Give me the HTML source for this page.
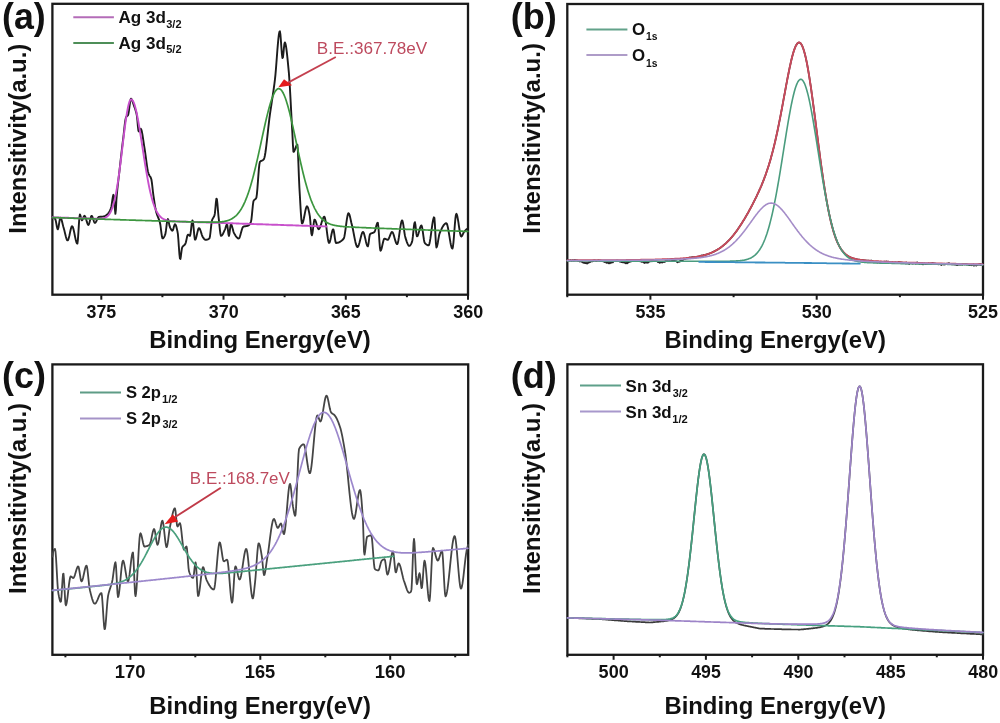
<!DOCTYPE html>
<html><head><meta charset="utf-8"><style>
html,body{margin:0;padding:0;background:#fff;width:1000px;height:723px;overflow:hidden}
svg{display:block;filter:blur(0.45px)}
</style></head><body>
<svg width="1000" height="723" viewBox="0 0 1000 723">
<g font-family='"Liberation Sans", sans-serif' fill="#111">
<rect x="52.4" y="3.8" width="415.6" height="290.9" fill="none" stroke="#1a1a1a" stroke-width="2.3"/>
<line x1="468.0" y1="294.7" x2="468.0" y2="299.7" stroke="#1a1a1a" stroke-width="2"/>
<text x="453.19" y="318.15" font-size="18.4" font-weight="bold" textLength="29.95" lengthAdjust="spacingAndGlyphs" >360</text>
<line x1="406.9" y1="294.7" x2="406.9" y2="297.2" stroke="#1a1a1a" stroke-width="2"/>
<line x1="345.8" y1="294.7" x2="345.8" y2="299.7" stroke="#1a1a1a" stroke-width="2"/>
<text x="330.96" y="318.15" font-size="18.4" font-weight="bold" textLength="29.70" lengthAdjust="spacingAndGlyphs" >365</text>
<line x1="284.6" y1="294.7" x2="284.6" y2="297.2" stroke="#1a1a1a" stroke-width="2"/>
<line x1="223.5" y1="294.7" x2="223.5" y2="299.7" stroke="#1a1a1a" stroke-width="2"/>
<text x="208.72" y="318.15" font-size="18.4" font-weight="bold" textLength="29.95" lengthAdjust="spacingAndGlyphs" >370</text>
<line x1="162.4" y1="294.7" x2="162.4" y2="297.2" stroke="#1a1a1a" stroke-width="2"/>
<line x1="101.3" y1="294.7" x2="101.3" y2="299.7" stroke="#1a1a1a" stroke-width="2"/>
<text x="86.49" y="318.15" font-size="18.4" font-weight="bold" textLength="29.70" lengthAdjust="spacingAndGlyphs" >375</text>
<text x="2.12" y="28.80" font-size="36.4" font-weight="bold" textLength="43.66" lengthAdjust="spacingAndGlyphs" >(a)</text>
<text x="149.20" y="348.40" font-size="24.0" font-weight="bold" textLength="221.59" lengthAdjust="spacingAndGlyphs" >Binding Energy(eV)</text>
<text transform="translate(25.50,232.10) rotate(-90)" x="-1.60" y="0" font-size="23.5" font-weight="bold" textLength="189.99" lengthAdjust="spacingAndGlyphs">Intensitivity(a.u.)</text>
<line x1="73.3" y1="17.2" x2="113.9" y2="17.2" stroke="#b46cb8" stroke-width="2"/>
<text x="118.48" y="22.50" font-size="17.0" font-weight="bold" textLength="47.35" lengthAdjust="spacingAndGlyphs" >Ag 3d</text>
<text x="166.25" y="28.10" font-size="11.4" font-weight="bold" textLength="15.29" lengthAdjust="spacingAndGlyphs" >3/2</text>
<line x1="73.3" y1="43.1" x2="113.9" y2="43.1" stroke="#4e8e58" stroke-width="2"/>
<text x="118.48" y="48.50" font-size="17.0" font-weight="bold" textLength="47.35" lengthAdjust="spacingAndGlyphs" >Ag 3d</text>
<text x="166.16" y="52.90" font-size="11.4" font-weight="bold" textLength="15.38" lengthAdjust="spacingAndGlyphs" >5/2</text>
<path d="M52.4,217.0 L52.9,217.1 L53.4,217.3 L53.9,217.7 L54.4,218.1 L54.9,218.6 L55.4,219.4 L55.9,221.3 L56.4,224.0 L56.9,226.8 L57.4,228.8 L57.9,229.3 L58.4,227.8 L58.9,224.9 L59.4,221.6 L59.9,218.8 L60.4,217.7 L60.9,218.1 L61.4,219.3 L61.9,221.0 L62.4,223.0 L62.9,225.1 L63.4,227.1 L63.9,228.8 L64.4,230.6 L64.9,232.7 L65.4,234.8 L65.9,236.8 L66.4,238.5 L66.9,239.8 L67.4,240.4 L67.9,240.3 L68.4,239.3 L68.9,237.6 L69.4,235.5 L69.9,233.1 L70.4,230.8 L70.9,228.7 L71.4,227.1 L71.9,226.3 L72.4,226.4 L72.9,227.3 L73.4,228.9 L73.9,231.0 L74.4,233.4 L74.9,236.0 L75.4,238.4 L75.9,240.6 L76.4,242.3 L76.9,243.4 L77.4,243.6 L77.9,239.8 L78.4,232.4 L78.9,224.1 L79.4,217.3 L79.9,214.5 L80.4,215.4 L80.9,217.4 L81.4,219.4 L81.9,220.3 L82.4,219.9 L82.9,218.8 L83.4,217.5 L83.9,216.4 L84.4,215.8 L84.9,216.1 L85.4,217.0 L85.9,218.5 L86.4,220.2 L86.9,221.9 L87.4,223.4 L87.9,224.5 L88.4,224.9 L88.9,224.3 L89.4,222.8 L89.9,220.8 L90.4,218.7 L90.9,216.9 L91.4,215.9 L91.9,216.0 L92.4,216.8 L92.9,218.2 L93.4,219.8 L93.9,221.3 L94.4,222.5 L94.9,222.9 L95.4,222.6 L95.9,222.0 L96.4,221.0 L96.9,219.9 L97.4,218.9 L97.9,217.9 L98.4,217.2 L98.9,217.0 L99.4,216.9 L99.9,216.8 L100.4,216.8 L100.9,216.7 L101.4,216.7 L101.9,216.7 L102.4,216.6 L102.9,216.6 L103.4,216.5 L103.9,216.4 L104.4,216.3 L104.9,216.1 L105.4,215.8 L105.9,215.5 L106.4,215.1 L106.9,214.7 L107.4,214.3 L107.9,213.8 L108.4,213.2 L108.9,212.5 L109.4,211.6 L109.9,210.7 L110.4,209.5 L110.9,208.3 L111.4,206.4 L111.9,203.2 L112.4,199.7 L112.9,196.6 L113.4,194.8 L113.9,195.9 L114.4,202.0 L114.9,209.4 L115.4,213.8 L115.9,209.7 L116.4,199.8 L116.9,193.8 L117.4,188.7 L117.9,184.1 L118.4,179.9 L118.9,175.7 L119.4,171.3 L119.9,166.8 L120.4,162.3 L120.9,157.9 L121.4,153.5 L121.9,149.1 L122.4,144.9 L122.9,140.8 L123.4,136.8 L123.9,132.3 L124.4,127.7 L124.9,123.4 L125.4,119.9 L125.9,117.6 L126.4,116.7 L126.9,116.2 L127.4,115.9 L127.9,115.4 L128.4,113.9 L128.9,110.9 L129.4,107.1 L129.9,103.3 L130.4,100.3 L130.9,98.7 L131.4,98.9 L131.9,99.7 L132.4,101.0 L132.9,102.4 L133.4,104.0 L133.9,105.5 L134.4,106.9 L134.9,108.2 L135.4,109.7 L135.9,111.4 L136.4,113.3 L136.9,115.8 L137.4,120.5 L137.9,126.3 L138.4,130.7 L138.9,131.5 L139.4,130.8 L139.9,129.7 L140.4,128.9 L140.9,128.8 L141.4,129.8 L141.9,131.8 L142.4,134.5 L142.9,137.6 L143.4,141.0 L143.9,144.4 L144.4,147.5 L144.9,150.6 L145.4,154.1 L145.9,157.8 L146.4,161.7 L146.9,165.3 L147.4,168.6 L147.9,171.4 L148.4,173.3 L148.9,174.5 L149.4,175.4 L149.9,176.2 L150.4,176.9 L150.9,178.0 L151.4,179.5 L151.9,182.6 L152.4,186.9 L152.9,191.5 L153.4,195.3 L153.9,198.7 L154.4,202.1 L154.9,205.3 L155.4,208.3 L155.9,210.8 L156.4,212.7 L156.9,214.3 L157.4,215.6 L157.9,216.8 L158.4,218.1 L158.9,219.4 L159.4,220.9 L159.9,222.5 L160.4,225.0 L160.9,228.8 L161.4,232.8 L161.9,236.3 L162.4,238.3 L162.9,238.4 L163.4,238.0 L163.9,237.3 L164.4,236.4 L164.9,235.3 L165.4,233.9 L165.9,230.9 L166.4,226.9 L166.9,222.8 L167.4,219.9 L167.9,219.0 L168.4,220.4 L168.9,222.9 L169.4,225.4 L169.9,227.0 L170.4,228.1 L170.9,229.1 L171.4,229.9 L171.9,230.5 L172.4,230.7 L172.9,230.1 L173.4,228.6 L173.9,226.7 L174.4,225.1 L174.9,224.2 L175.4,224.5 L175.9,225.4 L176.4,226.9 L176.9,228.9 L177.4,231.1 L177.9,234.1 L178.4,240.0 L178.9,247.2 L179.4,253.9 L179.9,258.4 L180.4,259.0 L180.9,256.0 L181.4,251.8 L181.9,248.3 L182.4,247.0 L182.9,246.3 L183.4,245.8 L183.9,245.4 L184.4,245.0 L184.9,244.5 L185.4,243.7 L185.9,242.2 L186.4,240.0 L186.9,237.6 L187.4,235.6 L187.9,234.6 L188.4,234.7 L188.9,235.2 L189.4,235.7 L189.9,235.9 L190.4,234.4 L190.9,230.8 L191.4,226.3 L191.9,222.4 L192.4,220.4 L192.9,221.5 L193.4,225.7 L193.9,231.2 L194.4,236.3 L194.9,239.5 L195.4,239.6 L195.9,238.5 L196.4,236.8 L196.9,234.6 L197.4,232.4 L197.9,230.4 L198.4,228.8 L198.9,228.1 L199.4,228.3 L199.9,229.1 L200.4,230.3 L200.9,231.8 L201.4,233.4 L201.9,235.0 L202.4,236.3 L202.9,237.2 L203.4,237.9 L203.9,238.6 L204.4,239.2 L204.9,239.6 L205.4,239.8 L205.9,239.8 L206.4,239.7 L206.9,239.6 L207.4,239.5 L207.9,239.3 L208.4,239.1 L208.9,238.8 L209.4,238.5 L209.9,236.8 L210.4,233.0 L210.9,228.3 L211.4,223.8 L211.9,220.7 L212.4,219.3 L212.9,218.3 L213.4,217.6 L213.9,216.8 L214.4,215.7 L214.9,213.4 L215.4,208.2 L215.9,202.4 L216.4,198.6 L216.9,199.1 L217.4,203.5 L217.9,209.7 L218.4,215.5 L218.9,220.1 L219.4,225.0 L219.9,229.8 L220.4,233.6 L220.9,235.7 L221.4,235.8 L221.9,235.5 L222.4,234.8 L222.9,234.0 L223.4,232.9 L223.9,231.8 L224.4,230.7 L224.9,229.6 L225.4,228.3 L225.9,226.6 L226.4,225.1 L226.9,224.2 L227.4,225.5 L227.9,229.6 L228.4,233.9 L228.9,235.9 L229.4,234.1 L229.9,230.1 L230.4,226.0 L230.9,224.2 L231.4,224.7 L231.9,226.0 L232.4,227.7 L232.9,229.6 L233.4,231.5 L233.9,232.9 L234.4,233.8 L234.9,234.6 L235.4,235.4 L235.9,236.2 L236.4,236.9 L236.9,237.4 L237.4,237.9 L237.9,238.3 L238.4,238.5 L238.9,238.4 L239.4,237.8 L239.9,236.6 L240.4,234.9 L240.9,233.1 L241.4,231.2 L241.9,229.5 L242.4,228.0 L242.9,227.1 L243.4,226.7 L243.9,226.5 L244.4,226.4 L244.9,226.3 L245.4,226.2 L245.9,226.1 L246.4,226.1 L246.9,226.0 L247.4,225.9 L247.9,225.7 L248.4,225.5 L248.9,225.2 L249.4,224.6 L249.9,223.9 L250.4,223.0 L250.9,221.8 L251.4,219.6 L251.9,215.2 L252.4,209.9 L252.9,204.8 L253.4,201.4 L253.9,200.3 L254.4,199.8 L254.9,199.5 L255.4,199.1 L255.9,198.6 L256.4,197.6 L256.9,194.1 L257.4,188.6 L257.9,181.9 L258.4,175.0 L258.9,168.7 L259.4,164.1 L259.9,161.9 L260.4,161.4 L260.9,161.0 L261.4,160.8 L261.9,160.6 L262.4,160.4 L262.9,160.1 L263.4,159.7 L263.9,159.1 L264.4,157.7 L264.9,155.5 L265.4,152.5 L265.9,149.0 L266.4,145.0 L266.9,140.7 L267.4,136.2 L267.9,131.6 L268.4,127.0 L268.9,122.6 L269.4,118.4 L269.9,114.6 L270.4,111.1 L270.9,107.8 L271.4,104.5 L271.9,101.2 L272.4,97.9 L272.9,94.5 L273.4,91.1 L273.9,87.5 L274.4,83.8 L274.9,79.8 L275.4,75.1 L275.9,69.4 L276.4,63.0 L276.9,56.4 L277.4,49.8 L277.9,43.8 L278.4,38.5 L278.9,34.4 L279.4,31.9 L279.9,31.3 L280.4,34.4 L280.9,40.5 L281.4,47.7 L281.9,54.1 L282.4,58.0 L282.9,57.6 L283.4,53.6 L283.9,48.2 L284.4,43.8 L284.9,42.4 L285.4,43.4 L285.9,45.7 L286.4,48.9 L286.9,53.0 L287.4,57.6 L287.9,62.6 L288.4,67.8 L288.9,73.1 L289.4,80.0 L289.9,88.0 L290.4,96.9 L290.9,106.3 L291.4,115.8 L291.9,125.0 L292.4,133.8 L292.9,144.5 L293.4,151.7 L293.9,151.8 L294.4,150.9 L294.9,149.7 L295.4,148.3 L295.9,146.8 L296.4,145.6 L296.9,144.7 L297.4,144.7 L297.9,151.1 L298.4,163.2 L298.9,176.8 L299.4,187.7 L299.9,196.3 L300.4,205.3 L300.9,213.5 L301.4,219.8 L301.9,223.3 L302.4,223.4 L302.9,222.4 L303.4,220.6 L303.9,218.3 L304.4,215.7 L304.9,213.1 L305.4,210.6 L305.9,208.5 L306.4,207.0 L306.9,206.3 L307.4,206.6 L307.9,207.6 L308.4,209.3 L308.9,211.4 L309.4,213.8 L309.9,216.6 L310.4,222.1 L310.9,228.6 L311.4,233.8 L311.9,235.3 L312.4,233.5 L312.9,230.0 L313.4,225.8 L313.9,222.0 L314.4,219.7 L314.9,219.6 L315.4,220.5 L315.9,221.8 L316.4,223.5 L316.9,225.2 L317.4,226.9 L317.9,228.2 L318.4,229.1 L318.9,229.2 L319.4,228.7 L319.9,227.7 L320.4,226.4 L320.9,224.9 L321.4,223.3 L321.9,221.6 L322.4,220.0 L322.9,218.7 L323.4,217.6 L323.9,216.9 L324.4,216.7 L324.9,217.8 L325.4,220.2 L325.9,223.5 L326.4,227.4 L326.9,231.5 L327.4,235.4 L327.9,238.9 L328.4,241.5 L328.9,242.9 L329.4,242.8 L329.9,241.6 L330.4,239.7 L330.9,237.4 L331.4,234.8 L331.9,232.5 L332.4,230.6 L332.9,229.4 L333.4,229.4 L333.9,231.4 L334.4,234.6 L334.9,238.3 L335.4,241.4 L335.9,242.9 L336.4,243.0 L336.9,242.9 L337.4,242.8 L337.9,242.7 L338.4,242.6 L338.9,242.4 L339.4,242.1 L339.9,241.9 L340.4,241.5 L340.9,241.2 L341.4,240.8 L341.9,240.4 L342.4,240.0 L342.9,239.5 L343.4,239.0 L343.9,238.2 L344.4,236.4 L344.9,233.6 L345.4,230.2 L345.9,226.5 L346.4,222.7 L346.9,219.2 L347.4,216.3 L347.9,214.2 L348.4,213.2 L348.9,213.5 L349.4,214.6 L349.9,216.3 L350.4,218.4 L350.9,220.7 L351.4,223.0 L351.9,225.0 L352.4,227.0 L352.9,229.3 L353.4,231.9 L353.9,234.5 L354.4,237.1 L354.9,239.6 L355.4,241.9 L355.9,243.9 L356.4,245.5 L356.9,246.6 L357.4,247.1 L357.9,246.9 L358.4,246.0 L358.9,244.6 L359.4,242.9 L359.9,240.9 L360.4,238.9 L360.9,236.9 L361.4,235.0 L361.9,233.5 L362.4,232.4 L362.9,231.9 L363.4,232.2 L363.9,233.2 L364.4,234.9 L364.9,236.9 L365.4,239.1 L365.9,241.4 L366.4,243.4 L366.9,245.1 L367.4,246.1 L367.9,246.3 L368.4,244.3 L368.9,240.6 L369.4,236.7 L369.9,234.4 L370.4,233.8 L370.9,233.5 L371.4,233.3 L371.9,233.1 L372.4,233.0 L372.9,232.8 L373.4,232.6 L373.9,232.4 L374.4,232.0 L374.9,231.1 L375.4,229.5 L375.9,227.5 L376.4,225.6 L376.9,223.9 L377.4,222.8 L377.9,223.0 L378.4,227.0 L378.9,233.7 L379.4,241.2 L379.9,247.5 L380.4,250.7 L380.9,250.4 L381.4,249.2 L381.9,247.2 L382.4,245.0 L382.9,242.7 L383.4,240.7 L383.9,239.2 L384.4,238.7 L384.9,238.8 L385.4,238.9 L385.9,239.2 L386.4,239.4 L386.9,239.6 L387.4,239.8 L387.9,239.8 L388.4,239.3 L388.9,238.4 L389.4,237.2 L389.9,235.9 L390.4,234.6 L390.9,233.4 L391.4,232.5 L391.9,232.0 L392.4,232.1 L392.9,232.8 L393.4,234.0 L393.9,235.6 L394.4,237.4 L394.9,239.2 L395.4,240.9 L395.9,242.4 L396.4,243.5 L396.9,244.1 L397.4,244.0 L397.9,242.6 L398.4,240.2 L398.9,237.2 L399.4,233.7 L399.9,230.2 L400.4,226.8 L400.9,223.9 L401.4,221.7 L401.9,220.5 L402.4,220.7 L402.9,222.5 L403.4,225.4 L403.9,228.8 L404.4,232.3 L404.9,235.4 L405.4,237.6 L405.9,239.1 L406.4,240.6 L406.9,242.1 L407.4,243.4 L407.9,244.4 L408.4,245.3 L408.9,245.8 L409.4,245.9 L409.9,245.7 L410.4,245.1 L410.9,244.3 L411.4,243.4 L411.9,242.2 L412.4,240.2 L412.9,236.2 L413.4,231.2 L413.9,226.5 L414.4,223.1 L414.9,222.2 L415.4,224.7 L415.9,229.3 L416.4,233.9 L416.9,236.4 L417.4,236.2 L417.9,235.3 L418.4,233.8 L418.9,232.1 L419.4,230.2 L419.9,228.4 L420.4,226.9 L420.9,225.8 L421.4,225.4 L421.9,226.4 L422.4,228.9 L422.9,232.3 L423.4,236.1 L423.9,239.5 L424.4,242.1 L424.9,243.2 L425.4,243.7 L425.9,244.1 L426.4,244.5 L426.9,244.8 L427.4,245.1 L427.9,245.2 L428.4,245.3 L428.9,245.1 L429.4,243.7 L429.9,241.4 L430.4,238.4 L430.9,234.9 L431.4,231.2 L431.9,227.5 L432.4,224.0 L432.9,221.0 L433.4,218.7 L433.9,217.3 L434.4,217.8 L434.9,224.4 L435.4,234.4 L435.9,243.5 L436.4,247.5 L436.9,246.8 L437.4,244.8 L437.9,242.2 L438.4,239.2 L438.9,236.3 L439.4,234.0 L439.9,232.6 L440.4,231.5 L440.9,230.3 L441.4,229.3 L441.9,228.2 L442.4,227.3 L442.9,226.4 L443.4,225.6 L443.9,224.9 L444.4,224.3 L444.9,223.8 L445.4,223.5 L445.9,223.3 L446.4,223.2 L446.9,223.9 L447.4,225.4 L447.9,227.5 L448.4,230.2 L448.9,233.1 L449.4,236.2 L449.9,239.3 L450.4,242.2 L450.9,244.7 L451.4,246.8 L451.9,248.1 L452.4,248.6 L452.9,247.0 L453.4,242.9 L453.9,237.1 L454.4,230.5 L454.9,224.0 L455.4,218.5 L455.9,214.8 L456.4,213.8 L456.9,214.7 L457.4,216.6 L457.9,219.3 L458.4,222.4 L458.9,225.8 L459.4,229.2 L459.9,232.2 L460.4,234.6 L460.9,236.1 L461.4,236.5 L461.9,236.1 L462.4,235.2 L462.9,234.1 L463.4,233.0 L463.9,232.1 L464.4,231.5 L464.9,230.9 L465.4,230.4 L465.9,229.9 L466.4,229.4 L466.9,229.1" fill="none" stroke="#1c1c1c" stroke-width="1.9" stroke-linejoin="round" stroke-linecap="round"/>
<path d="M52.4,217.3 L52.9,217.3 L53.4,217.3 L53.9,217.4 L54.4,217.4 L54.9,217.4 L55.4,217.4 L55.9,217.4 L56.4,217.4 L56.9,217.5 L57.4,217.5 L57.9,217.5 L58.4,217.5 L58.9,217.5 L59.4,217.5 L59.9,217.6 L60.4,217.6 L60.9,217.6 L61.4,217.6 L61.9,217.6 L62.4,217.6 L62.9,217.7 L63.4,217.7 L63.9,217.7 L64.4,217.7 L64.9,217.7 L65.4,217.7 L65.9,217.8 L66.4,217.8 L66.9,217.8 L67.4,217.8 L67.9,217.8 L68.4,217.8 L68.9,217.9 L69.4,217.9 L69.9,217.9 L70.4,217.9 L70.9,217.9 L71.4,217.9 L71.9,218.0 L72.4,218.0 L72.9,218.0 L73.4,218.0 L73.9,218.0 L74.4,218.0 L74.9,218.1 L75.4,218.1 L75.9,218.1 L76.4,218.1 L76.9,218.1 L77.4,218.1 L77.9,218.2 L78.4,218.2 L78.9,218.2 L79.4,218.2 L79.9,218.2 L80.4,218.2 L80.9,218.3 L81.4,218.3 L81.9,218.3 L82.4,218.3 L82.9,218.3 L83.4,218.3 L83.9,218.4 L84.4,218.4 L84.9,218.4 L85.4,218.4 L85.9,218.4 L86.4,218.4 L86.9,218.5 L87.4,218.5 L87.9,218.5 L88.4,218.5 L88.9,218.5 L89.4,218.5 L89.9,218.6 L90.4,218.6 L90.9,218.6 L91.4,218.6 L91.9,218.6 L92.4,218.6 L92.9,218.6 L93.4,218.7 L93.9,218.7 L94.4,218.7 L94.9,218.7 L95.4,218.7 L95.9,218.7 L96.4,218.7 L96.9,218.7 L97.4,218.7 L97.9,218.7 L98.4,218.7 L98.9,218.7 L99.4,218.7 L99.9,218.7 L100.4,218.7 L100.9,218.6 L101.4,218.6 L101.9,218.5 L102.4,218.5 L102.9,218.4 L103.4,218.3 L103.9,218.1 L104.4,218.0 L104.9,217.8 L105.4,217.6 L105.9,217.3 L106.4,217.0 L106.9,216.7 L107.4,216.3 L107.9,215.8 L108.4,215.3 L108.9,214.7 L109.4,214.0 L109.9,213.2 L110.4,212.3 L110.9,211.3 L111.4,210.2 L111.9,209.0 L112.4,207.6 L112.9,206.1 L113.4,204.4 L113.9,202.6 L114.4,200.7 L114.9,198.5 L115.4,196.2 L115.9,193.7 L116.4,191.0 L116.9,188.2 L117.4,185.2 L117.9,182.0 L118.4,178.6 L118.9,175.1 L119.4,171.5 L119.9,167.7 L120.4,163.8 L120.9,159.8 L121.4,155.7 L121.9,151.5 L122.4,147.4 L122.9,143.2 L123.4,139.0 L123.9,134.9 L124.4,130.9 L124.9,127.0 L125.4,123.2 L125.9,119.6 L126.4,116.3 L126.9,113.1 L127.4,110.3 L127.9,107.7 L128.4,105.4 L128.9,103.5 L129.4,101.9 L129.9,100.7 L130.4,99.9 L130.9,99.5 L131.4,99.5 L131.9,99.7 L132.4,100.2 L132.9,100.9 L133.4,101.8 L133.9,102.9 L134.4,104.3 L134.9,105.9 L135.4,107.7 L135.9,109.7 L136.4,111.8 L136.9,114.1 L137.4,116.6 L137.9,119.2 L138.4,122.0 L138.9,124.8 L139.4,127.8 L139.9,130.9 L140.4,134.0 L140.9,137.2 L141.4,140.4 L141.9,143.6 L142.4,146.9 L142.9,150.1 L143.4,153.4 L143.9,156.6 L144.4,159.8 L144.9,163.0 L145.4,166.1 L145.9,169.1 L146.4,172.0 L146.9,174.9 L147.4,177.7 L147.9,180.4 L148.4,183.0 L148.9,185.6 L149.4,188.0 L149.9,190.3 L150.4,192.5 L150.9,194.6 L151.4,196.6 L151.9,198.4 L152.4,200.2 L152.9,201.9 L153.4,203.5 L153.9,204.9 L154.4,206.3 L154.9,207.6 L155.4,208.8 L155.9,209.9 L156.4,211.0 L156.9,211.9 L157.4,212.8 L157.9,213.6 L158.4,214.4 L158.9,215.0 L159.4,215.7 L159.9,216.2 L160.4,216.8 L160.9,217.2 L161.4,217.7 L161.9,218.1 L162.4,218.4 L162.9,218.7 L163.4,219.0 L163.9,219.3 L164.4,219.5 L164.9,219.7 L165.4,219.9 L165.9,220.1 L166.4,220.2 L166.9,220.3 L167.4,220.5 L167.9,220.6 L168.4,220.7 L168.9,220.8 L169.4,220.8 L169.9,220.9 L170.4,221.0 L170.9,221.0 L171.4,221.1 L171.9,221.1 L172.4,221.2 L172.9,221.2 L173.4,221.2 L173.9,221.3 L174.4,221.3 L174.9,221.3 L175.4,221.4 L175.9,221.4 L176.4,221.4 L176.9,221.4 L177.4,221.5 L177.9,221.5 L178.4,221.5 L178.9,221.5 L179.4,221.5 L179.9,221.6 L180.4,221.6 L180.9,221.6 L181.4,221.6 L181.9,221.6 L182.4,221.7 L182.9,221.7 L183.4,221.7 L183.9,221.7 L184.4,221.7 L184.9,221.7 L185.4,221.8 L185.9,221.8 L186.4,221.8 L186.9,221.8 L187.4,221.8 L187.9,221.8 L188.4,221.9 L188.9,221.9 L189.4,221.9 L189.9,221.9 L190.4,221.9 L190.9,221.9 L191.4,222.0 L191.9,222.0 L192.4,222.0 L192.9,222.0 L193.4,222.0 L193.9,222.0 L194.4,222.1 L194.9,222.1 L195.4,222.1 L195.9,222.1 L196.4,222.1 L196.9,222.1 L197.4,222.2 L197.9,222.2 L198.4,222.2 L198.9,222.2 L199.4,222.2 L199.9,222.2 L200.4,222.3 L200.9,222.3 L201.4,222.3 L201.9,222.3 L202.4,222.3 L202.9,222.3 L203.4,222.4 L203.9,222.4 L204.4,222.4 L204.9,222.4 L205.4,222.4 L205.9,222.4 L206.4,222.5 L206.9,222.5 L207.4,222.5 L207.9,222.5 L208.4,222.5 L208.9,222.5 L209.4,222.6 L209.9,222.6 L210.4,222.6 L210.9,222.6 L211.4,222.6 L211.9,222.6 L212.4,222.7 L212.9,222.7 L213.4,222.7 L213.9,222.7 L214.4,222.7 L214.9,222.7 L215.4,222.8 L215.9,222.8 L216.4,222.8 L216.9,222.8 L217.4,222.8 L217.9,222.8 L218.4,222.9 L218.9,222.9 L219.4,222.9 L219.9,222.9 L220.4,222.9 L220.9,222.9 L221.4,223.0 L221.9,223.0 L222.4,223.0 L222.9,223.0 L223.4,223.0 L223.9,223.0 L224.4,223.1 L224.9,223.1 L225.4,223.1 L225.9,223.1 L226.4,223.1 L226.9,223.1 L227.4,223.2 L227.9,223.2 L228.4,223.2 L228.9,223.2 L229.4,223.2 L229.9,223.2 L230.4,223.3 L230.9,223.3 L231.4,223.3 L231.9,223.3 L232.4,223.3 L232.9,223.3 L233.4,223.4 L233.9,223.4 L234.4,223.4 L234.9,223.4 L235.4,223.4 L235.9,223.4 L236.4,223.5 L236.9,223.5 L237.4,223.5 L237.9,223.5 L238.4,223.5 L238.9,223.5 L239.4,223.6 L239.9,223.6 L240.4,223.6 L240.9,223.6 L241.4,223.6 L241.9,223.6 L242.4,223.7 L242.9,223.7 L243.4,223.7 L243.9,223.7 L244.4,223.7 L244.9,223.7 L245.4,223.8 L245.9,223.8 L246.4,223.8 L246.9,223.8 L247.4,223.8 L247.9,223.8 L248.4,223.9 L248.9,223.9 L249.4,223.9 L249.9,223.9 L250.4,223.9 L250.9,223.9 L251.4,224.0 L251.9,224.0 L252.4,224.0 L252.9,224.0 L253.4,224.0 L253.9,224.1 L254.4,224.1 L254.9,224.1 L255.4,224.1 L255.9,224.1 L256.4,224.1 L256.9,224.2 L257.4,224.2 L257.9,224.2 L258.4,224.2 L258.9,224.2 L259.4,224.2 L259.9,224.3 L260.4,224.3 L260.9,224.3 L261.4,224.3 L261.9,224.3 L262.4,224.3 L262.9,224.4 L263.4,224.4 L263.9,224.4 L264.4,224.4 L264.9,224.4 L265.4,224.4 L265.9,224.5 L266.4,224.5 L266.9,224.5 L267.4,224.5 L267.9,224.5 L268.4,224.5 L268.9,224.6 L269.4,224.6 L269.9,224.6 L270.4,224.6 L270.9,224.6 L271.4,224.6 L271.9,224.7 L272.4,224.7 L272.9,224.7 L273.4,224.7 L273.9,224.7 L274.4,224.7 L274.9,224.8 L275.4,224.8 L275.9,224.8 L276.4,224.8 L276.9,224.8 L277.4,224.8 L277.9,224.9 L278.4,224.9 L278.9,224.9 L279.4,224.9 L279.9,224.9 L280.4,224.9 L280.9,225.0 L281.4,225.0 L281.9,225.0 L282.4,225.0 L282.9,225.0 L283.4,225.0 L283.9,225.1 L284.4,225.1 L284.9,225.1 L285.4,225.1 L285.9,225.1 L286.4,225.1 L286.9,225.2 L287.4,225.2 L287.9,225.2 L288.4,225.2 L288.9,225.2 L289.4,225.2 L289.9,225.3 L290.4,225.3 L290.9,225.3 L291.4,225.3 L291.9,225.3 L292.4,225.3 L292.9,225.4 L293.4,225.4 L293.9,225.4 L294.4,225.4 L294.9,225.4 L295.4,225.4 L295.9,225.5 L296.4,225.5 L296.9,225.5 L297.4,225.5 L297.9,225.5 L298.4,225.5 L298.9,225.6 L299.4,225.6 L299.9,225.6 L300.4,225.6 L300.9,225.6 L301.4,225.6 L301.9,225.7 L302.4,225.7 L302.9,225.7 L303.4,225.7 L303.9,225.7 L304.4,225.7 L304.9,225.8 L305.4,225.8 L305.9,225.8 L306.4,225.8 L306.9,225.8 L307.4,225.8 L307.9,225.9 L308.4,225.9 L308.9,225.9 L309.4,225.9 L309.9,225.9 L310.4,225.9 L310.9,226.0 L311.4,226.0 L311.9,226.0 L312.4,226.0 L312.9,226.0 L313.4,226.0 L313.9,226.1 L314.4,226.1 L314.9,226.1 L315.4,226.1 L315.9,226.1 L316.4,226.1 L316.9,226.2 L317.4,226.2 L317.9,226.2 L318.4,226.2 L318.9,226.2 L319.4,226.2 L319.9,226.3 L320.4,226.3 L320.9,226.3 L321.4,226.3 L321.9,226.3 L322.4,226.3 L322.9,226.4 L323.4,226.4 L323.9,226.4 L324.4,226.4 L324.9,226.4 L325.4,226.4 L325.9,226.5 L326.4,226.5" fill="none" stroke="#c850cc" stroke-width="1.9" stroke-linejoin="round" stroke-linecap="round"/>
<path d="M52.4,217.5 L52.9,217.6 L53.4,217.6 L53.9,217.6 L54.4,217.6 L54.9,217.6 L55.4,217.6 L55.9,217.7 L56.4,217.7 L56.9,217.7 L57.4,217.7 L57.9,217.7 L58.4,217.7 L58.9,217.8 L59.4,217.8 L59.9,217.8 L60.4,217.8 L60.9,217.8 L61.4,217.8 L61.9,217.9 L62.4,217.9 L62.9,217.9 L63.4,217.9 L63.9,217.9 L64.4,217.9 L64.9,218.0 L65.4,218.0 L65.9,218.0 L66.4,218.0 L66.9,218.0 L67.4,218.0 L67.9,218.1 L68.4,218.1 L68.9,218.1 L69.4,218.1 L69.9,218.1 L70.4,218.1 L70.9,218.2 L71.4,218.2 L71.9,218.2 L72.4,218.2 L72.9,218.2 L73.4,218.2 L73.9,218.3 L74.4,218.3 L74.9,218.3 L75.4,218.3 L75.9,218.3 L76.4,218.3 L76.9,218.3 L77.4,218.4 L77.9,218.4 L78.4,218.4 L78.9,218.4 L79.4,218.4 L79.9,218.4 L80.4,218.5 L80.9,218.5 L81.4,218.5 L81.9,218.5 L82.4,218.5 L82.9,218.5 L83.4,218.6 L83.9,218.6 L84.4,218.6 L84.9,218.6 L85.4,218.6 L85.9,218.6 L86.4,218.7 L86.9,218.7 L87.4,218.7 L87.9,218.7 L88.4,218.7 L88.9,218.7 L89.4,218.8 L89.9,218.8 L90.4,218.8 L90.9,218.8 L91.4,218.8 L91.9,218.8 L92.4,218.9 L92.9,218.9 L93.4,218.9 L93.9,218.9 L94.4,218.9 L94.9,218.9 L95.4,219.0 L95.9,219.0 L96.4,219.0 L96.9,219.0 L97.4,219.0 L97.9,219.0 L98.4,219.1 L98.9,219.1 L99.4,219.1 L99.9,219.1 L100.4,219.1 L100.9,219.1 L101.4,219.1 L101.9,219.2 L102.4,219.2 L102.9,219.2 L103.4,219.2 L103.9,219.2 L104.4,219.2 L104.9,219.3 L105.4,219.3 L105.9,219.3 L106.4,219.3 L106.9,219.3 L107.4,219.3 L107.9,219.4 L108.4,219.4 L108.9,219.4 L109.4,219.4 L109.9,219.4 L110.4,219.4 L110.9,219.5 L111.4,219.5 L111.9,219.5 L112.4,219.5 L112.9,219.5 L113.4,219.5 L113.9,219.6 L114.4,219.6 L114.9,219.6 L115.4,219.6 L115.9,219.6 L116.4,219.6 L116.9,219.7 L117.4,219.7 L117.9,219.7 L118.4,219.7 L118.9,219.7 L119.4,219.7 L119.9,219.7 L120.4,219.8 L120.9,219.8 L121.4,219.8 L121.9,219.8 L122.4,219.8 L122.9,219.8 L123.4,219.9 L123.9,219.9 L124.4,219.9 L124.9,219.9 L125.4,219.9 L125.9,219.9 L126.4,220.0 L126.9,220.0 L127.4,220.0 L127.9,220.0 L128.4,220.0 L128.9,220.0 L129.4,220.1 L129.9,220.1 L130.4,220.1 L130.9,220.1 L131.4,220.1 L131.9,220.1 L132.4,220.1 L132.9,220.2 L133.4,220.2 L133.9,220.2 L134.4,220.2 L134.9,220.2 L135.4,220.2 L135.9,220.3 L136.4,220.3 L136.9,220.3 L137.4,220.3 L137.9,220.3 L138.4,220.3 L138.9,220.4 L139.4,220.4 L139.9,220.4 L140.4,220.4 L140.9,220.4 L141.4,220.4 L141.9,220.4 L142.4,220.5 L142.9,220.5 L143.4,220.5 L143.9,220.5 L144.4,220.5 L144.9,220.5 L145.4,220.6 L145.9,220.6 L146.4,220.6 L146.9,220.6 L147.4,220.6 L147.9,220.6 L148.4,220.6 L148.9,220.7 L149.4,220.7 L149.9,220.7 L150.4,220.7 L150.9,220.7 L151.4,220.7 L151.9,220.8 L152.4,220.8 L152.9,220.8 L153.4,220.8 L153.9,220.8 L154.4,220.8 L154.9,220.8 L155.4,220.9 L155.9,220.9 L156.4,220.9 L156.9,220.9 L157.4,220.9 L157.9,220.9 L158.4,221.0 L158.9,221.0 L159.4,221.0 L159.9,221.0 L160.4,221.0 L160.9,221.0 L161.4,221.0 L161.9,221.1 L162.4,221.1 L162.9,221.1 L163.4,221.1 L163.9,221.1 L164.4,221.1 L164.9,221.1 L165.4,221.2 L165.9,221.2 L166.4,221.2 L166.9,221.2 L167.4,221.2 L167.9,221.2 L168.4,221.3 L168.9,221.3 L169.4,221.3 L169.9,221.3 L170.4,221.3 L170.9,221.3 L171.4,221.3 L171.9,221.4 L172.4,221.4 L172.9,221.4 L173.4,221.4 L173.9,221.4 L174.4,221.4 L174.9,221.4 L175.4,221.5 L175.9,221.5 L176.4,221.5 L176.9,221.5 L177.4,221.5 L177.9,221.5 L178.4,221.5 L178.9,221.6 L179.4,221.6 L179.9,221.6 L180.4,221.6 L180.9,221.6 L181.4,221.6 L181.9,221.6 L182.4,221.7 L182.9,221.7 L183.4,221.7 L183.9,221.7 L184.4,221.7 L184.9,221.7 L185.4,221.7 L185.9,221.7 L186.4,221.8 L186.9,221.8 L187.4,221.8 L187.9,221.8 L188.4,221.8 L188.9,221.8 L189.4,221.8 L189.9,221.9 L190.4,221.9 L190.9,221.9 L191.4,221.9 L191.9,221.9 L192.4,221.9 L192.9,221.9 L193.4,221.9 L193.9,222.0 L194.4,222.0 L194.9,222.0 L195.4,222.0 L195.9,222.0 L196.4,222.0 L196.9,222.0 L197.4,222.0 L197.9,222.0 L198.4,222.1 L198.9,222.1 L199.4,222.1 L199.9,222.1 L200.4,222.1 L200.9,222.1 L201.4,222.1 L201.9,222.1 L202.4,222.1 L202.9,222.2 L203.4,222.2 L203.9,222.2 L204.4,222.2 L204.9,222.2 L205.4,222.2 L205.9,222.2 L206.4,222.2 L206.9,222.2 L207.4,222.2 L207.9,222.2 L208.4,222.2 L208.9,222.2 L209.4,222.2 L209.9,222.2 L210.4,222.2 L210.9,222.2 L211.4,222.2 L211.9,222.2 L212.4,222.2 L212.9,222.2 L213.4,222.2 L213.9,222.2 L214.4,222.2 L214.9,222.2 L215.4,222.2 L215.9,222.2 L216.4,222.2 L216.9,222.1 L217.4,222.1 L217.9,222.1 L218.4,222.1 L218.9,222.0 L219.4,222.0 L219.9,222.0 L220.4,221.9 L220.9,221.9 L221.4,221.8 L221.9,221.8 L222.4,221.7 L222.9,221.6 L223.4,221.6 L223.9,221.5 L224.4,221.4 L224.9,221.3 L225.4,221.2 L225.9,221.1 L226.4,220.9 L226.9,220.8 L227.4,220.7 L227.9,220.5 L228.4,220.3 L228.9,220.2 L229.4,220.0 L229.9,219.7 L230.4,219.5 L230.9,219.3 L231.4,219.0 L231.9,218.7 L232.4,218.4 L232.9,218.1 L233.4,217.8 L233.9,217.4 L234.4,217.0 L234.9,216.6 L235.4,216.2 L235.9,215.8 L236.4,215.3 L236.9,214.8 L237.4,214.2 L237.9,213.6 L238.4,213.0 L238.9,212.4 L239.4,211.7 L239.9,211.0 L240.4,210.3 L240.9,209.5 L241.4,208.7 L241.9,207.8 L242.4,206.9 L242.9,206.0 L243.4,205.0 L243.9,204.0 L244.4,202.9 L244.9,201.8 L245.4,200.6 L245.9,199.4 L246.4,198.2 L246.9,196.9 L247.4,195.5 L247.9,194.1 L248.4,192.7 L248.9,191.2 L249.4,189.7 L249.9,188.1 L250.4,186.5 L250.9,184.8 L251.4,183.1 L251.9,181.3 L252.4,179.5 L252.9,177.6 L253.4,175.7 L253.9,173.8 L254.4,171.8 L254.9,169.7 L255.4,167.7 L255.9,165.6 L256.4,163.5 L256.9,161.3 L257.4,159.1 L257.9,156.9 L258.4,154.7 L258.9,152.4 L259.4,150.1 L259.9,147.9 L260.4,145.6 L260.9,143.3 L261.4,140.9 L261.9,138.6 L262.4,136.3 L262.9,134.0 L263.4,131.7 L263.9,129.5 L264.4,127.2 L264.9,125.0 L265.4,122.8 L265.9,120.6 L266.4,118.5 L266.9,116.4 L267.4,114.4 L267.9,112.4 L268.4,110.4 L268.9,108.5 L269.4,106.7 L269.9,105.0 L270.4,103.3 L270.9,101.7 L271.4,100.1 L271.9,98.7 L272.4,97.3 L272.9,96.1 L273.4,94.9 L273.9,93.8 L274.4,92.8 L274.9,91.9 L275.4,91.1 L275.9,90.5 L276.4,89.9 L276.9,89.4 L277.4,89.1 L277.9,88.8 L278.4,88.7 L278.9,88.7 L279.4,88.8 L279.9,89.0 L280.4,89.3 L280.9,89.7 L281.4,90.3 L281.9,90.9 L282.4,91.7 L282.9,92.5 L283.4,93.5 L283.9,94.6 L284.4,95.7 L284.9,97.0 L285.4,98.3 L285.9,99.7 L286.4,101.3 L286.9,102.9 L287.4,104.5 L287.9,106.3 L288.4,108.1 L288.9,110.0 L289.4,111.9 L289.9,113.9 L290.4,116.0 L290.9,118.1 L291.4,120.2 L291.9,122.4 L292.4,124.6 L292.9,126.8 L293.4,129.1 L293.9,131.4 L294.4,133.7 L294.9,136.0 L295.4,138.4 L295.9,140.7 L296.4,143.0 L296.9,145.4 L297.4,147.7 L297.9,150.1 L298.4,152.4 L298.9,154.7 L299.4,156.9 L299.9,159.2 L300.4,161.4 L300.9,163.7 L301.4,165.8 L301.9,168.0 L302.4,170.1 L302.9,172.2 L303.4,174.2 L303.9,176.2 L304.4,178.2 L304.9,180.1 L305.4,182.0 L305.9,183.8 L306.4,185.6 L306.9,187.3 L307.4,189.0 L307.9,190.7 L308.4,192.3 L308.9,193.8 L309.4,195.3 L309.9,196.8 L310.4,198.2 L310.9,199.6 L311.4,200.9 L311.9,202.1 L312.4,203.4 L312.9,204.5 L313.4,205.7 L313.9,206.7 L314.4,207.8 L314.9,208.8 L315.4,209.7 L315.9,210.7 L316.4,211.5 L316.9,212.4 L317.4,213.2 L317.9,213.9 L318.4,214.7 L318.9,215.3 L319.4,216.0 L319.9,216.6 L320.4,217.2 L320.9,217.8 L321.4,218.3 L321.9,218.8 L322.4,219.3 L322.9,219.8 L323.4,220.2 L323.9,220.6 L324.4,221.0 L324.9,221.3 L325.4,221.7 L325.9,222.0 L326.4,222.3 L326.9,222.6 L327.4,222.9 L327.9,223.1 L328.4,223.4 L328.9,223.6 L329.4,223.8 L329.9,224.0 L330.4,224.2 L330.9,224.4 L331.4,224.5 L331.9,224.7 L332.4,224.8 L332.9,225.0 L333.4,225.1 L333.9,225.2 L334.4,225.3 L334.9,225.4 L335.4,225.5 L335.9,225.6 L336.4,225.7 L336.9,225.8 L337.4,225.9 L337.9,225.9 L338.4,226.0 L338.9,226.1 L339.4,226.1 L339.9,226.2 L340.4,226.3 L340.9,226.3 L341.4,226.4 L341.9,226.4 L342.4,226.5 L342.9,226.5 L343.4,226.6 L343.9,226.6 L344.4,226.6 L344.9,226.7 L345.4,226.7 L345.9,226.7 L346.4,226.8 L346.9,226.8 L347.4,226.8 L347.9,226.9 L348.4,226.9 L348.9,226.9 L349.4,227.0 L349.9,227.0 L350.4,227.0 L350.9,227.0 L351.4,227.1 L351.9,227.1 L352.4,227.1 L352.9,227.2 L353.4,227.2 L353.9,227.2 L354.4,227.2 L354.9,227.2 L355.4,227.3 L355.9,227.3 L356.4,227.3 L356.9,227.3 L357.4,227.4 L357.9,227.4 L358.4,227.4 L358.9,227.4 L359.4,227.5 L359.9,227.5 L360.4,227.5 L360.9,227.5 L361.4,227.5 L361.9,227.6 L362.4,227.6 L362.9,227.6 L363.4,227.6 L363.9,227.7 L364.4,227.7 L364.9,227.7 L365.4,227.7 L365.9,227.7 L366.4,227.8 L366.9,227.8 L367.4,227.8 L367.9,227.8 L368.4,227.8 L368.9,227.9 L369.4,227.9 L369.9,227.9 L370.4,227.9 L370.9,227.9 L371.4,228.0 L371.9,228.0 L372.4,228.0 L372.9,228.0 L373.4,228.0 L373.9,228.1 L374.4,228.1 L374.9,228.1 L375.4,228.1 L375.9,228.1 L376.4,228.2 L376.9,228.2 L377.4,228.2 L377.9,228.2 L378.4,228.2 L378.9,228.3 L379.4,228.3 L379.9,228.3 L380.4,228.3 L380.9,228.3 L381.4,228.4 L381.9,228.4 L382.4,228.4 L382.9,228.4 L383.4,228.4 L383.9,228.4 L384.4,228.5 L384.9,228.5 L385.4,228.5 L385.9,228.5 L386.4,228.5 L386.9,228.6 L387.4,228.6 L387.9,228.6 L388.4,228.6 L388.9,228.6 L389.4,228.7 L389.9,228.7 L390.4,228.7 L390.9,228.7 L391.4,228.7 L391.9,228.8 L392.4,228.8 L392.9,228.8 L393.4,228.8 L393.9,228.8 L394.4,228.8 L394.9,228.9 L395.4,228.9 L395.9,228.9 L396.4,228.9 L396.9,228.9 L397.4,229.0 L397.9,229.0 L398.4,229.0 L398.9,229.0 L399.4,229.0 L399.9,229.0 L400.4,229.1 L400.9,229.1 L401.4,229.1 L401.9,229.1 L402.4,229.1 L402.9,229.2 L403.4,229.2 L403.9,229.2 L404.4,229.2 L404.9,229.2 L405.4,229.2 L405.9,229.3 L406.4,229.3 L406.9,229.3 L407.4,229.3 L407.9,229.3 L408.4,229.4 L408.9,229.4 L409.4,229.4 L409.9,229.4 L410.4,229.4 L410.9,229.4 L411.4,229.5 L411.9,229.5 L412.4,229.5 L412.9,229.5 L413.4,229.5 L413.9,229.6 L414.4,229.6 L414.9,229.6 L415.4,229.6 L415.9,229.6 L416.4,229.6 L416.9,229.7 L417.4,229.7 L417.9,229.7 L418.4,229.7 L418.9,229.7 L419.4,229.7 L419.9,229.8 L420.4,229.8 L420.9,229.8 L421.4,229.8 L421.9,229.8 L422.4,229.9 L422.9,229.9 L423.4,229.9 L423.9,229.9 L424.4,229.9 L424.9,229.9 L425.4,230.0 L425.9,230.0 L426.4,230.0 L426.9,230.0 L427.4,230.0 L427.9,230.0 L428.4,230.1 L428.9,230.1 L429.4,230.1 L429.9,230.1 L430.4,230.1 L430.9,230.2 L431.4,230.2 L431.9,230.2 L432.4,230.2 L432.9,230.2 L433.4,230.2 L433.9,230.3 L434.4,230.3 L434.9,230.3 L435.4,230.3 L435.9,230.3 L436.4,230.3 L436.9,230.4 L437.4,230.4 L437.9,230.4 L438.4,230.4 L438.9,230.4 L439.4,230.5 L439.9,230.5 L440.4,230.5 L440.9,230.5 L441.4,230.5 L441.9,230.5 L442.4,230.6 L442.9,230.6 L443.4,230.6 L443.9,230.6 L444.4,230.6 L444.9,230.6 L445.4,230.7 L445.9,230.7 L446.4,230.7 L446.9,230.7 L447.4,230.7 L447.9,230.7 L448.4,230.8 L448.9,230.8 L449.4,230.8 L449.9,230.8 L450.4,230.8 L450.9,230.9 L451.4,230.9 L451.9,230.9 L452.4,230.9 L452.9,230.9 L453.4,230.9 L453.9,231.0 L454.4,231.0 L454.9,231.0 L455.4,231.0 L455.9,231.0 L456.4,231.0 L456.9,231.1 L457.4,231.1 L457.9,231.1 L458.4,231.1 L458.9,231.1 L459.4,231.1 L459.9,231.2 L460.4,231.2 L460.9,231.2 L461.4,231.2 L461.9,231.2 L462.4,231.2 L462.9,231.3 L463.4,231.3 L463.9,231.3 L464.4,231.3 L464.9,231.3 L465.4,231.4 L465.9,231.4 L466.4,231.4 L466.9,231.4 L467.4,231.4 L467.9,231.4" fill="none" stroke="#3c963f" stroke-width="1.7" stroke-linejoin="round" stroke-linecap="round"/>
<line x1="335.8" y1="57" x2="288" y2="82.6" stroke="#c4404f" stroke-width="1.8"/>
<polygon points="278.4,87.3 284,79.3 292.2,85.3" fill="#e41c1c"/>
<text x="316.84" y="53.75" font-size="16.8" fill="#bd4a5e" textLength="110.48" lengthAdjust="spacingAndGlyphs" >B.E.:367.78eV</text>
<rect x="567.3" y="4.0" width="415.7" height="290.7" fill="none" stroke="#1a1a1a" stroke-width="2.3"/>
<line x1="983.0" y1="294.7" x2="983.0" y2="299.7" stroke="#1a1a1a" stroke-width="2"/>
<text x="968.05" y="318.15" font-size="18.4" font-weight="bold" textLength="29.85" lengthAdjust="spacingAndGlyphs" >525</text>
<line x1="899.9" y1="294.7" x2="899.9" y2="297.2" stroke="#1a1a1a" stroke-width="2"/>
<line x1="816.7" y1="294.7" x2="816.7" y2="299.7" stroke="#1a1a1a" stroke-width="2"/>
<text x="801.77" y="318.15" font-size="18.4" font-weight="bold" textLength="30.09" lengthAdjust="spacingAndGlyphs" >530</text>
<line x1="733.6" y1="294.7" x2="733.6" y2="297.2" stroke="#1a1a1a" stroke-width="2"/>
<line x1="650.4" y1="294.7" x2="650.4" y2="299.7" stroke="#1a1a1a" stroke-width="2"/>
<text x="635.49" y="318.15" font-size="18.4" font-weight="bold" textLength="29.85" lengthAdjust="spacingAndGlyphs" >535</text>
<line x1="567.3" y1="294.7" x2="567.3" y2="297.2" stroke="#1a1a1a" stroke-width="2"/>
<text x="510.80" y="28.80" font-size="36.4" font-weight="bold" textLength="46.10" lengthAdjust="spacingAndGlyphs" >(b)</text>
<text x="664.40" y="348.40" font-size="24.0" font-weight="bold" textLength="221.59" lengthAdjust="spacingAndGlyphs" >Binding Energy(eV)</text>
<text transform="translate(540.20,232.10) rotate(-90)" x="-1.60" y="0" font-size="23.5" font-weight="bold" textLength="190.60" lengthAdjust="spacingAndGlyphs">Intensitivity(a.u.)</text>
<line x1="586.4" y1="29.6" x2="627.4" y2="29.6" stroke="#62a28a" stroke-width="2"/>
<text x="632.11" y="35.40" font-size="17.0" font-weight="bold" textLength="13.10" lengthAdjust="spacingAndGlyphs" >O</text>
<text x="645.95" y="40.20" font-size="11.4" font-weight="bold" textLength="11.47" lengthAdjust="spacingAndGlyphs" >1s</text>
<line x1="586.4" y1="55.0" x2="627.4" y2="55.0" stroke="#ae9cc8" stroke-width="2"/>
<text x="632.11" y="61.30" font-size="17.0" font-weight="bold" textLength="13.10" lengthAdjust="spacingAndGlyphs" >O</text>
<text x="645.95" y="66.50" font-size="11.4" font-weight="bold" textLength="11.47" lengthAdjust="spacingAndGlyphs" >1s</text>
<path d="M567.3,260.1 L567.8,260.0 L568.3,260.3 L568.8,260.5 L569.3,260.7 L569.8,260.4 L570.3,260.2 L570.8,260.1 L571.3,260.6 L571.8,260.9 L572.3,260.4 L572.8,260.0 L573.3,260.1 L573.8,260.9 L574.3,260.5 L574.8,259.9 L575.3,260.4 L575.8,260.1 L576.3,260.3 L576.8,260.4 L577.3,260.4 L577.8,260.9 L578.3,260.8 L578.8,260.8 L579.3,261.2 L579.8,261.5 L580.3,260.9 L580.8,261.5 L581.3,261.5 L581.8,262.0 L582.3,261.9 L582.8,262.5 L583.3,262.7 L583.8,262.8 L584.3,262.8 L584.8,263.1 L585.3,263.0 L585.8,262.9 L586.3,263.4 L586.8,262.9 L587.3,263.5 L587.8,263.2 L588.3,262.3 L588.8,262.7 L589.3,262.1 L589.8,262.2 L590.3,262.0 L590.8,261.2 L591.3,261.5 L591.8,261.3 L592.3,261.5 L592.8,260.6 L593.3,261.1 L593.8,260.4 L594.3,260.5 L594.8,260.3 L595.3,260.9 L595.8,260.6 L596.3,261.1 L596.8,260.6 L597.3,260.6 L597.8,260.6 L598.3,260.2 L598.8,260.4 L599.3,260.8 L599.8,260.4 L600.3,260.6 L600.8,260.6 L601.3,260.9 L601.8,260.7 L602.3,260.9 L602.8,261.2 L603.3,261.4 L603.8,261.3 L604.3,262.0 L604.8,261.6 L605.3,261.8 L605.8,262.0 L606.3,262.9 L606.8,262.7 L607.3,262.7 L607.8,262.7 L608.3,263.3 L608.8,262.9 L609.3,262.8 L609.8,263.3 L610.3,262.7 L610.8,262.8 L611.3,262.7 L611.8,262.4 L612.3,262.3 L612.8,262.5 L613.3,261.7 L613.8,261.3 L614.3,260.9 L614.8,261.2 L615.3,261.0 L615.8,261.1 L616.3,260.7 L616.8,260.7 L617.3,260.6 L617.8,260.6 L618.3,260.8 L618.8,260.8 L619.3,261.0 L619.8,261.7 L620.3,261.4 L620.8,261.0 L621.3,262.2 L621.8,261.9 L622.3,261.8 L622.8,262.5 L623.3,262.5 L623.8,262.5 L624.3,262.6 L624.8,262.6 L625.3,263.0 L625.8,263.4 L626.3,262.9 L626.8,263.1 L627.3,263.4 L627.8,262.4 L628.3,262.6 L628.8,262.3 L629.3,261.8 L629.8,261.6 L630.3,261.7 L630.8,261.6 L631.3,261.1 L631.8,261.0 L632.3,261.1 L632.8,260.8 L633.3,260.8 L633.8,260.6 L634.3,260.5 L634.8,260.8 L635.3,260.4 L635.8,260.2 L636.3,260.4 L636.8,259.9 L637.3,260.1 L637.8,260.5 L638.3,260.6 L638.8,261.0 L639.3,260.6 L639.8,260.3 L640.3,261.5 L640.8,261.5 L641.3,261.0 L641.8,262.0 L642.3,261.8 L642.8,261.4 L643.3,262.1 L643.8,262.2 L644.3,263.0 L644.8,262.4 L645.3,262.6 L645.8,262.7 L646.3,262.6 L646.8,262.4 L647.3,262.6 L647.8,262.8 L648.3,262.4 L648.8,261.8 L649.3,261.5 L649.8,261.7 L650.3,261.2 L650.8,261.0 L651.3,260.5 L651.8,261.4 L652.3,261.0 L652.8,260.3 L653.3,260.8 L653.8,260.9 L654.3,259.8 L654.8,260.4 L655.3,260.5 L655.8,260.9 L656.3,260.8 L656.8,261.0 L657.3,261.2 L657.8,262.0 L658.3,262.3 L658.8,261.7 L659.3,261.7 L659.8,262.9 L660.3,262.0 L660.8,262.2 L661.3,262.4 L661.8,262.5 L662.3,262.6 L662.8,262.3 L663.3,261.8 L663.8,262.0 L664.3,261.7 L664.8,262.0 L665.3,261.2 L665.8,260.6 L666.3,260.4 L666.8,261.0 L667.3,260.2 L667.8,259.5 L668.3,259.8 L668.8,259.9 L669.3,260.1 L669.8,259.4 L670.3,259.9 L670.8,260.0 L671.3,259.6 L671.8,259.8 L672.3,260.5 L672.8,260.6 L673.3,260.5 L673.8,260.6 L674.3,261.0 L674.8,260.8 L675.3,261.0 L675.8,261.0 L676.3,261.4 L676.8,261.5 L677.3,262.4 L677.8,261.6 L678.3,262.0 L678.8,262.0 L679.3,261.5 L679.8,261.7 L680.3,260.6 L680.8,261.0 L681.3,261.0 L681.8,259.8 L682.3,259.9 L682.8,260.3 L683.3,259.7 L683.8,259.2 L684.3,259.1 L684.8,258.9 L685.3,259.1 L685.8,258.8 L686.3,258.4 L686.8,258.2 L687.3,258.2 L687.8,258.5 L688.3,258.1 L688.8,258.1 L689.3,257.8 L689.8,257.4 L690.3,257.5 L690.8,257.8 L691.3,257.6 L691.8,257.2 L692.3,257.0 L692.8,257.4 L693.3,257.2 L693.8,257.1 L694.3,257.1 L694.8,257.2 L695.3,257.1 L695.8,257.2 L696.3,257.1 L696.8,257.2 L697.3,256.9 L697.8,256.5 L698.3,256.5 L698.8,256.6 L699.3,256.2 L699.8,256.4 L700.3,256.5 L700.8,255.8 L701.3,255.4 L701.8,256.1 L702.3,255.7 L702.8,255.8 L703.3,255.0 L703.8,255.8 L704.3,255.4 L704.8,255.0 L705.3,254.9 L705.8,254.7 L706.3,254.6 L706.8,254.4 L707.3,254.3 L707.8,254.1 L708.3,253.9 L708.8,253.8 L709.3,253.6 L709.8,253.4 L710.3,253.2 L710.8,253.0 L711.3,252.8 L711.8,252.6 L712.3,252.3 L712.8,252.1 L713.3,251.9 L713.8,251.6 L714.3,251.4 L714.8,251.1 L715.3,250.9 L715.8,250.6 L716.3,250.3 L716.8,250.0 L717.3,249.7 L717.8,249.4 L718.3,249.1 L718.8,248.8 L719.3,248.5 L719.8,248.1 L720.3,247.8 L720.8,247.4 L721.3,247.1 L721.8,246.7 L722.3,246.3 L722.8,245.9 L723.3,245.5 L723.8,245.1 L724.3,244.7 L724.8,244.2 L725.3,243.8 L725.8,243.3 L726.3,242.9 L726.8,242.4 L727.3,241.9 L727.8,241.4 L728.3,240.9 L728.8,240.4 L729.3,239.9 L729.8,239.3 L730.3,238.8 L730.8,238.2 L731.3,237.7 L731.8,237.1 L732.3,236.5 L732.8,235.9 L733.3,235.3 L733.8,234.6 L734.3,234.0 L734.8,233.4 L735.3,232.7 L735.8,232.0 L736.3,231.4 L736.8,230.7 L737.3,230.0 L737.8,229.3 L738.3,228.5 L738.8,227.8 L739.3,227.1 L739.8,226.3 L740.3,225.6 L740.8,224.8 L741.3,224.0 L741.8,223.2 L742.3,222.4 L742.8,221.6 L743.3,220.8 L743.8,220.0 L744.3,219.2 L744.8,218.3 L745.3,217.5 L745.8,216.6 L746.3,215.8 L746.8,214.9 L747.3,214.0 L747.8,213.2 L748.3,212.3 L748.8,211.4 L749.3,210.4 L749.8,209.5 L750.3,208.6 L750.8,207.7 L751.3,206.7 L751.8,205.8 L752.3,204.8 L752.8,203.9 L753.3,202.9 L753.8,201.9 L754.3,200.9 L754.8,199.9 L755.3,198.9 L755.8,197.9 L756.3,196.8 L756.8,195.8 L757.3,194.7 L757.8,193.7 L758.3,192.6 L758.8,191.5 L759.3,190.4 L759.8,189.2 L760.3,188.1 L760.8,186.9 L761.3,185.8 L761.8,184.6 L762.3,183.3 L762.8,182.1 L763.3,180.8 L763.8,179.6 L764.3,178.3 L764.8,176.9 L765.3,175.6 L765.8,174.2 L766.3,172.8 L766.8,171.3 L767.3,169.8 L767.8,168.3 L768.3,166.8 L768.8,165.2 L769.3,163.5 L769.8,161.9 L770.3,160.2 L770.8,158.4 L771.3,156.6 L771.8,154.8 L772.3,152.9 L772.8,151.0 L773.3,149.1 L773.8,147.0 L774.3,145.0 L774.8,142.9 L775.3,140.7 L775.8,138.5 L776.3,136.3 L776.8,134.0 L777.3,131.7 L777.8,129.3 L778.3,126.9 L778.8,124.4 L779.3,121.9 L779.8,119.4 L780.3,116.9 L780.8,114.3 L781.3,111.6 L781.8,109.0 L782.3,106.3 L782.8,103.6 L783.3,100.9 L783.8,98.2 L784.3,95.5 L784.8,92.8 L785.3,90.1 L785.8,87.4 L786.3,84.7 L786.8,82.1 L787.3,79.4 L787.8,76.8 L788.3,74.3 L788.8,71.8 L789.3,69.4 L789.8,67.0 L790.3,64.7 L790.8,62.5 L791.3,60.3 L791.8,58.3 L792.3,56.3 L792.8,54.5 L793.3,52.7 L793.8,51.1 L794.3,49.6 L794.8,48.3 L795.3,47.0 L795.8,45.9 L796.3,45.0 L796.8,44.2 L797.3,43.5 L797.8,43.0 L798.3,42.7 L798.8,42.5 L799.3,42.5 L799.8,42.7 L800.3,43.0 L800.8,43.5 L801.3,44.2 L801.8,45.1 L802.3,46.1 L802.8,47.3 L803.3,48.7 L803.8,50.2 L804.3,51.9 L804.8,53.7 L805.3,55.7 L805.8,57.9 L806.3,60.2 L806.8,62.6 L807.3,65.2 L807.8,68.0 L808.3,70.8 L808.8,73.8 L809.3,76.9 L809.8,80.1 L810.3,83.3 L810.8,86.7 L811.3,90.2 L811.8,93.8 L812.3,97.4 L812.8,101.1 L813.3,104.8 L813.8,108.6 L814.3,112.4 L814.8,116.3 L815.3,120.2 L815.8,124.1 L816.3,128.0 L816.8,131.9 L817.3,135.8 L817.8,139.7 L818.3,143.6 L818.8,147.4 L819.3,151.2 L819.8,155.0 L820.3,158.8 L820.8,162.5 L821.3,166.1 L821.8,169.7 L822.3,173.2 L822.8,176.7 L823.3,180.1 L823.8,183.4 L824.3,186.6 L824.8,189.8 L825.3,192.9 L825.8,195.9 L826.3,198.8 L826.8,201.7 L827.3,204.4 L827.8,207.1 L828.3,209.7 L828.8,212.2 L829.3,214.6 L829.8,216.9 L830.3,219.1 L830.8,221.3 L831.3,223.3 L831.8,225.3 L832.3,227.2 L832.8,229.0 L833.3,230.8 L833.8,232.4 L834.3,234.0 L834.8,235.5 L835.3,237.0 L835.8,238.4 L836.3,239.7 L836.8,240.9 L837.3,242.1 L837.8,243.2 L838.3,244.2 L838.8,245.2 L839.3,246.2 L839.8,247.1 L840.3,247.9 L840.8,248.7 L841.3,249.4 L841.8,250.2 L842.3,250.8 L842.8,251.4 L843.3,252.0 L843.8,252.6 L844.3,253.1 L844.8,253.6 L845.3,254.0 L845.8,254.5 L846.3,254.9 L846.8,255.2 L847.3,255.6 L847.8,255.9 L848.3,256.2 L848.8,256.5 L849.3,256.8 L849.8,257.0 L850.3,257.3 L850.8,257.5 L851.3,257.7 L851.8,257.9 L852.3,258.1 L852.8,258.2 L853.3,258.4 L853.8,258.5 L854.3,258.7 L854.8,258.8 L855.3,258.9 L855.8,259.1 L856.3,259.2 L856.8,259.3 L857.3,259.4 L857.8,259.5 L858.3,259.6 L858.8,259.6 L859.3,259.7 L859.8,259.8 L860.3,259.9 L860.8,259.9 L861.3,260.0 L861.8,260.1 L862.3,260.1 L862.8,260.2 L863.3,260.2 L863.8,260.3 L864.3,260.3 L864.8,260.4 L865.3,260.4 L865.8,260.5 L866.3,260.5 L866.8,260.6 L867.3,260.6 L867.8,260.7 L868.3,260.7 L868.8,260.7 L869.3,260.8 L869.8,260.8 L870.3,260.9 L870.8,260.9 L871.3,260.5 L871.8,261.4 L872.3,261.4 L872.8,262.1 L873.3,261.8 L873.8,261.7 L874.3,262.0 L874.8,262.0 L875.3,261.9 L875.8,261.8 L876.3,261.6 L876.8,262.1 L877.3,262.6 L877.8,261.6 L878.3,261.9 L878.8,262.4 L879.3,262.2 L879.8,262.3 L880.3,261.6 L880.8,262.0 L881.3,262.3 L881.8,262.3 L882.3,262.1 L882.8,261.8 L883.3,262.1 L883.8,261.6 L884.3,261.6 L884.8,261.5 L885.3,262.2 L885.8,261.6 L886.3,261.9 L886.8,261.3 L887.3,262.4 L887.8,262.3 L888.3,261.7 L888.8,261.8 L889.3,262.9 L889.8,262.2 L890.3,263.1 L890.8,262.5 L891.3,261.9 L891.8,263.1 L892.3,262.9 L892.8,263.0 L893.3,262.7 L893.8,262.8 L894.3,263.2 L894.8,262.6 L895.3,262.3 L895.8,263.1 L896.3,262.7 L896.8,263.2 L897.3,262.7 L897.8,262.6 L898.3,262.6 L898.8,262.0 L899.3,263.0 L899.8,262.4 L900.3,262.4 L900.8,262.9 L901.3,262.4 L901.8,262.7 L902.3,262.6 L902.8,262.9 L903.3,262.8 L903.8,263.2 L904.3,262.8 L904.8,263.1 L905.3,262.8 L905.8,263.5 L906.3,262.5 L906.8,263.3 L907.3,263.4 L907.8,263.5 L908.3,263.4 L908.8,263.8 L909.3,264.1 L909.8,263.3 L910.3,262.9 L910.8,263.1 L911.3,263.2 L911.8,263.4 L912.3,263.4 L912.8,263.7 L913.3,263.2 L913.8,263.3 L914.3,263.3 L914.8,262.9 L915.3,263.0 L915.8,263.9 L916.3,263.0 L916.8,262.6 L917.3,262.3 L917.8,263.3 L918.3,263.0 L918.8,263.0 L919.3,264.0 L919.8,263.8 L920.3,262.9 L920.8,263.4 L921.3,263.9 L921.8,263.9 L922.3,263.4 L922.8,264.3 L923.3,264.4 L923.8,263.5 L924.3,263.3 L924.8,263.5 L925.3,264.1 L925.8,264.2 L926.3,264.0 L926.8,263.7 L927.3,263.9 L927.8,264.0 L928.3,263.5 L928.8,263.3 L929.3,263.7 L929.8,264.1 L930.3,263.7 L930.8,263.6 L931.3,263.3 L931.8,263.7 L932.3,262.9 L932.8,263.3 L933.3,263.2 L933.8,263.4 L934.3,263.3 L934.8,263.9 L935.3,263.7 L935.8,263.6 L936.3,264.1 L936.8,264.0 L937.3,263.9 L937.8,263.9 L938.3,264.4 L938.8,263.9 L939.3,264.2 L939.8,264.2 L940.3,264.4 L940.8,264.2 L941.3,265.0 L941.8,263.8 L942.3,264.5 L942.8,264.3 L943.3,264.6 L943.8,263.7 L944.3,264.5 L944.8,263.7 L945.3,264.3 L945.8,264.2 L946.3,264.0 L946.8,263.7 L947.3,263.6 L947.8,263.8 L948.3,263.5 L948.8,263.1 L949.3,263.3 L949.8,264.1 L950.3,264.2 L950.8,264.2 L951.3,264.2 L951.8,264.4 L952.3,264.5 L952.8,264.5 L953.3,264.2 L953.8,264.3 L954.3,264.2 L954.8,264.6 L955.3,264.3 L955.8,264.6 L956.3,265.0 L956.8,264.5 L957.3,265.0 L957.8,265.1 L958.3,264.1 L958.8,264.2 L959.3,264.7 L959.8,264.3 L960.3,264.7 L960.8,264.7 L961.3,264.3 L961.8,264.6 L962.3,264.8 L962.8,264.5 L963.3,263.9 L963.8,264.0 L964.3,263.9 L964.8,264.6 L965.3,264.2 L965.8,264.1 L966.3,264.4 L966.8,264.6 L967.3,264.4 L967.8,264.7 L968.3,264.7 L968.8,265.0 L969.3,265.1 L969.8,264.9 L970.3,264.8 L970.8,265.1 L971.3,264.7 L971.8,265.3 L972.3,265.1 L972.8,265.1 L973.3,264.3 L973.8,265.7 L974.3,265.4 L974.8,265.3 L975.3,264.9 L975.8,265.1 L976.3,265.7 L976.8,264.6 L977.3,264.9 L977.8,264.8 L978.3,264.6 L978.8,264.6 L979.3,264.1 L979.8,264.6 L980.3,264.0 L980.8,265.1 L981.3,264.8 L981.8,264.4 L982.3,264.1 L982.8,264.9" fill="none" stroke="#262626" stroke-width="1.7" stroke-linejoin="round" stroke-linecap="round"/>
<path d="M567.3,260.4 L567.8,260.4 L568.3,260.4 L568.8,260.4 L569.3,260.4 L569.8,260.4 L570.3,260.4 L570.8,260.4 L571.3,260.4 L571.8,260.4 L572.3,260.4 L572.8,260.4 L573.3,260.4 L573.8,260.4 L574.3,260.4 L574.8,260.4 L575.3,260.4 L575.8,260.4 L576.3,260.3 L576.8,260.3 L577.3,260.3 L577.8,260.3 L578.3,260.3 L578.8,260.3 L579.3,260.3 L579.8,260.3 L580.3,260.3 L580.8,260.3 L581.3,260.3 L581.8,260.3 L582.3,260.3 L582.8,260.3 L583.3,260.3 L583.8,260.3 L584.3,260.3 L584.8,260.3 L585.3,260.3 L585.8,260.3 L586.3,260.3 L586.8,260.3 L587.3,260.3 L587.8,260.3 L588.3,260.3 L588.8,260.3 L589.3,260.3 L589.8,260.3 L590.3,260.3 L590.8,260.3 L591.3,260.3 L591.8,260.3 L592.3,260.3 L592.8,260.3 L593.3,260.3 L593.8,260.3 L594.3,260.3 L594.8,260.3 L595.3,260.3 L595.8,260.3 L596.3,260.3 L596.8,260.3 L597.3,260.3 L597.8,260.3 L598.3,260.3 L598.8,260.3 L599.3,260.3 L599.8,260.3 L600.3,260.3 L600.8,260.3 L601.3,260.3 L601.8,260.2 L602.3,260.2 L602.8,260.2 L603.3,260.2 L603.8,260.2 L604.3,260.2 L604.8,260.2 L605.3,260.2 L605.8,260.2 L606.3,260.2 L606.8,260.2 L607.3,260.2 L607.8,260.2 L608.3,260.2 L608.8,260.2 L609.3,260.2 L609.8,260.2 L610.3,260.2 L610.8,260.2 L611.3,260.2 L611.8,260.2 L612.3,260.2 L612.8,260.2 L613.3,260.2 L613.8,260.2 L614.3,260.2 L614.8,260.2 L615.3,260.2 L615.8,260.2 L616.3,260.1 L616.8,260.1 L617.3,260.1 L617.8,260.1 L618.3,260.1 L618.8,260.1 L619.3,260.1 L619.8,260.1 L620.3,260.1 L620.8,260.1 L621.3,260.1 L621.8,260.1 L622.3,260.1 L622.8,260.1 L623.3,260.1 L623.8,260.1 L624.3,260.1 L624.8,260.1 L625.3,260.1 L625.8,260.1 L626.3,260.0 L626.8,260.0 L627.3,260.0 L627.8,260.0 L628.3,260.0 L628.8,260.0 L629.3,260.0 L629.8,260.0 L630.3,260.0 L630.8,260.0 L631.3,260.0 L631.8,260.0 L632.3,260.0 L632.8,260.0 L633.3,260.0 L633.8,260.0 L634.3,259.9 L634.8,259.9 L635.3,259.9 L635.8,259.9 L636.3,259.9 L636.8,259.9 L637.3,259.9 L637.8,259.9 L638.3,259.9 L638.8,259.9 L639.3,259.9 L639.8,259.9 L640.3,259.9 L640.8,259.8 L641.3,259.8 L641.8,259.8 L642.3,259.8 L642.8,259.8 L643.3,259.8 L643.8,259.8 L644.3,259.8 L644.8,259.8 L645.3,259.8 L645.8,259.8 L646.3,259.7 L646.8,259.7 L647.3,259.7 L647.8,259.7 L648.3,259.7 L648.8,259.7 L649.3,259.7 L649.8,259.7 L650.3,259.7 L650.8,259.6 L651.3,259.6 L651.8,259.6 L652.3,259.6 L652.8,259.6 L653.3,259.6 L653.8,259.6 L654.3,259.6 L654.8,259.6 L655.3,259.5 L655.8,259.5 L656.3,259.5 L656.8,259.5 L657.3,259.5 L657.8,259.5 L658.3,259.5 L658.8,259.4 L659.3,259.4 L659.8,259.4 L660.3,259.4 L660.8,259.4 L661.3,259.4 L661.8,259.4 L662.3,259.3 L662.8,259.3 L663.3,259.3 L663.8,259.3 L664.3,259.3 L664.8,259.3 L665.3,259.2 L665.8,259.2 L666.3,259.2 L666.8,259.2 L667.3,259.2 L667.8,259.2 L668.3,259.1 L668.8,259.1 L669.3,259.1 L669.8,259.1 L670.3,259.1 L670.8,259.0 L671.3,259.0 L671.8,259.0 L672.3,259.0 L672.8,258.9 L673.3,258.9 L673.8,258.9 L674.3,258.9 L674.8,258.8 L675.3,258.8 L675.8,258.8 L676.3,258.8 L676.8,258.7 L677.3,258.7 L677.8,258.7 L678.3,258.7 L678.8,258.6 L679.3,258.6 L679.8,258.6 L680.3,258.5 L680.8,258.5 L681.3,258.5 L681.8,258.4 L682.3,258.4 L682.8,258.4 L683.3,258.3 L683.8,258.3 L684.3,258.2 L684.8,258.2 L685.3,258.2 L685.8,258.1 L686.3,258.1 L686.8,258.0 L687.3,258.0 L687.8,257.9 L688.3,257.9 L688.8,257.8 L689.3,257.8 L689.8,257.7 L690.3,257.7 L690.8,257.6 L691.3,257.6 L691.8,257.5 L692.3,257.4 L692.8,257.4 L693.3,257.3 L693.8,257.2 L694.3,257.2 L694.8,257.1 L695.3,257.0 L695.8,256.9 L696.3,256.9 L696.8,256.8 L697.3,256.7 L697.8,256.6 L698.3,256.5 L698.8,256.4 L699.3,256.3 L699.8,256.2 L700.3,256.1 L700.8,256.0 L701.3,255.9 L701.8,255.8 L702.3,255.7 L702.8,255.6 L703.3,255.4 L703.8,255.3 L704.3,255.2 L704.8,255.0 L705.3,254.9 L705.8,254.7 L706.3,254.6 L706.8,254.4 L707.3,254.3 L707.8,254.1 L708.3,253.9 L708.8,253.8 L709.3,253.6 L709.8,253.4 L710.3,253.2 L710.8,253.0 L711.3,252.8 L711.8,252.6 L712.3,252.3 L712.8,252.1 L713.3,251.9 L713.8,251.6 L714.3,251.4 L714.8,251.1 L715.3,250.9 L715.8,250.6 L716.3,250.3 L716.8,250.0 L717.3,249.7 L717.8,249.4 L718.3,249.1 L718.8,248.8 L719.3,248.5 L719.8,248.1 L720.3,247.8 L720.8,247.4 L721.3,247.1 L721.8,246.7 L722.3,246.3 L722.8,245.9 L723.3,245.5 L723.8,245.1 L724.3,244.7 L724.8,244.2 L725.3,243.8 L725.8,243.3 L726.3,242.9 L726.8,242.4 L727.3,241.9 L727.8,241.4 L728.3,240.9 L728.8,240.4 L729.3,239.9 L729.8,239.3 L730.3,238.8 L730.8,238.2 L731.3,237.7 L731.8,237.1 L732.3,236.5 L732.8,235.9 L733.3,235.3 L733.8,234.6 L734.3,234.0 L734.8,233.4 L735.3,232.7 L735.8,232.0 L736.3,231.4 L736.8,230.7 L737.3,230.0 L737.8,229.3 L738.3,228.5 L738.8,227.8 L739.3,227.1 L739.8,226.3 L740.3,225.6 L740.8,224.8 L741.3,224.0 L741.8,223.2 L742.3,222.4 L742.8,221.6 L743.3,220.8 L743.8,220.0 L744.3,219.2 L744.8,218.3 L745.3,217.5 L745.8,216.6 L746.3,215.8 L746.8,214.9 L747.3,214.0 L747.8,213.2 L748.3,212.3 L748.8,211.4 L749.3,210.4 L749.8,209.5 L750.3,208.6 L750.8,207.7 L751.3,206.7 L751.8,205.8 L752.3,204.8 L752.8,203.9 L753.3,202.9 L753.8,201.9 L754.3,200.9 L754.8,199.9 L755.3,198.9 L755.8,197.9 L756.3,196.8 L756.8,195.8 L757.3,194.7 L757.8,193.7 L758.3,192.6 L758.8,191.5 L759.3,190.4 L759.8,189.2 L760.3,188.1 L760.8,186.9 L761.3,185.8 L761.8,184.6 L762.3,183.3 L762.8,182.1 L763.3,180.8 L763.8,179.6 L764.3,178.3 L764.8,176.9 L765.3,175.6 L765.8,174.2 L766.3,172.8 L766.8,171.3 L767.3,169.8 L767.8,168.3 L768.3,166.8 L768.8,165.2 L769.3,163.5 L769.8,161.9 L770.3,160.2 L770.8,158.4 L771.3,156.6 L771.8,154.8 L772.3,152.9 L772.8,151.0 L773.3,149.1 L773.8,147.0 L774.3,145.0 L774.8,142.9 L775.3,140.7 L775.8,138.5 L776.3,136.3 L776.8,134.0 L777.3,131.7 L777.8,129.3 L778.3,126.9 L778.8,124.4 L779.3,121.9 L779.8,119.4 L780.3,116.9 L780.8,114.3 L781.3,111.6 L781.8,109.0 L782.3,106.3 L782.8,103.6 L783.3,100.9 L783.8,98.2 L784.3,95.5 L784.8,92.8 L785.3,90.1 L785.8,87.4 L786.3,84.7 L786.8,82.1 L787.3,79.4 L787.8,76.8 L788.3,74.3 L788.8,71.8 L789.3,69.4 L789.8,67.0 L790.3,64.7 L790.8,62.5 L791.3,60.3 L791.8,58.3 L792.3,56.3 L792.8,54.5 L793.3,52.7 L793.8,51.1 L794.3,49.6 L794.8,48.3 L795.3,47.0 L795.8,45.9 L796.3,45.0 L796.8,44.2 L797.3,43.5 L797.8,43.0 L798.3,42.7 L798.8,42.5 L799.3,42.5 L799.8,42.7 L800.3,43.0 L800.8,43.5 L801.3,44.2 L801.8,45.1 L802.3,46.1 L802.8,47.3 L803.3,48.7 L803.8,50.2 L804.3,51.9 L804.8,53.7 L805.3,55.7 L805.8,57.9 L806.3,60.2 L806.8,62.6 L807.3,65.2 L807.8,68.0 L808.3,70.8 L808.8,73.8 L809.3,76.9 L809.8,80.1 L810.3,83.3 L810.8,86.7 L811.3,90.2 L811.8,93.8 L812.3,97.4 L812.8,101.1 L813.3,104.8 L813.8,108.6 L814.3,112.4 L814.8,116.3 L815.3,120.2 L815.8,124.1 L816.3,128.0 L816.8,131.9 L817.3,135.8 L817.8,139.7 L818.3,143.6 L818.8,147.4 L819.3,151.2 L819.8,155.0 L820.3,158.8 L820.8,162.5 L821.3,166.1 L821.8,169.7 L822.3,173.2 L822.8,176.7 L823.3,180.1 L823.8,183.4 L824.3,186.6 L824.8,189.8 L825.3,192.9 L825.8,195.9 L826.3,198.8 L826.8,201.7 L827.3,204.4 L827.8,207.1 L828.3,209.7 L828.8,212.2 L829.3,214.6 L829.8,216.9 L830.3,219.1 L830.8,221.3 L831.3,223.3 L831.8,225.3 L832.3,227.2 L832.8,229.0 L833.3,230.8 L833.8,232.4 L834.3,234.0 L834.8,235.5 L835.3,237.0 L835.8,238.4 L836.3,239.7 L836.8,240.9 L837.3,242.1 L837.8,243.2 L838.3,244.2 L838.8,245.2 L839.3,246.2 L839.8,247.1 L840.3,247.9 L840.8,248.7 L841.3,249.4 L841.8,250.2 L842.3,250.8 L842.8,251.4 L843.3,252.0 L843.8,252.6 L844.3,253.1 L844.8,253.6 L845.3,254.0 L845.8,254.5 L846.3,254.9 L846.8,255.2 L847.3,255.6 L847.8,255.9 L848.3,256.2 L848.8,256.5 L849.3,256.8 L849.8,257.0 L850.3,257.3 L850.8,257.5 L851.3,257.7 L851.8,257.9 L852.3,258.1 L852.8,258.2 L853.3,258.4 L853.8,258.5 L854.3,258.7 L854.8,258.8 L855.3,258.9 L855.8,259.1 L856.3,259.2 L856.8,259.3 L857.3,259.4 L857.8,259.5 L858.3,259.6 L858.8,259.6 L859.3,259.7 L859.8,259.8 L860.3,259.9 L860.8,259.9 L861.3,260.0 L861.8,260.1 L862.3,260.1 L862.8,260.2 L863.3,260.2 L863.8,260.3 L864.3,260.3 L864.8,260.4 L865.3,260.4 L865.8,260.5 L866.3,260.5 L866.8,260.6 L867.3,260.6 L867.8,260.7 L868.3,260.7 L868.8,260.7 L869.3,260.8 L869.8,260.8 L870.3,260.8 L870.8,260.9 L871.3,260.9 L871.8,261.0 L872.3,261.0 L872.8,261.0 L873.3,261.1 L873.8,261.1 L874.3,261.1 L874.8,261.1 L875.3,261.2 L875.8,261.2 L876.3,261.2 L876.8,261.3 L877.3,261.3 L877.8,261.3 L878.3,261.3 L878.8,261.4 L879.3,261.4 L879.8,261.4 L880.3,261.5 L880.8,261.5 L881.3,261.5 L881.8,261.5 L882.3,261.6 L882.8,261.6 L883.3,261.6 L883.8,261.6 L884.3,261.7 L884.8,261.7 L885.3,261.7 L885.8,261.7 L886.3,261.8 L886.8,261.8 L887.3,261.8 L887.8,261.8 L888.3,261.8 L888.8,261.9 L889.3,261.9 L889.8,261.9 L890.3,261.9 L890.8,262.0 L891.3,262.0 L891.8,262.0 L892.3,262.0 L892.8,262.0 L893.3,262.1 L893.8,262.1 L894.3,262.1 L894.8,262.1 L895.3,262.1 L895.8,262.2 L896.3,262.2 L896.8,262.2 L897.3,262.2 L897.8,262.2 L898.3,262.3 L898.8,262.3 L899.3,262.3 L899.8,262.3 L900.3,262.3 L900.8,262.3 L901.3,262.4 L901.8,262.4 L902.3,262.4 L902.8,262.4 L903.3,262.4 L903.8,262.5 L904.3,262.5 L904.8,262.5 L905.3,262.5 L905.8,262.5 L906.3,262.5 L906.8,262.6 L907.3,262.6 L907.8,262.6 L908.3,262.6 L908.8,262.6 L909.3,262.6 L909.8,262.7 L910.3,262.7 L910.8,262.7 L911.3,262.7 L911.8,262.7 L912.3,262.7 L912.8,262.7 L913.3,262.8 L913.8,262.8 L914.3,262.8 L914.8,262.8 L915.3,262.8 L915.8,262.8 L916.3,262.9 L916.8,262.9 L917.3,262.9 L917.8,262.9 L918.3,262.9 L918.8,262.9 L919.3,262.9 L919.8,263.0 L920.3,263.0 L920.8,263.0 L921.3,263.0 L921.8,263.0 L922.3,263.0 L922.8,263.0 L923.3,263.1 L923.8,263.1 L924.3,263.1 L924.8,263.1 L925.3,263.1 L925.8,263.1 L926.3,263.1 L926.8,263.2 L927.3,263.2 L927.8,263.2 L928.3,263.2 L928.8,263.2 L929.3,263.2 L929.8,263.2 L930.3,263.2 L930.8,263.3 L931.3,263.3 L931.8,263.3 L932.3,263.3 L932.8,263.3 L933.3,263.3 L933.8,263.3 L934.3,263.4 L934.8,263.4 L935.3,263.4 L935.8,263.4 L936.3,263.4 L936.8,263.4 L937.3,263.4 L937.8,263.4 L938.3,263.4 L938.8,263.5 L939.3,263.5 L939.8,263.5 L940.3,263.5 L940.8,263.5 L941.3,263.5 L941.8,263.5 L942.3,263.5 L942.8,263.6 L943.3,263.6 L943.8,263.6 L944.3,263.6 L944.8,263.6 L945.3,263.6 L945.8,263.6 L946.3,263.6 L946.8,263.6 L947.3,263.7 L947.8,263.7 L948.3,263.7 L948.8,263.7 L949.3,263.7 L949.8,263.7 L950.3,263.7 L950.8,263.7 L951.3,263.8 L951.8,263.8 L952.3,263.8 L952.8,263.8 L953.3,263.8 L953.8,263.8 L954.3,263.8 L954.8,263.8 L955.3,263.8 L955.8,263.8 L956.3,263.9 L956.8,263.9 L957.3,263.9 L957.8,263.9 L958.3,263.9 L958.8,263.9 L959.3,263.9 L959.8,263.9 L960.3,263.9 L960.8,264.0 L961.3,264.0 L961.8,264.0 L962.3,264.0 L962.8,264.0 L963.3,264.0 L963.8,264.0 L964.3,264.0 L964.8,264.0 L965.3,264.0 L965.8,264.1 L966.3,264.1 L966.8,264.1 L967.3,264.1 L967.8,264.1 L968.3,264.1 L968.8,264.1 L969.3,264.1 L969.8,264.1 L970.3,264.1 L970.8,264.2 L971.3,264.2 L971.8,264.2 L972.3,264.2 L972.8,264.2 L973.3,264.2 L973.8,264.2 L974.3,264.2 L974.8,264.2 L975.3,264.2 L975.8,264.3 L976.3,264.3 L976.8,264.3 L977.3,264.3 L977.8,264.3 L978.3,264.3 L978.8,264.3 L979.3,264.3 L979.8,264.3 L980.3,264.3 L980.8,264.4 L981.3,264.4 L981.8,264.4 L982.3,264.4 L982.8,264.4" fill="none" stroke="#c94a5c" stroke-width="1.9" stroke-linejoin="round" stroke-linecap="round"/>
<path d="M567.3,260.9 L567.8,260.9 L568.3,260.9 L568.8,260.9 L569.3,260.9 L569.8,260.9 L570.3,260.9 L570.8,260.9 L571.3,260.9 L571.8,260.9 L572.3,260.9 L572.8,261.0 L573.3,261.0 L573.8,261.0 L574.3,261.0 L574.8,261.0 L575.3,261.0 L575.8,261.0 L576.3,261.0 L576.8,261.0 L577.3,261.0 L577.8,261.0 L578.3,261.0 L578.8,261.0 L579.3,261.0 L579.8,261.0 L580.3,261.0 L580.8,261.0 L581.3,261.0 L581.8,261.0 L582.3,261.0 L582.8,261.0 L583.3,261.0 L583.8,261.0 L584.3,261.0 L584.8,261.0 L585.3,261.0 L585.8,261.0 L586.3,261.0 L586.8,261.0 L587.3,261.0 L587.8,261.0 L588.3,261.0 L588.8,261.0 L589.3,261.0 L589.8,261.0 L590.3,261.0 L590.8,261.0 L591.3,261.0 L591.8,261.0 L592.3,261.0 L592.8,261.0 L593.3,261.0 L593.8,261.0 L594.3,261.0 L594.8,261.0 L595.3,261.0 L595.8,261.0 L596.3,261.0 L596.8,261.0 L597.3,261.0 L597.8,261.0 L598.3,261.0 L598.8,261.0 L599.3,261.1 L599.8,261.1 L600.3,261.1 L600.8,261.1 L601.3,261.1 L601.8,261.1 L602.3,261.1 L602.8,261.1 L603.3,261.1 L603.8,261.1 L604.3,261.1 L604.8,261.1 L605.3,261.1 L605.8,261.1 L606.3,261.1 L606.8,261.1 L607.3,261.1 L607.8,261.1 L608.3,261.1 L608.8,261.1 L609.3,261.1 L609.8,261.1 L610.3,261.1 L610.8,261.1 L611.3,261.1 L611.8,261.1 L612.3,261.1 L612.8,261.1 L613.3,261.1 L613.8,261.1 L614.3,261.1 L614.8,261.1 L615.3,261.1 L615.8,261.1 L616.3,261.1 L616.8,261.1 L617.3,261.1 L617.8,261.1 L618.3,261.1 L618.8,261.1 L619.3,261.1 L619.8,261.1 L620.3,261.1 L620.8,261.1 L621.3,261.1 L621.8,261.1 L622.3,261.1 L622.8,261.1 L623.3,261.1 L623.8,261.1 L624.3,261.1 L624.8,261.1 L625.3,261.1 L625.8,261.1 L626.3,261.1 L626.8,261.1 L627.3,261.1 L627.8,261.1 L628.3,261.1 L628.8,261.1 L629.3,261.2 L629.8,261.2 L630.3,261.2 L630.8,261.2 L631.3,261.2 L631.8,261.2 L632.3,261.2 L632.8,261.2 L633.3,261.2 L633.8,261.2 L634.3,261.2 L634.8,261.2 L635.3,261.2 L635.8,261.2 L636.3,261.2 L636.8,261.2 L637.3,261.2 L637.8,261.2 L638.3,261.2 L638.8,261.2 L639.3,261.2 L639.8,261.2 L640.3,261.2 L640.8,261.2 L641.3,261.2 L641.8,261.2 L642.3,261.2 L642.8,261.2 L643.3,261.2 L643.8,261.2 L644.3,261.2 L644.8,261.2 L645.3,261.2 L645.8,261.2 L646.3,261.2 L646.8,261.2 L647.3,261.2 L647.8,261.2 L648.3,261.2 L648.8,261.2 L649.3,261.2 L649.8,261.2 L650.3,261.2 L650.8,261.2 L651.3,261.2 L651.8,261.2 L652.3,261.2 L652.8,261.2 L653.3,261.2 L653.8,261.2 L654.3,261.2 L654.8,261.2 L655.3,261.2 L655.8,261.2 L656.3,261.2 L656.8,261.2 L657.3,261.2 L657.8,261.2 L658.3,261.2 L658.8,261.2 L659.3,261.2 L659.8,261.2 L660.3,261.2 L660.8,261.2 L661.3,261.2 L661.8,261.2 L662.3,261.2 L662.8,261.2 L663.3,261.2 L663.8,261.2 L664.3,261.2 L664.8,261.2 L665.3,261.2 L665.8,261.2 L666.3,261.2 L666.8,261.2 L667.3,261.2 L667.8,261.2 L668.3,261.2 L668.8,261.2 L669.3,261.2 L669.8,261.2 L670.3,261.2 L670.8,261.2 L671.3,261.2 L671.8,261.2 L672.3,261.2 L672.8,261.2 L673.3,261.2 L673.8,261.2 L674.3,261.2 L674.8,261.2 L675.3,261.3 L675.8,261.3 L676.3,261.3 L676.8,261.3 L677.3,261.3 L677.8,261.3 L678.3,261.3 L678.8,261.3 L679.3,261.3 L679.8,261.3 L680.3,261.3 L680.8,261.3 L681.3,261.3 L681.8,261.3 L682.3,261.3 L682.8,261.3 L683.3,261.3 L683.8,261.3 L684.3,261.3 L684.8,261.3 L685.3,261.3 L685.8,261.3 L686.3,261.3 L686.8,261.3 L687.3,261.3 L687.8,261.3 L688.3,261.3 L688.8,261.3 L689.3,261.3 L689.8,261.3 L690.3,261.3 L690.8,261.3 L691.3,261.3 L691.8,261.2 L692.3,261.2 L692.8,261.2 L693.3,261.2 L693.8,261.2 L694.3,261.2 L694.8,261.2 L695.3,261.2 L695.8,261.2 L696.3,261.2 L696.8,261.2 L697.3,261.2 L697.8,261.2 L698.3,261.2 L698.8,261.2 L699.3,261.2 L699.8,261.2 L700.3,261.2 L700.8,261.2 L701.3,261.2 L701.8,261.2 L702.3,261.2 L702.8,261.2 L703.3,261.2 L703.8,261.2 L704.3,261.2 L704.8,261.2 L705.3,261.2 L705.8,261.3 L706.3,261.3 L706.8,261.3 L707.3,261.3 L707.8,261.3 L708.3,261.3 L708.8,261.3 L709.3,261.3 L709.8,261.3 L710.3,261.3 L710.8,261.3 L711.3,261.3 L711.8,261.3 L712.3,261.3 L712.8,261.3 L713.3,261.3 L713.8,261.3 L714.3,261.3 L714.8,261.3 L715.3,261.3 L715.8,261.3 L716.3,261.3 L716.8,261.3 L717.3,261.3 L717.8,261.2 L718.3,261.2 L718.8,261.2 L719.3,261.2 L719.8,261.2 L720.3,261.2 L720.8,261.2 L721.3,261.2 L721.8,261.2 L722.3,261.2 L722.8,261.2 L723.3,261.2 L723.8,261.2 L724.3,261.2 L724.8,261.2 L725.3,261.2 L725.8,261.2 L726.3,261.2 L726.8,261.2 L727.3,261.2 L727.8,261.2 L728.3,261.2 L728.8,261.2 L729.3,261.2 L729.8,261.2 L730.3,261.1 L730.8,261.1 L731.3,261.1 L731.8,261.1 L732.3,261.1 L732.8,261.1 L733.3,261.1 L733.8,261.0 L734.3,261.0 L734.8,261.0 L735.3,261.0 L735.8,261.0 L736.3,260.9 L736.8,260.9 L737.3,260.9 L737.8,260.9 L738.3,260.8 L738.8,260.8 L739.3,260.7 L739.8,260.7 L740.3,260.6 L740.8,260.6 L741.3,260.5 L741.8,260.5 L742.3,260.4 L742.8,260.3 L743.3,260.3 L743.8,260.2 L744.3,260.1 L744.8,260.0 L745.3,259.9 L745.8,259.8 L746.3,259.6 L746.8,259.5 L747.3,259.3 L747.8,259.2 L748.3,259.0 L748.8,258.8 L749.3,258.6 L749.8,258.4 L750.3,258.2 L750.8,258.0 L751.3,257.7 L751.8,257.4 L752.3,257.1 L752.8,256.8 L753.3,256.5 L753.8,256.1 L754.3,255.7 L754.8,255.3 L755.3,254.9 L755.8,254.4 L756.3,253.9 L756.8,253.4 L757.3,252.8 L757.8,252.2 L758.3,251.6 L758.8,250.9 L759.3,250.2 L759.8,249.5 L760.3,248.7 L760.8,247.9 L761.3,247.0 L761.8,246.1 L762.3,245.1 L762.8,244.1 L763.3,243.0 L763.8,241.9 L764.3,240.7 L764.8,239.5 L765.3,238.2 L765.8,236.8 L766.3,235.4 L766.8,234.0 L767.3,232.4 L767.8,230.8 L768.3,229.2 L768.8,227.5 L769.3,225.7 L769.8,223.8 L770.3,221.9 L770.8,219.9 L771.3,217.9 L771.8,215.8 L772.3,213.6 L772.8,211.3 L773.3,209.0 L773.8,206.7 L774.3,204.2 L774.8,201.7 L775.3,199.2 L775.8,196.6 L776.3,193.9 L776.8,191.2 L777.3,188.4 L777.8,185.5 L778.3,182.7 L778.8,179.8 L779.3,176.8 L779.8,173.8 L780.3,170.8 L780.8,167.7 L781.3,164.6 L781.8,161.5 L782.3,158.3 L782.8,155.2 L783.3,152.1 L783.8,148.9 L784.3,145.7 L784.8,142.6 L785.3,139.5 L785.8,136.3 L786.3,133.2 L786.8,130.2 L787.3,127.2 L787.8,124.2 L788.3,121.2 L788.8,118.3 L789.3,115.5 L789.8,112.8 L790.3,110.1 L790.8,107.4 L791.3,104.9 L791.8,102.5 L792.3,100.1 L792.8,97.9 L793.3,95.7 L793.8,93.7 L794.3,91.8 L794.8,90.0 L795.3,88.3 L795.8,86.8 L796.3,85.4 L796.8,84.1 L797.3,83.0 L797.8,82.0 L798.3,81.2 L798.8,80.5 L799.3,80.0 L799.8,79.6 L800.3,79.4 L800.8,79.3 L801.3,79.4 L801.8,79.6 L802.3,80.0 L802.8,80.6 L803.3,81.3 L803.8,82.1 L804.3,83.1 L804.8,84.2 L805.3,85.5 L805.8,86.9 L806.3,88.5 L806.8,90.2 L807.3,92.0 L807.8,93.9 L808.3,95.9 L808.8,98.1 L809.3,100.3 L809.8,102.7 L810.3,105.1 L810.8,107.7 L811.3,110.3 L811.8,113.0 L812.3,115.8 L812.8,118.6 L813.3,121.5 L813.8,124.5 L814.3,127.5 L814.8,130.5 L815.3,133.6 L815.8,136.7 L816.3,139.8 L816.8,143.0 L817.3,146.1 L817.8,149.3 L818.3,152.5 L818.8,155.6 L819.3,158.8 L819.8,161.9 L820.3,165.0 L820.8,168.2 L821.3,171.2 L821.8,174.3 L822.3,177.3 L822.8,180.3 L823.3,183.2 L823.8,186.1 L824.3,188.9 L824.8,191.7 L825.3,194.5 L825.8,197.1 L826.3,199.8 L826.8,202.3 L827.3,204.8 L827.8,207.3 L828.3,209.7 L828.8,212.0 L829.3,214.2 L829.8,216.4 L830.3,218.6 L830.8,220.6 L831.3,222.6 L831.8,224.5 L832.3,226.4 L832.8,228.2 L833.3,229.9 L833.8,231.6 L834.3,233.2 L834.8,234.7 L835.3,236.2 L835.8,237.6 L836.3,239.0 L836.8,240.3 L837.3,241.5 L837.8,242.7 L838.3,243.9 L838.8,245.0 L839.3,246.0 L839.8,247.0 L840.3,247.9 L840.8,248.8 L841.3,249.6 L841.8,250.4 L842.3,251.2 L842.8,251.9 L843.3,252.6 L843.8,253.2 L844.3,253.8 L844.8,254.4 L845.3,254.9 L845.8,255.5 L846.3,255.9 L846.8,256.4 L847.3,256.8 L847.8,257.2 L848.3,257.6 L848.8,257.9 L849.3,258.3 L849.8,258.6 L850.3,258.9 L850.8,259.1 L851.3,259.4 L851.8,259.6 L852.3,259.8 L852.8,260.0 L853.3,260.2 L853.8,260.4 L854.3,260.6 L854.8,260.7 L855.3,260.9 L855.8,261.0 L856.3,261.2 L856.8,261.3 L857.3,261.4 L857.8,261.5 L858.3,261.6 L858.8,261.7 L859.3,261.8 L859.8,261.8 L860.3,261.9 L860.8,262.0 L861.3,262.0 L861.8,262.1 L862.3,262.2 L862.8,262.2 L863.3,262.3 L863.8,262.3 L864.3,262.4 L864.8,262.4 L865.3,262.4 L865.8,262.5 L866.3,262.5 L866.8,262.5 L867.3,262.6 L867.8,262.6 L868.3,262.6 L868.8,262.7 L869.3,262.7 L869.8,262.7 L870.3,262.7 L870.8,262.8 L871.3,262.8 L871.8,262.8 L872.3,262.8 L872.8,262.8 L873.3,262.9 L873.8,262.9 L874.3,262.9 L874.8,262.9 L875.3,262.9 L875.8,262.9 L876.3,263.0 L876.8,263.0 L877.3,263.0 L877.8,263.0 L878.3,263.0 L878.8,263.0 L879.3,263.0 L879.8,263.1 L880.3,263.1 L880.8,263.1 L881.3,263.1 L881.8,263.1 L882.3,263.1 L882.8,263.1 L883.3,263.2 L883.8,263.2 L884.3,263.2 L884.8,263.2 L885.3,263.2 L885.8,263.2 L886.3,263.2 L886.8,263.2 L887.3,263.3 L887.8,263.3 L888.3,263.3 L888.8,263.3 L889.3,263.3 L889.8,263.3 L890.3,263.3 L890.8,263.3 L891.3,263.3 L891.8,263.4 L892.3,263.4 L892.8,263.4 L893.3,263.4 L893.8,263.4 L894.3,263.4 L894.8,263.4 L895.3,263.4 L895.8,263.4 L896.3,263.5 L896.8,263.5 L897.3,263.5 L897.8,263.5 L898.3,263.5 L898.8,263.5 L899.3,263.5 L899.8,263.5 L900.3,263.5 L900.8,263.6 L901.3,263.6 L901.8,263.6 L902.3,263.6 L902.8,263.6 L903.3,263.6 L903.8,263.6 L904.3,263.6 L904.8,263.6 L905.3,263.6 L905.8,263.7 L906.3,263.7 L906.8,263.7 L907.3,263.7 L907.8,263.7 L908.3,263.7 L908.8,263.7 L909.3,263.7 L909.8,263.7 L910.3,263.7 L910.8,263.7 L911.3,263.8 L911.8,263.8 L912.3,263.8 L912.8,263.8 L913.3,263.8 L913.8,263.8 L914.3,263.8 L914.8,263.8 L915.3,263.8 L915.8,263.8 L916.3,263.8 L916.8,263.9 L917.3,263.9 L917.8,263.9 L918.3,263.9 L918.8,263.9 L919.3,263.9 L919.8,263.9 L920.3,263.9 L920.8,263.9 L921.3,263.9 L921.8,263.9 L922.3,264.0 L922.8,264.0 L923.3,264.0 L923.8,264.0 L924.3,264.0 L924.8,264.0 L925.3,264.0 L925.8,264.0 L926.3,264.0 L926.8,264.0 L927.3,264.0 L927.8,264.0 L928.3,264.1 L928.8,264.1 L929.3,264.1 L929.8,264.1 L930.3,264.1 L930.8,264.1 L931.3,264.1 L931.8,264.1 L932.3,264.1 L932.8,264.1 L933.3,264.1 L933.8,264.1 L934.3,264.2 L934.8,264.2 L935.3,264.2 L935.8,264.2 L936.3,264.2 L936.8,264.2 L937.3,264.2 L937.8,264.2 L938.3,264.2 L938.8,264.2 L939.3,264.2 L939.8,264.2 L940.3,264.2 L940.8,264.3 L941.3,264.3 L941.8,264.3 L942.3,264.3 L942.8,264.3 L943.3,264.3 L943.8,264.3 L944.3,264.3 L944.8,264.3 L945.3,264.3 L945.8,264.3 L946.3,264.3 L946.8,264.3 L947.3,264.4 L947.8,264.4 L948.3,264.4 L948.8,264.4 L949.3,264.4 L949.8,264.4 L950.3,264.4 L950.8,264.4 L951.3,264.4 L951.8,264.4 L952.3,264.4 L952.8,264.4 L953.3,264.4 L953.8,264.5 L954.3,264.5 L954.8,264.5 L955.3,264.5 L955.8,264.5 L956.3,264.5 L956.8,264.5 L957.3,264.5 L957.8,264.5 L958.3,264.5 L958.8,264.5 L959.3,264.5 L959.8,264.5 L960.3,264.6 L960.8,264.6 L961.3,264.6 L961.8,264.6 L962.3,264.6 L962.8,264.6 L963.3,264.6 L963.8,264.6 L964.3,264.6 L964.8,264.6 L965.3,264.6 L965.8,264.6 L966.3,264.6 L966.8,264.6 L967.3,264.7 L967.8,264.7 L968.3,264.7 L968.8,264.7 L969.3,264.7 L969.8,264.7 L970.3,264.7 L970.8,264.7 L971.3,264.7 L971.8,264.7 L972.3,264.7 L972.8,264.7 L973.3,264.7 L973.8,264.8 L974.3,264.8 L974.8,264.8 L975.3,264.8 L975.8,264.8 L976.3,264.8 L976.8,264.8 L977.3,264.8 L977.8,264.8 L978.3,264.8 L978.8,264.8 L979.3,264.8 L979.8,264.8 L980.3,264.8 L980.8,264.9 L981.3,264.9 L981.8,264.9 L982.3,264.9 L982.8,264.9" fill="none" stroke="#4a9c7e" stroke-width="1.6" stroke-linejoin="round" stroke-linecap="round"/>
<path d="M567.3,260.5 L567.8,260.5 L568.3,260.5 L568.8,260.5 L569.3,260.5 L569.8,260.5 L570.3,260.5 L570.8,260.5 L571.3,260.5 L571.8,260.5 L572.3,260.5 L572.8,260.5 L573.3,260.5 L573.8,260.5 L574.3,260.5 L574.8,260.5 L575.3,260.5 L575.8,260.5 L576.3,260.5 L576.8,260.5 L577.3,260.5 L577.8,260.5 L578.3,260.5 L578.8,260.5 L579.3,260.5 L579.8,260.5 L580.3,260.5 L580.8,260.5 L581.3,260.5 L581.8,260.5 L582.3,260.5 L582.8,260.5 L583.3,260.5 L583.8,260.5 L584.3,260.5 L584.8,260.5 L585.3,260.5 L585.8,260.5 L586.3,260.5 L586.8,260.5 L587.3,260.5 L587.8,260.5 L588.3,260.5 L588.8,260.5 L589.3,260.5 L589.8,260.5 L590.3,260.5 L590.8,260.5 L591.3,260.5 L591.8,260.5 L592.3,260.5 L592.8,260.5 L593.3,260.5 L593.8,260.5 L594.3,260.5 L594.8,260.5 L595.3,260.5 L595.8,260.5 L596.3,260.5 L596.8,260.5 L597.3,260.5 L597.8,260.5 L598.3,260.5 L598.8,260.5 L599.3,260.5 L599.8,260.5 L600.3,260.5 L600.8,260.5 L601.3,260.4 L601.8,260.4 L602.3,260.4 L602.8,260.4 L603.3,260.4 L603.8,260.4 L604.3,260.4 L604.8,260.4 L605.3,260.4 L605.8,260.4 L606.3,260.4 L606.8,260.4 L607.3,260.4 L607.8,260.4 L608.3,260.4 L608.8,260.4 L609.3,260.4 L609.8,260.4 L610.3,260.4 L610.8,260.4 L611.3,260.4 L611.8,260.4 L612.3,260.4 L612.8,260.4 L613.3,260.4 L613.8,260.4 L614.3,260.4 L614.8,260.4 L615.3,260.4 L615.8,260.4 L616.3,260.4 L616.8,260.4 L617.3,260.4 L617.8,260.4 L618.3,260.4 L618.8,260.4 L619.3,260.4 L619.8,260.4 L620.3,260.4 L620.8,260.3 L621.3,260.3 L621.8,260.3 L622.3,260.3 L622.8,260.3 L623.3,260.3 L623.8,260.3 L624.3,260.3 L624.8,260.3 L625.3,260.3 L625.8,260.3 L626.3,260.3 L626.8,260.3 L627.3,260.3 L627.8,260.3 L628.3,260.3 L628.8,260.3 L629.3,260.3 L629.8,260.3 L630.3,260.3 L630.8,260.3 L631.3,260.3 L631.8,260.3 L632.3,260.3 L632.8,260.2 L633.3,260.2 L633.8,260.2 L634.3,260.2 L634.8,260.2 L635.3,260.2 L635.8,260.2 L636.3,260.2 L636.8,260.2 L637.3,260.2 L637.8,260.2 L638.3,260.2 L638.8,260.2 L639.3,260.2 L639.8,260.2 L640.3,260.2 L640.8,260.2 L641.3,260.2 L641.8,260.1 L642.3,260.1 L642.8,260.1 L643.3,260.1 L643.8,260.1 L644.3,260.1 L644.8,260.1 L645.3,260.1 L645.8,260.1 L646.3,260.1 L646.8,260.1 L647.3,260.1 L647.8,260.1 L648.3,260.1 L648.8,260.0 L649.3,260.0 L649.8,260.0 L650.3,260.0 L650.8,260.0 L651.3,260.0 L651.8,260.0 L652.3,260.0 L652.8,260.0 L653.3,260.0 L653.8,260.0 L654.3,259.9 L654.8,259.9 L655.3,259.9 L655.8,259.9 L656.3,259.9 L656.8,259.9 L657.3,259.9 L657.8,259.9 L658.3,259.9 L658.8,259.9 L659.3,259.8 L659.8,259.8 L660.3,259.8 L660.8,259.8 L661.3,259.8 L661.8,259.8 L662.3,259.8 L662.8,259.8 L663.3,259.8 L663.8,259.7 L664.3,259.7 L664.8,259.7 L665.3,259.7 L665.8,259.7 L666.3,259.7 L666.8,259.7 L667.3,259.6 L667.8,259.6 L668.3,259.6 L668.8,259.6 L669.3,259.6 L669.8,259.6 L670.3,259.6 L670.8,259.5 L671.3,259.5 L671.8,259.5 L672.3,259.5 L672.8,259.5 L673.3,259.5 L673.8,259.4 L674.3,259.4 L674.8,259.4 L675.3,259.4 L675.8,259.4 L676.3,259.3 L676.8,259.3 L677.3,259.3 L677.8,259.3 L678.3,259.3 L678.8,259.2 L679.3,259.2 L679.8,259.2 L680.3,259.2 L680.8,259.2 L681.3,259.1 L681.8,259.1 L682.3,259.1 L682.8,259.1 L683.3,259.0 L683.8,259.0 L684.3,259.0 L684.8,259.0 L685.3,258.9 L685.8,258.9 L686.3,258.9 L686.8,258.8 L687.3,258.8 L687.8,258.8 L688.3,258.7 L688.8,258.7 L689.3,258.7 L689.8,258.6 L690.3,258.6 L690.8,258.6 L691.3,258.5 L691.8,258.5 L692.3,258.5 L692.8,258.4 L693.3,258.4 L693.8,258.3 L694.3,258.3 L694.8,258.2 L695.3,258.2 L695.8,258.1 L696.3,258.1 L696.8,258.0 L697.3,258.0 L697.8,257.9 L698.3,257.9 L698.8,257.8 L699.3,257.8 L699.8,257.7 L700.3,257.6 L700.8,257.6 L701.3,257.5 L701.8,257.4 L702.3,257.4 L702.8,257.3 L703.3,257.2 L703.8,257.1 L704.3,257.0 L704.8,257.0 L705.3,256.9 L705.8,256.8 L706.3,256.7 L706.8,256.6 L707.3,256.5 L707.8,256.4 L708.3,256.3 L708.8,256.2 L709.3,256.1 L709.8,255.9 L710.3,255.8 L710.8,255.7 L711.3,255.6 L711.8,255.4 L712.3,255.3 L712.8,255.2 L713.3,255.0 L713.8,254.8 L714.3,254.7 L714.8,254.5 L715.3,254.4 L715.8,254.2 L716.3,254.0 L716.8,253.8 L717.3,253.6 L717.8,253.4 L718.3,253.2 L718.8,253.0 L719.3,252.8 L719.8,252.6 L720.3,252.3 L720.8,252.1 L721.3,251.8 L721.8,251.6 L722.3,251.3 L722.8,251.0 L723.3,250.8 L723.8,250.5 L724.3,250.2 L724.8,249.9 L725.3,249.6 L725.8,249.3 L726.3,248.9 L726.8,248.6 L727.3,248.2 L727.8,247.9 L728.3,247.5 L728.8,247.2 L729.3,246.8 L729.8,246.4 L730.3,246.0 L730.8,245.6 L731.3,245.2 L731.8,244.7 L732.3,244.3 L732.8,243.8 L733.3,243.4 L733.8,242.9 L734.3,242.4 L734.8,242.0 L735.3,241.5 L735.8,241.0 L736.3,240.4 L736.8,239.9 L737.3,239.4 L737.8,238.8 L738.3,238.3 L738.8,237.7 L739.3,237.2 L739.8,236.6 L740.3,236.0 L740.8,235.4 L741.3,234.8 L741.8,234.2 L742.3,233.6 L742.8,232.9 L743.3,232.3 L743.8,231.7 L744.3,231.0 L744.8,230.4 L745.3,229.7 L745.8,229.0 L746.3,228.4 L746.8,227.7 L747.3,227.0 L747.8,226.3 L748.3,225.6 L748.8,224.9 L749.3,224.3 L749.8,223.6 L750.3,222.9 L750.8,222.2 L751.3,221.5 L751.8,220.8 L752.3,220.1 L752.8,219.4 L753.3,218.7 L753.8,218.0 L754.3,217.3 L754.8,216.6 L755.3,216.0 L755.8,215.3 L756.3,214.6 L756.8,214.0 L757.3,213.4 L757.8,212.7 L758.3,212.1 L758.8,211.5 L759.3,210.9 L759.8,210.3 L760.3,209.8 L760.8,209.2 L761.3,208.7 L761.8,208.2 L762.3,207.7 L762.8,207.2 L763.3,206.7 L763.8,206.3 L764.3,205.9 L764.8,205.5 L765.3,205.2 L765.8,204.8 L766.3,204.5 L766.8,204.3 L767.3,204.0 L767.8,203.8 L768.3,203.6 L768.8,203.4 L769.3,203.3 L769.8,203.2 L770.3,203.2 L770.8,203.1 L771.3,203.1 L771.8,203.1 L772.3,203.2 L772.8,203.3 L773.3,203.4 L773.8,203.6 L774.3,203.7 L774.8,204.0 L775.3,204.2 L775.8,204.5 L776.3,204.8 L776.8,205.1 L777.3,205.4 L777.8,205.8 L778.3,206.2 L778.8,206.6 L779.3,207.1 L779.8,207.6 L780.3,208.0 L780.8,208.6 L781.3,209.1 L781.8,209.6 L782.3,210.2 L782.8,210.8 L783.3,211.4 L783.8,212.0 L784.3,212.6 L784.8,213.2 L785.3,213.9 L785.8,214.5 L786.3,215.2 L786.8,215.9 L787.3,216.6 L787.8,217.2 L788.3,217.9 L788.8,218.6 L789.3,219.3 L789.8,220.0 L790.3,220.7 L790.8,221.4 L791.3,222.2 L791.8,222.9 L792.3,223.6 L792.8,224.3 L793.3,225.0 L793.8,225.7 L794.3,226.4 L794.8,227.1 L795.3,227.8 L795.8,228.5 L796.3,229.1 L796.8,229.8 L797.3,230.5 L797.8,231.2 L798.3,231.8 L798.8,232.5 L799.3,233.1 L799.8,233.8 L800.3,234.4 L800.8,235.0 L801.3,235.6 L801.8,236.3 L802.3,236.9 L802.8,237.5 L803.3,238.0 L803.8,238.6 L804.3,239.2 L804.8,239.7 L805.3,240.3 L805.8,240.8 L806.3,241.4 L806.8,241.9 L807.3,242.4 L807.8,242.9 L808.3,243.4 L808.8,243.9 L809.3,244.4 L809.8,244.8 L810.3,245.3 L810.8,245.7 L811.3,246.2 L811.8,246.6 L812.3,247.0 L812.8,247.4 L813.3,247.8 L813.8,248.2 L814.3,248.6 L814.8,249.0 L815.3,249.3 L815.8,249.7 L816.3,250.0 L816.8,250.3 L817.3,250.7 L817.8,251.0 L818.3,251.3 L818.8,251.6 L819.3,251.9 L819.8,252.2 L820.3,252.5 L820.8,252.7 L821.3,253.0 L821.8,253.3 L822.3,253.5 L822.8,253.7 L823.3,254.0 L823.8,254.2 L824.3,254.4 L824.8,254.6 L825.3,254.9 L825.8,255.1 L826.3,255.3 L826.8,255.4 L827.3,255.6 L827.8,255.8 L828.3,256.0 L828.8,256.2 L829.3,256.3 L829.8,256.5 L830.3,256.6 L830.8,256.8 L831.3,256.9 L831.8,257.1 L832.3,257.2 L832.8,257.3 L833.3,257.5 L833.8,257.6 L834.3,257.7 L834.8,257.8 L835.3,257.9 L835.8,258.0 L836.3,258.1 L836.8,258.3 L837.3,258.4 L837.8,258.4 L838.3,258.5 L838.8,258.6 L839.3,258.7 L839.8,258.8 L840.3,258.9 L840.8,259.0 L841.3,259.1 L841.8,259.1 L842.3,259.2 L842.8,259.3 L843.3,259.3 L843.8,259.4 L844.3,259.5 L844.8,259.5 L845.3,259.6 L845.8,259.7 L846.3,259.7 L846.8,259.8 L847.3,259.8 L847.8,259.9 L848.3,260.0 L848.8,260.0 L849.3,260.1 L849.8,260.1 L850.3,260.2 L850.8,260.2 L851.3,260.3 L851.8,260.3 L852.3,260.4 L852.8,260.4 L853.3,260.4 L853.8,260.5 L854.3,260.5 L854.8,260.6 L855.3,260.6 L855.8,260.6 L856.3,260.7 L856.8,260.7 L857.3,260.8 L857.8,260.8 L858.3,260.8 L858.8,260.9 L859.3,260.9 L859.8,260.9 L860.3,261.0 L860.8,261.0 L861.3,261.0 L861.8,261.1 L862.3,261.1 L862.8,261.1 L863.3,261.2 L863.8,261.2 L864.3,261.2 L864.8,261.2 L865.3,261.3 L865.8,261.3 L866.3,261.3 L866.8,261.4 L867.3,261.4 L867.8,261.4 L868.3,261.4 L868.8,261.5 L869.3,261.5 L869.8,261.5 L870.3,261.5 L870.8,261.6 L871.3,261.6 L871.8,261.6 L872.3,261.6 L872.8,261.7 L873.3,261.7 L873.8,261.7 L874.3,261.7 L874.8,261.8 L875.3,261.8 L875.8,261.8 L876.3,261.8 L876.8,261.9 L877.3,261.9 L877.8,261.9 L878.3,261.9 L878.8,261.9 L879.3,262.0 L879.8,262.0 L880.3,262.0 L880.8,262.0 L881.3,262.0 L881.8,262.1 L882.3,262.1 L882.8,262.1 L883.3,262.1 L883.8,262.1 L884.3,262.2 L884.8,262.2 L885.3,262.2 L885.8,262.2 L886.3,262.2 L886.8,262.3 L887.3,262.3 L887.8,262.3 L888.3,262.3 L888.8,262.3 L889.3,262.4 L889.8,262.4 L890.3,262.4 L890.8,262.4 L891.3,262.4 L891.8,262.4 L892.3,262.5 L892.8,262.5 L893.3,262.5 L893.8,262.5 L894.3,262.5 L894.8,262.5 L895.3,262.6 L895.8,262.6 L896.3,262.6 L896.8,262.6 L897.3,262.6 L897.8,262.6 L898.3,262.7 L898.8,262.7 L899.3,262.7 L899.8,262.7 L900.3,262.7 L900.8,262.7 L901.3,262.7 L901.8,262.8 L902.3,262.8 L902.8,262.8 L903.3,262.8 L903.8,262.8 L904.3,262.8 L904.8,262.9 L905.3,262.9 L905.8,262.9 L906.3,262.9 L906.8,262.9 L907.3,262.9 L907.8,262.9 L908.3,263.0 L908.8,263.0 L909.3,263.0 L909.8,263.0 L910.3,263.0 L910.8,263.0 L911.3,263.0 L911.8,263.1 L912.3,263.1 L912.8,263.1 L913.3,263.1 L913.8,263.1 L914.3,263.1 L914.8,263.1 L915.3,263.1 L915.8,263.2 L916.3,263.2 L916.8,263.2 L917.3,263.2 L917.8,263.2 L918.3,263.2 L918.8,263.2 L919.3,263.2 L919.8,263.3 L920.3,263.3 L920.8,263.3 L921.3,263.3 L921.8,263.3 L922.3,263.3 L922.8,263.3 L923.3,263.3 L923.8,263.4 L924.3,263.4 L924.8,263.4 L925.3,263.4 L925.8,263.4 L926.3,263.4 L926.8,263.4 L927.3,263.4 L927.8,263.5 L928.3,263.5 L928.8,263.5 L929.3,263.5 L929.8,263.5 L930.3,263.5 L930.8,263.5 L931.3,263.5 L931.8,263.5 L932.3,263.6 L932.8,263.6 L933.3,263.6 L933.8,263.6 L934.3,263.6 L934.8,263.6 L935.3,263.6 L935.8,263.6 L936.3,263.6 L936.8,263.7 L937.3,263.7 L937.8,263.7 L938.3,263.7 L938.8,263.7 L939.3,263.7 L939.8,263.7 L940.3,263.7 L940.8,263.7 L941.3,263.8 L941.8,263.8 L942.3,263.8 L942.8,263.8 L943.3,263.8 L943.8,263.8 L944.3,263.8 L944.8,263.8 L945.3,263.8 L945.8,263.8 L946.3,263.9 L946.8,263.9 L947.3,263.9 L947.8,263.9 L948.3,263.9 L948.8,263.9 L949.3,263.9 L949.8,263.9 L950.3,263.9 L950.8,263.9 L951.3,264.0 L951.8,264.0 L952.3,264.0 L952.8,264.0 L953.3,264.0 L953.8,264.0 L954.3,264.0 L954.8,264.0 L955.3,264.0 L955.8,264.0 L956.3,264.1 L956.8,264.1 L957.3,264.1 L957.8,264.1 L958.3,264.1 L958.8,264.1 L959.3,264.1 L959.8,264.1 L960.3,264.1 L960.8,264.1 L961.3,264.1 L961.8,264.2 L962.3,264.2 L962.8,264.2 L963.3,264.2 L963.8,264.2 L964.3,264.2 L964.8,264.2 L965.3,264.2 L965.8,264.2 L966.3,264.2 L966.8,264.3 L967.3,264.3 L967.8,264.3 L968.3,264.3 L968.8,264.3 L969.3,264.3 L969.8,264.3 L970.3,264.3 L970.8,264.3 L971.3,264.3 L971.8,264.3 L972.3,264.4 L972.8,264.4 L973.3,264.4 L973.8,264.4 L974.3,264.4 L974.8,264.4 L975.3,264.4 L975.8,264.4 L976.3,264.4 L976.8,264.4 L977.3,264.4 L977.8,264.5 L978.3,264.5 L978.8,264.5 L979.3,264.5 L979.8,264.5 L980.3,264.5 L980.8,264.5 L981.3,264.5 L981.8,264.5 L982.3,264.5 L982.8,264.5" fill="none" stroke="#a48cc8" stroke-width="1.6" stroke-linejoin="round" stroke-linecap="round"/>
<path d="M699.3,261.9 L699.8,261.9 L700.3,261.9 L700.8,261.9 L701.3,261.9 L701.8,261.9 L702.3,261.9 L702.8,261.9 L703.3,261.9 L703.8,261.9 L704.3,261.9 L704.8,261.9 L705.3,262.0 L705.8,262.0 L706.3,262.0 L706.8,262.0 L707.3,262.0 L707.8,262.0 L708.3,262.0 L708.8,262.0 L709.3,262.0 L709.8,262.0 L710.3,262.0 L710.8,262.0 L711.3,262.0 L711.8,262.0 L712.3,262.0 L712.8,262.0 L713.3,262.0 L713.8,262.0 L714.3,262.0 L714.8,262.0 L715.3,262.1 L715.8,262.1 L716.3,262.1 L716.8,262.1 L717.3,262.1 L717.8,262.1 L718.3,262.1 L718.8,262.1 L719.3,262.1 L719.8,262.1 L720.3,262.1 L720.8,262.1 L721.3,262.1 L721.8,262.1 L722.3,262.1 L722.8,262.1 L723.3,262.1 L723.8,262.1 L724.3,262.1 L724.8,262.1 L725.3,262.2 L725.8,262.2 L726.3,262.2 L726.8,262.2 L727.3,262.2 L727.8,262.2 L728.3,262.2 L728.8,262.2 L729.3,262.2 L729.8,262.2 L730.3,262.2 L730.8,262.2 L731.3,262.2 L731.8,262.2 L732.3,262.2 L732.8,262.2 L733.3,262.2 L733.8,262.2 L734.3,262.2 L734.8,262.2 L735.3,262.3 L735.8,262.3 L736.3,262.3 L736.8,262.3 L737.3,262.3 L737.8,262.3 L738.3,262.3 L738.8,262.3 L739.3,262.3 L739.8,262.3 L740.3,262.3 L740.8,262.3 L741.3,262.3 L741.8,262.3 L742.3,262.3 L742.8,262.3 L743.3,262.3 L743.8,262.3 L744.3,262.3 L744.8,262.3 L745.3,262.4 L745.8,262.4 L746.3,262.4 L746.8,262.4 L747.3,262.4 L747.8,262.4 L748.3,262.4 L748.8,262.4 L749.3,262.4 L749.8,262.4 L750.3,262.4 L750.8,262.4 L751.3,262.4 L751.8,262.4 L752.3,262.4 L752.8,262.4 L753.3,262.4 L753.8,262.4 L754.3,262.4 L754.8,262.4 L755.3,262.5 L755.8,262.5 L756.3,262.5 L756.8,262.5 L757.3,262.5 L757.8,262.5 L758.3,262.5 L758.8,262.5 L759.3,262.5 L759.8,262.5 L760.3,262.5 L760.8,262.5 L761.3,262.5 L761.8,262.5 L762.3,262.5 L762.8,262.5 L763.3,262.5 L763.8,262.5 L764.3,262.5 L764.8,262.5 L765.3,262.6 L765.8,262.6 L766.3,262.6 L766.8,262.6 L767.3,262.6 L767.8,262.6 L768.3,262.6 L768.8,262.6 L769.3,262.6 L769.8,262.6 L770.3,262.6 L770.8,262.6 L771.3,262.6 L771.8,262.6 L772.3,262.6 L772.8,262.6 L773.3,262.6 L773.8,262.6 L774.3,262.6 L774.8,262.6 L775.3,262.7 L775.8,262.7 L776.3,262.7 L776.8,262.7 L777.3,262.7 L777.8,262.7 L778.3,262.7 L778.8,262.7 L779.3,262.7 L779.8,262.7 L780.3,262.7 L780.8,262.7 L781.3,262.7 L781.8,262.7 L782.3,262.7 L782.8,262.7 L783.3,262.7 L783.8,262.7 L784.3,262.7 L784.8,262.7 L785.3,262.8 L785.8,262.8 L786.3,262.8 L786.8,262.8 L787.3,262.8 L787.8,262.8 L788.3,262.8 L788.8,262.8 L789.3,262.8 L789.8,262.8 L790.3,262.8 L790.8,262.8 L791.3,262.8 L791.8,262.8 L792.3,262.8 L792.8,262.8 L793.3,262.8 L793.8,262.8 L794.3,262.8 L794.8,262.8 L795.3,262.9 L795.8,262.9 L796.3,262.9 L796.8,262.9 L797.3,262.9 L797.8,262.9 L798.3,262.9 L798.8,262.9 L799.3,262.9 L799.8,262.9 L800.3,262.9 L800.8,262.9 L801.3,262.9 L801.8,262.9 L802.3,262.9 L802.8,262.9 L803.3,262.9 L803.8,262.9 L804.3,263.0 L804.8,263.0 L805.3,263.0 L805.8,263.0 L806.3,263.0 L806.8,263.0 L807.3,263.0 L807.8,263.0 L808.3,263.0 L808.8,263.0 L809.3,263.0 L809.8,263.0 L810.3,263.0 L810.8,263.0 L811.3,263.0 L811.8,263.1 L812.3,263.1 L812.8,263.1 L813.3,263.1 L813.8,263.1 L814.3,263.1 L814.8,263.1 L815.3,263.1 L815.8,263.1 L816.3,263.1 L816.8,263.1 L817.3,263.1 L817.8,263.1 L818.3,263.1 L818.8,263.1 L819.3,263.2 L819.8,263.2 L820.3,263.2 L820.8,263.2 L821.3,263.2 L821.8,263.2 L822.3,263.2 L822.8,263.2 L823.3,263.2 L823.8,263.2 L824.3,263.2 L824.8,263.2 L825.3,263.2 L825.8,263.2 L826.3,263.2 L826.8,263.3 L827.3,263.3 L827.8,263.3 L828.3,263.3 L828.8,263.3 L829.3,263.3 L829.8,263.3 L830.3,263.3 L830.8,263.3 L831.3,263.3 L831.8,263.3 L832.3,263.3 L832.8,263.3 L833.3,263.3 L833.8,263.3 L834.3,263.3 L834.8,263.4 L835.3,263.4 L835.8,263.4 L836.3,263.4 L836.8,263.4 L837.3,263.4 L837.8,263.4 L838.3,263.4 L838.8,263.4 L839.3,263.4 L839.8,263.4 L840.3,263.4 L840.8,263.4 L841.3,263.4 L841.8,263.4 L842.3,263.5 L842.8,263.5 L843.3,263.5 L843.8,263.5 L844.3,263.5 L844.8,263.5 L845.3,263.5 L845.8,263.5 L846.3,263.5 L846.8,263.5 L847.3,263.5 L847.8,263.5 L848.3,263.5 L848.8,263.5 L849.3,263.5 L849.8,263.6 L850.3,263.6 L850.8,263.6 L851.3,263.6 L851.8,263.6 L852.3,263.6 L852.8,263.6 L853.3,263.6 L853.8,263.6 L854.3,263.6 L854.8,263.6 L855.3,263.6 L855.8,263.6 L856.3,263.6 L856.8,263.6 L857.3,263.7 L857.8,263.7 L858.3,263.7 L858.8,263.7 L859.3,263.7 L859.8,263.7" fill="none" stroke="#3a8fc4" stroke-width="1.8" stroke-linejoin="round" stroke-linecap="round"/>
<rect x="52.4" y="364.4" width="415.8" height="290.4" fill="none" stroke="#1a1a1a" stroke-width="2.3"/>
<line x1="455.2" y1="654.8" x2="455.2" y2="657.3" stroke="#1a1a1a" stroke-width="2"/>
<line x1="390.2" y1="654.8" x2="390.2" y2="659.8" stroke="#1a1a1a" stroke-width="2"/>
<text x="374.68" y="678.15" font-size="18.4" font-weight="bold" textLength="30.71" lengthAdjust="spacingAndGlyphs" >160</text>
<line x1="325.3" y1="654.8" x2="325.3" y2="657.3" stroke="#1a1a1a" stroke-width="2"/>
<line x1="260.3" y1="654.8" x2="260.3" y2="659.8" stroke="#1a1a1a" stroke-width="2"/>
<text x="244.75" y="678.15" font-size="18.4" font-weight="bold" textLength="30.46" lengthAdjust="spacingAndGlyphs" >165</text>
<line x1="195.3" y1="654.8" x2="195.3" y2="657.3" stroke="#1a1a1a" stroke-width="2"/>
<line x1="130.4" y1="654.8" x2="130.4" y2="659.8" stroke="#1a1a1a" stroke-width="2"/>
<text x="114.80" y="678.15" font-size="18.4" font-weight="bold" textLength="30.71" lengthAdjust="spacingAndGlyphs" >170</text>
<line x1="65.4" y1="654.8" x2="65.4" y2="657.3" stroke="#1a1a1a" stroke-width="2"/>
<text x="2.11" y="388.10" font-size="36.6" font-weight="bold" textLength="43.88" lengthAdjust="spacingAndGlyphs" >(c)</text>
<text x="149.30" y="714.10" font-size="24.0" font-weight="bold" textLength="221.59" lengthAdjust="spacingAndGlyphs" >Binding Energy(eV)</text>
<text transform="translate(25.50,592.30) rotate(-90)" x="-1.61" y="0" font-size="23.5" font-weight="bold" textLength="191.01" lengthAdjust="spacingAndGlyphs">Intensitivity(a.u.)</text>
<line x1="80" y1="392.6" x2="121" y2="392.6" stroke="#5e9c86" stroke-width="2"/>
<text x="125.92" y="398.20" font-size="17.0" font-weight="bold" textLength="35.06" lengthAdjust="spacingAndGlyphs" >S 2p</text>
<text x="161.99" y="403.00" font-size="11.4" font-weight="bold" textLength="15.66" lengthAdjust="spacingAndGlyphs" >1/2</text>
<line x1="80" y1="418.6" x2="121" y2="418.6" stroke="#a593c8" stroke-width="2"/>
<text x="125.92" y="423.80" font-size="17.0" font-weight="bold" textLength="35.06" lengthAdjust="spacingAndGlyphs" >S 2p</text>
<text x="162.45" y="428.40" font-size="11.4" font-weight="bold" textLength="15.19" lengthAdjust="spacingAndGlyphs" >3/2</text>
<path d="M52.5,556.5 L53.0,552.8 L53.5,550.6 L54.0,549.5 L54.5,549.1 L55.0,549.0 L55.5,551.4 L56.0,557.5 L56.5,566.0 L57.0,575.3 L57.5,584.0 L58.0,590.6 L58.5,594.1 L59.0,596.7 L59.5,599.0 L60.0,600.8 L60.5,601.8 L61.0,601.5 L61.5,596.5 L62.0,588.4 L62.5,580.0 L63.0,574.2 L63.5,573.6 L64.0,579.2 L64.5,588.2 L65.0,597.6 L65.5,604.1 L66.0,605.3 L66.5,603.8 L67.0,601.0 L67.5,597.4 L68.0,593.1 L68.5,588.7 L69.0,584.4 L69.5,580.8 L70.0,578.0 L70.5,576.5 L71.0,576.5 L71.5,576.8 L72.0,577.2 L72.5,577.7 L73.0,578.0 L73.5,577.9 L74.0,577.2 L74.5,576.1 L75.0,574.6 L75.5,572.9 L76.0,571.2 L76.5,569.5 L77.0,568.1 L77.5,567.0 L78.0,566.5 L78.5,566.7 L79.0,568.6 L79.5,571.5 L80.0,574.9 L80.5,578.1 L81.0,580.5 L81.5,581.4 L82.0,581.0 L82.5,579.8 L83.0,578.0 L83.5,575.8 L84.0,573.5 L84.5,571.2 L85.0,569.0 L85.5,567.2 L86.0,566.0 L86.5,565.6 L87.0,566.8 L87.5,570.0 L88.0,574.5 L88.5,579.4 L89.0,584.2 L89.5,588.1 L90.0,590.5 L90.5,592.6 L91.0,594.6 L91.5,596.5 L92.0,598.3 L92.5,599.9 L93.0,601.3 L93.5,602.4 L94.0,603.2 L94.5,603.6 L95.0,603.7 L95.5,603.4 L96.0,602.8 L96.5,601.9 L97.0,600.9 L97.5,599.8 L98.0,598.6 L98.5,597.4 L99.0,596.2 L99.5,595.1 L100.0,594.2 L100.5,593.5 L101.0,593.1 L101.5,593.1 L102.0,596.2 L102.5,602.5 L103.0,610.4 L103.5,618.5 L104.0,625.3 L104.5,629.1 L105.0,628.9 L105.5,625.4 L106.0,619.8 L106.5,613.0 L107.0,606.2 L107.5,600.3 L108.0,596.3 L108.5,593.9 L109.0,591.9 L109.5,590.2 L110.0,588.7 L110.5,587.2 L111.0,585.8 L111.5,584.1 L112.0,582.3 L112.5,579.9 L113.0,576.5 L113.5,572.7 L114.0,568.9 L114.5,565.6 L115.0,563.2 L115.5,562.3 L116.0,565.9 L116.5,574.5 L117.0,584.9 L117.5,593.5 L118.0,597.1 L118.5,596.1 L119.0,593.3 L119.5,589.2 L120.0,584.3 L120.5,578.9 L121.0,573.4 L121.5,568.5 L122.0,564.4 L122.5,561.6 L123.0,560.6 L123.5,561.2 L124.0,562.8 L124.5,565.1 L125.0,567.9 L125.5,571.0 L126.0,574.1 L126.5,576.9 L127.0,579.2 L127.5,580.8 L128.0,581.4 L128.5,580.6 L129.0,578.3 L129.5,574.9 L130.0,570.8 L130.5,566.4 L131.0,562.0 L131.5,558.1 L132.0,554.9 L132.5,552.9 L133.0,552.5 L133.5,558.7 L134.0,570.4 L134.5,583.3 L135.0,593.3 L135.5,596.2 L136.0,593.8 L136.5,588.5 L137.0,581.1 L137.5,572.3 L138.0,562.9 L138.5,553.7 L139.0,545.4 L139.5,538.7 L140.0,534.4 L140.5,533.3 L141.0,534.1 L141.5,535.6 L142.0,537.8 L142.5,540.1 L143.0,542.5 L143.5,544.5 L144.0,546.0 L144.5,546.5 L145.0,546.5 L145.5,546.4 L146.0,546.3 L146.5,546.2 L147.0,546.1 L147.5,545.9 L148.0,545.7 L148.5,545.4 L149.0,545.2 L149.5,544.9 L150.0,544.1 L150.5,542.6 L151.0,540.5 L151.5,538.1 L152.0,535.6 L152.5,533.2 L153.0,531.2 L153.5,529.7 L154.0,529.0 L154.5,529.6 L155.0,531.7 L155.5,534.8 L156.0,538.3 L156.5,541.5 L157.0,543.9 L157.5,544.8 L158.0,544.1 L158.5,542.2 L159.0,539.4 L159.5,536.0 L160.0,532.4 L160.5,528.8 L161.0,525.5 L161.5,522.8 L162.0,521.2 L162.5,520.7 L163.0,522.2 L163.5,525.2 L164.0,529.3 L164.5,534.0 L165.0,538.6 L165.5,542.7 L166.0,545.7 L166.5,547.2 L167.0,546.6 L167.5,544.4 L168.0,541.1 L168.5,537.2 L169.0,533.2 L169.5,529.6 L170.0,526.8 L170.5,524.3 L171.0,521.8 L171.5,519.2 L172.0,516.7 L172.5,514.4 L173.0,512.3 L173.5,510.6 L174.0,509.3 L174.5,508.5 L175.0,508.4 L175.5,510.9 L176.0,515.8 L176.5,521.1 L177.0,525.3 L177.5,526.5 L178.0,526.0 L178.5,525.1 L179.0,524.2 L179.5,523.4 L180.0,523.2 L180.5,524.7 L181.0,527.9 L181.5,532.2 L182.0,536.9 L182.5,541.7 L183.0,545.7 L183.5,548.6 L184.0,549.7 L184.5,549.4 L185.0,548.5 L185.5,547.6 L186.0,546.7 L186.5,546.4 L187.0,548.8 L187.5,554.5 L188.0,561.5 L188.5,567.8 L189.0,571.3 L189.5,572.7 L190.0,574.0 L190.5,575.1 L191.0,576.0 L191.5,576.8 L192.0,577.4 L192.5,577.7 L193.0,577.9 L193.5,576.8 L194.0,573.3 L194.5,568.6 L195.0,564.5 L195.5,562.3 L196.0,564.5 L196.5,572.2 L197.0,582.2 L197.5,591.3 L198.0,596.0 L198.5,595.7 L199.0,593.7 L199.5,590.6 L200.0,586.8 L200.5,582.5 L201.0,578.2 L201.5,574.1 L202.0,570.7 L202.5,568.3 L203.0,567.1 L203.5,567.5 L204.0,569.0 L204.5,571.2 L205.0,573.8 L205.5,576.3 L206.0,578.4 L206.5,579.8 L207.0,580.9 L207.5,581.9 L208.0,582.9 L208.5,583.8 L209.0,584.7 L209.5,585.6 L210.0,586.3 L210.5,587.1 L211.0,587.7 L211.5,588.3 L212.0,588.7 L212.5,589.1 L213.0,589.3 L213.5,589.5 L214.0,589.3 L214.5,587.7 L215.0,584.4 L215.5,580.0 L216.0,574.7 L216.5,568.9 L217.0,562.9 L217.5,557.1 L218.0,551.8 L218.5,547.4 L219.0,544.1 L219.5,542.5 L220.0,542.6 L220.5,544.2 L221.0,546.8 L221.5,550.1 L222.0,553.5 L222.5,556.8 L223.0,559.4 L223.5,561.0 L224.0,561.3 L224.5,561.1 L225.0,560.8 L225.5,560.5 L226.0,560.1 L226.5,559.8 L227.0,559.7 L227.5,560.5 L228.0,563.4 L228.5,567.9 L229.0,573.6 L229.5,580.0 L230.0,586.4 L230.5,592.4 L231.0,597.5 L231.5,601.1 L232.0,602.7 L232.5,601.3 L233.0,596.1 L233.5,588.7 L234.0,580.4 L234.5,573.0 L235.0,567.8 L235.5,566.3 L236.0,567.0 L236.5,568.6 L237.0,570.6 L237.5,572.9 L238.0,575.3 L238.5,577.3 L239.0,578.9 L239.5,579.6 L240.0,579.3 L240.5,578.0 L241.0,576.0 L241.5,573.4 L242.0,570.4 L242.5,567.0 L243.0,563.6 L243.5,560.1 L244.0,556.9 L244.5,554.0 L245.0,551.6 L245.5,549.9 L246.0,549.0 L246.5,549.2 L247.0,550.9 L247.5,553.9 L248.0,558.0 L248.5,562.8 L249.0,568.1 L249.5,573.8 L250.0,579.4 L250.5,584.7 L251.0,589.5 L251.5,593.6 L252.0,596.6 L252.5,598.3 L253.0,598.4 L253.5,596.1 L254.0,592.1 L254.5,587.4 L255.0,582.8 L255.5,577.7 L256.0,571.2 L256.5,564.1 L257.0,557.0 L257.5,550.8 L258.0,546.0 L258.5,543.4 L259.0,543.4 L259.5,544.5 L260.0,546.3 L260.5,548.7 L261.0,551.4 L261.5,554.3 L262.0,557.5 L262.5,562.5 L263.0,568.0 L263.5,572.7 L264.0,575.1 L264.5,574.7 L265.0,572.8 L265.5,570.0 L266.0,566.6 L266.5,563.0 L267.0,559.7 L267.5,556.7 L268.0,553.5 L268.5,549.9 L269.0,546.1 L269.5,542.1 L270.0,538.2 L270.5,534.4 L271.0,530.7 L271.5,527.4 L272.0,524.5 L272.5,522.1 L273.0,520.3 L273.5,519.2 L274.0,518.9 L274.5,519.5 L275.0,520.7 L275.5,522.2 L276.0,524.0 L276.5,525.6 L277.0,527.0 L277.5,527.8 L278.0,527.9 L278.5,527.4 L279.0,526.5 L279.5,525.4 L280.0,524.4 L280.5,523.7 L281.0,523.5 L281.5,524.6 L282.0,526.7 L282.5,529.3 L283.0,531.8 L283.5,533.6 L284.0,534.1 L284.5,532.7 L285.0,529.8 L285.5,525.6 L286.0,520.3 L286.5,514.5 L287.0,508.4 L287.5,502.3 L288.0,496.6 L288.5,491.5 L289.0,487.5 L289.5,484.9 L290.0,483.9 L290.5,485.2 L291.0,488.6 L291.5,493.3 L292.0,498.4 L292.5,503.2 L293.0,506.7 L293.5,509.5 L294.0,512.3 L294.5,514.5 L295.0,515.8 L295.5,514.8 L296.0,508.9 L296.5,499.1 L297.0,487.1 L297.5,474.6 L298.0,463.0 L298.5,454.0 L299.0,449.2 L299.5,448.2 L300.0,447.3 L300.5,446.6 L301.0,445.9 L301.5,445.4 L302.0,445.0 L302.5,444.6 L303.0,444.4 L303.5,444.3 L304.0,444.5 L304.5,445.7 L305.0,447.7 L305.5,450.4 L306.0,453.6 L306.5,457.0 L307.0,460.6 L307.5,464.0 L308.0,467.2 L308.5,469.9 L309.0,471.9 L309.5,473.1 L310.0,473.2 L310.5,471.9 L311.0,469.4 L311.5,465.9 L312.0,461.6 L312.5,456.6 L313.0,451.1 L313.5,445.5 L314.0,439.8 L314.5,434.3 L315.0,429.1 L315.5,424.4 L316.0,420.6 L316.5,417.6 L317.0,415.9 L317.5,415.4 L318.0,416.0 L318.5,417.3 L319.0,418.8 L319.5,420.2 L320.0,421.2 L320.5,421.5 L321.0,420.8 L321.5,419.3 L322.0,417.1 L322.5,414.4 L323.0,411.4 L323.5,408.2 L324.0,405.1 L324.5,402.1 L325.0,399.5 L325.5,397.5 L326.0,396.1 L326.5,395.6 L327.0,396.1 L327.5,397.4 L328.0,399.4 L328.5,401.7 L329.0,404.3 L329.5,406.8 L330.0,409.1 L330.5,411.0 L331.0,412.2 L331.5,412.9 L332.0,413.3 L332.5,413.7 L333.0,414.0 L333.5,414.3 L334.0,414.7 L334.5,415.2 L335.0,415.8 L335.5,416.5 L336.0,417.3 L336.5,418.2 L337.0,419.2 L337.5,420.3 L338.0,421.5 L338.5,422.7 L339.0,424.1 L339.5,425.5 L340.0,427.0 L340.5,428.6 L341.0,430.4 L341.5,432.6 L342.0,434.9 L342.5,437.4 L343.0,440.1 L343.5,442.9 L344.0,445.7 L344.5,448.6 L345.0,451.6 L345.5,455.0 L346.0,458.9 L346.5,463.2 L347.0,467.9 L347.5,472.7 L348.0,477.7 L348.5,482.8 L349.0,487.8 L349.5,492.8 L350.0,497.5 L350.5,502.0 L351.0,506.1 L351.5,509.8 L352.0,513.0 L352.5,515.6 L353.0,517.5 L353.5,518.6 L354.0,518.9 L354.5,518.1 L355.0,516.4 L355.5,514.0 L356.0,511.0 L356.5,507.6 L357.0,504.1 L357.5,500.6 L358.0,497.3 L358.5,494.4 L359.0,492.1 L359.5,490.6 L360.0,490.0 L360.5,491.3 L361.0,494.8 L361.5,500.0 L362.0,506.5 L362.5,513.9 L363.0,521.8 L363.5,536.8 L364.0,551.6 L364.5,554.7 L365.0,552.2 L365.5,548.0 L366.0,543.3 L366.5,539.2 L367.0,536.9 L367.5,536.5 L368.0,536.3 L368.5,536.0 L369.0,535.8 L369.5,535.7 L370.0,535.5 L370.5,535.4 L371.0,535.4 L371.5,535.7 L372.0,538.8 L372.5,544.3 L373.0,551.2 L373.5,558.1 L374.0,564.2 L374.5,568.1 L375.0,569.1 L375.5,569.5 L376.0,569.8 L376.5,570.0 L377.0,570.2 L377.5,570.3 L378.0,570.4 L378.5,570.3 L379.0,569.5 L379.5,568.0 L380.0,566.1 L380.5,564.1 L381.0,562.3 L381.5,561.0 L382.0,560.4 L382.5,560.1 L383.0,559.7 L383.5,559.5 L384.0,559.3 L384.5,559.2 L385.0,560.1 L385.5,563.0 L386.0,566.9 L386.5,570.8 L387.0,573.7 L387.5,574.6 L388.0,573.9 L388.5,572.3 L389.0,570.0 L389.5,567.3 L390.0,564.3 L390.5,561.2 L391.0,558.2 L391.5,555.6 L392.0,553.4 L392.5,552.0 L393.0,551.5 L393.5,553.3 L394.0,557.6 L394.5,563.1 L395.0,568.3 L395.5,571.8 L396.0,572.4 L396.5,571.1 L397.0,568.9 L397.5,566.5 L398.0,564.5 L398.5,563.4 L399.0,563.6 L399.5,564.3 L400.0,565.5 L400.5,567.1 L401.0,569.0 L401.5,571.1 L402.0,573.2 L402.5,575.4 L403.0,577.5 L403.5,579.4 L404.0,581.0 L404.5,582.4 L405.0,583.9 L405.5,585.4 L406.0,586.9 L406.5,588.4 L407.0,589.8 L407.5,590.9 L408.0,591.9 L408.5,592.5 L409.0,592.8 L409.5,592.7 L410.0,592.5 L410.5,592.1 L411.0,591.6 L411.5,589.4 L412.0,580.5 L412.5,567.5 L413.0,553.9 L413.5,543.2 L414.0,538.9 L414.5,542.7 L415.0,552.2 L415.5,564.1 L416.0,575.4 L416.5,582.9 L417.0,584.2 L417.5,582.7 L418.0,580.0 L418.5,577.0 L419.0,574.5 L419.5,573.2 L420.0,574.7 L420.5,579.3 L421.0,584.6 L421.5,588.2 L422.0,587.7 L422.5,583.0 L423.0,576.1 L423.5,568.8 L424.0,563.0 L424.5,560.6 L425.0,561.8 L425.5,565.0 L426.0,569.7 L426.5,575.4 L427.0,581.5 L427.5,587.6 L428.0,593.2 L428.5,597.6 L429.0,600.4 L429.5,601.1 L430.0,597.0 L430.5,588.7 L431.0,578.0 L431.5,566.7 L432.0,556.7 L432.5,549.9 L433.0,548.0 L433.5,548.5 L434.0,549.6 L434.5,551.2 L435.0,553.0 L435.5,554.9 L436.0,556.7 L436.5,558.4 L437.0,559.7 L437.5,560.5 L438.0,560.5 L438.5,559.9 L439.0,558.7 L439.5,557.1 L440.0,555.4 L440.5,553.7 L441.0,552.2 L441.5,551.2 L442.0,550.8 L442.5,553.3 L443.0,559.8 L443.5,568.7 L444.0,578.4 L444.5,587.3 L445.0,593.8 L445.5,596.3 L446.0,595.8 L446.5,594.3 L447.0,591.9 L447.5,588.9 L448.0,585.2 L448.5,581.0 L449.0,576.4 L449.5,571.6 L450.0,566.7 L450.5,561.7 L451.0,556.9 L451.5,552.3 L452.0,548.0 L452.5,544.2 L453.0,541.0 L453.5,538.5 L454.0,536.9 L454.5,536.1 L455.0,536.7 L455.5,538.9 L456.0,542.5 L456.5,547.2 L457.0,552.7 L457.5,558.7 L458.0,564.8 L458.5,570.8 L459.0,576.4 L459.5,581.3 L460.0,585.2 L460.5,587.7 L461.0,588.6 L461.5,587.9 L462.0,586.1 L462.5,583.4 L463.0,579.8 L463.5,575.8 L464.0,571.3 L464.5,566.8 L465.0,562.3 L465.5,558.1 L466.0,554.4 L466.5,551.3 L467.0,548.9 L467.5,546.9 L468.0,545.0" fill="none" stroke="#454545" stroke-width="1.8" stroke-linejoin="round" stroke-linecap="round"/>
<path d="M52.4,590.5 L52.9,590.5 L53.4,590.4 L53.9,590.4 L54.4,590.3 L54.9,590.3 L55.4,590.2 L55.9,590.2 L56.4,590.1 L56.9,590.1 L57.4,590.0 L57.9,590.0 L58.4,589.9 L58.9,589.9 L59.4,589.8 L59.9,589.8 L60.4,589.7 L60.9,589.7 L61.4,589.6 L61.9,589.6 L62.4,589.5 L62.9,589.5 L63.4,589.4 L63.9,589.4 L64.4,589.3 L64.9,589.3 L65.4,589.2 L65.9,589.2 L66.4,589.1 L66.9,589.1 L67.4,589.0 L67.9,589.0 L68.4,588.9 L68.9,588.9 L69.4,588.8 L69.9,588.8 L70.4,588.7 L70.9,588.7 L71.4,588.6 L71.9,588.6 L72.4,588.5 L72.9,588.5 L73.4,588.4 L73.9,588.4 L74.4,588.3 L74.9,588.3 L75.4,588.2 L75.9,588.2 L76.4,588.1 L76.9,588.1 L77.4,588.0 L77.9,588.0 L78.4,587.9 L78.9,587.9 L79.4,587.8 L79.9,587.8 L80.4,587.7 L80.9,587.7 L81.4,587.6 L81.9,587.6 L82.4,587.5 L82.9,587.5 L83.4,587.4 L83.9,587.4 L84.4,587.3 L84.9,587.3 L85.4,587.2 L85.9,587.2 L86.4,587.1 L86.9,587.1 L87.4,587.0 L87.9,587.0 L88.4,586.9 L88.9,586.9 L89.4,586.8 L89.9,586.7 L90.4,586.7 L90.9,586.6 L91.4,586.6 L91.9,586.5 L92.4,586.5 L92.9,586.4 L93.4,586.4 L93.9,586.3 L94.4,586.3 L94.9,586.2 L95.4,586.2 L95.9,586.1 L96.4,586.1 L96.9,586.0 L97.4,586.0 L97.9,585.9 L98.4,585.9 L98.9,585.8 L99.4,585.8 L99.9,585.7 L100.4,585.7 L100.9,585.6 L101.4,585.6 L101.9,585.5 L102.4,585.4 L102.9,585.4 L103.4,585.3 L103.9,585.3 L104.4,585.2 L104.9,585.2 L105.4,585.1 L105.9,585.0 L106.4,585.0 L106.9,584.9 L107.4,584.8 L107.9,584.8 L108.4,584.7 L108.9,584.6 L109.4,584.6 L109.9,584.5 L110.4,584.4 L110.9,584.4 L111.4,584.3 L111.9,584.2 L112.4,584.1 L112.9,584.0 L113.4,583.9 L113.9,583.8 L114.4,583.7 L114.9,583.6 L115.4,583.5 L115.9,583.4 L116.4,583.3 L116.9,583.2 L117.4,583.1 L117.9,582.9 L118.4,582.8 L118.9,582.6 L119.4,582.5 L119.9,582.3 L120.4,582.2 L120.9,582.0 L121.4,581.8 L121.9,581.6 L122.4,581.4 L122.9,581.2 L123.4,581.0 L123.9,580.8 L124.4,580.5 L124.9,580.3 L125.4,580.0 L125.9,579.7 L126.4,579.4 L126.9,579.1 L127.4,578.8 L127.9,578.5 L128.4,578.1 L128.9,577.7 L129.4,577.4 L129.9,577.0 L130.4,576.5 L130.9,576.1 L131.4,575.7 L131.9,575.2 L132.4,574.7 L132.9,574.2 L133.4,573.7 L133.9,573.1 L134.4,572.6 L134.9,572.0 L135.4,571.4 L135.9,570.8 L136.4,570.1 L136.9,569.4 L137.4,568.8 L137.9,568.1 L138.4,567.3 L138.9,566.6 L139.4,565.8 L139.9,565.0 L140.4,564.2 L140.9,563.4 L141.4,562.6 L141.9,561.7 L142.4,560.9 L142.9,560.0 L143.4,559.1 L143.9,558.2 L144.4,557.3 L144.9,556.3 L145.4,555.4 L145.9,554.4 L146.4,553.5 L146.9,552.5 L147.4,551.5 L147.9,550.5 L148.4,549.6 L148.9,548.6 L149.4,547.6 L149.9,546.6 L150.4,545.7 L150.9,544.7 L151.4,543.7 L151.9,542.8 L152.4,541.9 L152.9,540.9 L153.4,540.0 L153.9,539.2 L154.4,538.3 L154.9,537.4 L155.4,536.6 L155.9,535.8 L156.4,535.0 L156.9,534.3 L157.4,533.6 L157.9,532.9 L158.4,532.2 L158.9,531.6 L159.4,531.0 L159.9,530.5 L160.4,530.0 L160.9,529.5 L161.4,529.1 L161.9,528.7 L162.4,528.3 L162.9,528.0 L163.4,527.8 L163.9,527.6 L164.4,527.4 L164.9,527.3 L165.4,527.2 L165.9,527.2 L166.4,527.2 L166.9,527.2 L167.4,527.3 L167.9,527.5 L168.4,527.6 L168.9,527.9 L169.4,528.1 L169.9,528.5 L170.4,528.8 L170.9,529.2 L171.4,529.6 L171.9,530.1 L172.4,530.6 L172.9,531.1 L173.4,531.7 L173.9,532.3 L174.4,533.0 L174.9,533.6 L175.4,534.3 L175.9,535.0 L176.4,535.8 L176.9,536.5 L177.4,537.3 L177.9,538.1 L178.4,538.9 L178.9,539.7 L179.4,540.6 L179.9,541.4 L180.4,542.3 L180.9,543.2 L181.4,544.0 L181.9,544.9 L182.4,545.8 L182.9,546.7 L183.4,547.5 L183.9,548.4 L184.4,549.3 L184.9,550.1 L185.4,551.0 L185.9,551.9 L186.4,552.7 L186.9,553.5 L187.4,554.3 L187.9,555.1 L188.4,555.9 L188.9,556.7 L189.4,557.5 L189.9,558.2 L190.4,558.9 L190.9,559.6 L191.4,560.3 L191.9,561.0 L192.4,561.6 L192.9,562.3 L193.4,562.9 L193.9,563.5 L194.4,564.1 L194.9,564.6 L195.4,565.1 L195.9,565.6 L196.4,566.1 L196.9,566.6 L197.4,567.1 L197.9,567.5 L198.4,567.9 L198.9,568.3 L199.4,568.7 L199.9,569.0 L200.4,569.4 L200.9,569.7 L201.4,570.0 L201.9,570.3 L202.4,570.6 L202.9,570.8 L203.4,571.1 L203.9,571.3 L204.4,571.5 L204.9,571.7 L205.4,571.9 L205.9,572.1 L206.4,572.2 L206.9,572.4 L207.4,572.5 L207.9,572.6 L208.4,572.7 L208.9,572.8 L209.4,572.9 L209.9,573.0 L210.4,573.1 L210.9,573.2 L211.4,573.2 L211.9,573.3 L212.4,573.3 L212.9,573.4 L213.4,573.4 L213.9,573.4 L214.4,573.5 L214.9,573.5 L215.4,573.5 L215.9,573.5 L216.4,573.5 L216.9,573.5 L217.4,573.5 L217.9,573.5 L218.4,573.5 L218.9,573.5 L219.4,573.4 L219.9,573.4 L220.4,573.4 L220.9,573.4 L221.4,573.3 L221.9,573.3 L222.4,573.3 L222.9,573.3 L223.4,573.2 L223.9,573.2 L224.4,573.1 L224.9,573.1 L225.4,573.1 L225.9,573.0 L226.4,573.0 L226.9,572.9 L227.4,572.9 L227.9,572.9 L228.4,572.8 L228.9,572.8 L229.4,572.7 L229.9,572.7 L230.4,572.6 L230.9,572.6 L231.4,572.5 L231.9,572.5 L232.4,572.5 L232.9,572.4 L233.4,572.4 L233.9,572.3 L234.4,572.3 L234.9,572.2 L235.4,572.2 L235.9,572.1 L236.4,572.1 L236.9,572.0 L237.4,572.0 L237.9,571.9 L238.4,571.9 L238.9,571.8 L239.4,571.8 L239.9,571.7 L240.4,571.7 L240.9,571.6 L241.4,571.6 L241.9,571.5 L242.4,571.5 L242.9,571.4 L243.4,571.4 L243.9,571.3 L244.4,571.3 L244.9,571.2 L245.4,571.2 L245.9,571.1 L246.4,571.1 L246.9,571.0 L247.4,571.0 L247.9,570.9 L248.4,570.9 L248.9,570.8 L249.4,570.8 L249.9,570.7 L250.4,570.7 L250.9,570.6 L251.4,570.6 L251.9,570.5 L252.4,570.5 L252.9,570.4 L253.4,570.4 L253.9,570.3 L254.4,570.3 L254.9,570.2 L255.4,570.2 L255.9,570.1 L256.4,570.1 L256.9,570.0 L257.4,570.0 L257.9,569.9 L258.4,569.9 L258.9,569.8 L259.4,569.8 L259.9,569.7 L260.4,569.7 L260.9,569.6 L261.4,569.6 L261.9,569.5 L262.4,569.5 L262.9,569.4 L263.4,569.4 L263.9,569.3 L264.4,569.3 L264.9,569.2 L265.4,569.2 L265.9,569.1 L266.4,569.1 L266.9,569.0 L267.4,569.0 L267.9,568.9 L268.4,568.9 L268.9,568.8 L269.4,568.8 L269.9,568.7 L270.4,568.7 L270.9,568.6 L271.4,568.6 L271.9,568.5 L272.4,568.5 L272.9,568.4 L273.4,568.4 L273.9,568.3 L274.4,568.3 L274.9,568.2 L275.4,568.2 L275.9,568.1 L276.4,568.1 L276.9,568.0 L277.4,568.0 L277.9,567.9 L278.4,567.9 L278.9,567.8 L279.4,567.8 L279.9,567.7 L280.4,567.7 L280.9,567.6 L281.4,567.6 L281.9,567.5 L282.4,567.5 L282.9,567.4 L283.4,567.4 L283.9,567.3 L284.4,567.3 L284.9,567.2 L285.4,567.2 L285.9,567.1 L286.4,567.1 L286.9,567.0 L287.4,567.0 L287.9,566.9 L288.4,566.9 L288.9,566.8 L289.4,566.8 L289.9,566.7 L290.4,566.7 L290.9,566.6 L291.4,566.6 L291.9,566.5 L292.4,566.5 L292.9,566.4 L293.4,566.4 L293.9,566.3 L294.4,566.3 L294.9,566.2 L295.4,566.2 L295.9,566.1 L296.4,566.1 L296.9,566.0 L297.4,566.0 L297.9,565.9 L298.4,565.9 L298.9,565.8 L299.4,565.8 L299.9,565.7 L300.4,565.7 L300.9,565.6 L301.4,565.6 L301.9,565.5 L302.4,565.5 L302.9,565.4 L303.4,565.4 L303.9,565.3 L304.4,565.3 L304.9,565.2 L305.4,565.2 L305.9,565.1 L306.4,565.1 L306.9,565.0 L307.4,565.0 L307.9,564.9 L308.4,564.9 L308.9,564.8 L309.4,564.8 L309.9,564.7 L310.4,564.7 L310.9,564.6 L311.4,564.6 L311.9,564.5 L312.4,564.5 L312.9,564.4 L313.4,564.4 L313.9,564.3 L314.4,564.3 L314.9,564.2 L315.4,564.2 L315.9,564.1 L316.4,564.1 L316.9,564.0 L317.4,564.0 L317.9,563.9 L318.4,563.9 L318.9,563.8 L319.4,563.8 L319.9,563.7 L320.4,563.7 L320.9,563.6 L321.4,563.6 L321.9,563.5 L322.4,563.5 L322.9,563.4 L323.4,563.4 L323.9,563.3 L324.4,563.3 L324.9,563.2 L325.4,563.2 L325.9,563.1 L326.4,563.1 L326.9,563.0 L327.4,563.0 L327.9,562.9 L328.4,562.9 L328.9,562.8 L329.4,562.8 L329.9,562.7 L330.4,562.7 L330.9,562.6 L331.4,562.6 L331.9,562.5 L332.4,562.5 L332.9,562.4 L333.4,562.4 L333.9,562.3 L334.4,562.3 L334.9,562.2 L335.4,562.2 L335.9,562.1 L336.4,562.1 L336.9,562.0 L337.4,562.0 L337.9,561.9 L338.4,561.9 L338.9,561.8 L339.4,561.8 L339.9,561.7 L340.4,561.7 L340.9,561.6 L341.4,561.6 L341.9,561.5 L342.4,561.5 L342.9,561.4 L343.4,561.4 L343.9,561.3 L344.4,561.3 L344.9,561.2 L345.4,561.2 L345.9,561.1 L346.4,561.1 L346.9,561.0 L347.4,561.0 L347.9,560.9 L348.4,560.9 L348.9,560.8 L349.4,560.8 L349.9,560.7 L350.4,560.7 L350.9,560.6 L351.4,560.6 L351.9,560.5 L352.4,560.5 L352.9,560.4 L353.4,560.3 L353.9,560.3 L354.4,560.2 L354.9,560.2 L355.4,560.1 L355.9,560.1 L356.4,560.0 L356.9,560.0 L357.4,559.9 L357.9,559.9 L358.4,559.8 L358.9,559.8 L359.4,559.7 L359.9,559.7 L360.4,559.6 L360.9,559.6 L361.4,559.5 L361.9,559.5 L362.4,559.4 L362.9,559.4 L363.4,559.3 L363.9,559.3 L364.4,559.2 L364.9,559.2 L365.4,559.1 L365.9,559.1 L366.4,559.0 L366.9,559.0 L367.4,558.9 L367.9,558.9 L368.4,558.8 L368.9,558.8 L369.4,558.7 L369.9,558.7 L370.4,558.6 L370.9,558.6 L371.4,558.5 L371.9,558.5 L372.4,558.4 L372.9,558.4 L373.4,558.3 L373.9,558.3 L374.4,558.2 L374.9,558.2 L375.4,558.1 L375.9,558.1 L376.4,558.0 L376.9,558.0 L377.4,557.9 L377.9,557.9 L378.4,557.8 L378.9,557.8 L379.4,557.7 L379.9,557.7 L380.4,557.6 L380.9,557.6 L381.4,557.5 L381.9,557.5 L382.4,557.4 L382.9,557.4 L383.4,557.3 L383.9,557.3 L384.4,557.2 L384.9,557.2 L385.4,557.1 L385.9,557.1 L386.4,557.0 L386.9,557.0 L387.4,556.9 L387.9,556.9 L388.4,556.8 L388.9,556.8 L389.4,556.7 L389.9,556.7 L390.4,556.6 L390.9,556.6 L391.4,556.5 L391.9,556.5 L392.4,556.4 L392.9,556.4 L393.4,556.3 L393.9,556.3" fill="none" stroke="#4aa07e" stroke-width="1.7" stroke-linejoin="round" stroke-linecap="round"/>
<path d="M52.4,590.3 L52.9,590.3 L53.4,590.2 L53.9,590.2 L54.4,590.1 L54.9,590.1 L55.4,590.0 L55.9,590.0 L56.4,589.9 L56.9,589.9 L57.4,589.8 L57.9,589.8 L58.4,589.7 L58.9,589.7 L59.4,589.6 L59.9,589.6 L60.4,589.5 L60.9,589.5 L61.4,589.4 L61.9,589.4 L62.4,589.3 L62.9,589.3 L63.4,589.2 L63.9,589.2 L64.4,589.1 L64.9,589.1 L65.4,589.0 L65.9,589.0 L66.4,588.9 L66.9,588.9 L67.4,588.8 L67.9,588.8 L68.4,588.7 L68.9,588.7 L69.4,588.6 L69.9,588.6 L70.4,588.5 L70.9,588.5 L71.4,588.4 L71.9,588.4 L72.4,588.3 L72.9,588.3 L73.4,588.2 L73.9,588.2 L74.4,588.1 L74.9,588.1 L75.4,588.0 L75.9,588.0 L76.4,587.9 L76.9,587.8 L77.4,587.8 L77.9,587.7 L78.4,587.7 L78.9,587.6 L79.4,587.6 L79.9,587.5 L80.4,587.5 L80.9,587.4 L81.4,587.4 L81.9,587.3 L82.4,587.3 L82.9,587.2 L83.4,587.2 L83.9,587.1 L84.4,587.1 L84.9,587.0 L85.4,587.0 L85.9,586.9 L86.4,586.9 L86.9,586.8 L87.4,586.8 L87.9,586.7 L88.4,586.7 L88.9,586.6 L89.4,586.6 L89.9,586.5 L90.4,586.5 L90.9,586.4 L91.4,586.4 L91.9,586.3 L92.4,586.3 L92.9,586.2 L93.4,586.2 L93.9,586.1 L94.4,586.1 L94.9,586.0 L95.4,586.0 L95.9,585.9 L96.4,585.9 L96.9,585.8 L97.4,585.8 L97.9,585.7 L98.4,585.7 L98.9,585.6 L99.4,585.6 L99.9,585.5 L100.4,585.4 L100.9,585.4 L101.4,585.3 L101.9,585.3 L102.4,585.2 L102.9,585.2 L103.4,585.1 L103.9,585.1 L104.4,585.0 L104.9,585.0 L105.4,584.9 L105.9,584.9 L106.4,584.8 L106.9,584.8 L107.4,584.7 L107.9,584.7 L108.4,584.6 L108.9,584.6 L109.4,584.5 L109.9,584.5 L110.4,584.4 L110.9,584.4 L111.4,584.3 L111.9,584.3 L112.4,584.2 L112.9,584.2 L113.4,584.1 L113.9,584.1 L114.4,584.0 L114.9,584.0 L115.4,583.9 L115.9,583.9 L116.4,583.8 L116.9,583.8 L117.4,583.7 L117.9,583.7 L118.4,583.6 L118.9,583.5 L119.4,583.5 L119.9,583.4 L120.4,583.4 L120.9,583.3 L121.4,583.3 L121.9,583.2 L122.4,583.2 L122.9,583.1 L123.4,583.1 L123.9,583.0 L124.4,583.0 L124.9,582.9 L125.4,582.9 L125.9,582.8 L126.4,582.8 L126.9,582.7 L127.4,582.7 L127.9,582.6 L128.4,582.6 L128.9,582.5 L129.4,582.5 L129.9,582.4 L130.4,582.4 L130.9,582.3 L131.4,582.3 L131.9,582.2 L132.4,582.2 L132.9,582.1 L133.4,582.1 L133.9,582.0 L134.4,581.9 L134.9,581.9 L135.4,581.8 L135.9,581.8 L136.4,581.7 L136.9,581.7 L137.4,581.6 L137.9,581.6 L138.4,581.5 L138.9,581.5 L139.4,581.4 L139.9,581.4 L140.4,581.3 L140.9,581.3 L141.4,581.2 L141.9,581.2 L142.4,581.1 L142.9,581.1 L143.4,581.0 L143.9,581.0 L144.4,580.9 L144.9,580.9 L145.4,580.8 L145.9,580.7 L146.4,580.7 L146.9,580.6 L147.4,580.6 L147.9,580.5 L148.4,580.5 L148.9,580.4 L149.4,580.4 L149.9,580.3 L150.4,580.3 L150.9,580.2 L151.4,580.2 L151.9,580.1 L152.4,580.1 L152.9,580.0 L153.4,580.0 L153.9,579.9 L154.4,579.9 L154.9,579.8 L155.4,579.8 L155.9,579.7 L156.4,579.6 L156.9,579.6 L157.4,579.5 L157.9,579.5 L158.4,579.4 L158.9,579.4 L159.4,579.3 L159.9,579.3 L160.4,579.2 L160.9,579.2 L161.4,579.1 L161.9,579.1 L162.4,579.0 L162.9,579.0 L163.4,578.9 L163.9,578.9 L164.4,578.8 L164.9,578.7 L165.4,578.7 L165.9,578.6 L166.4,578.6 L166.9,578.5 L167.4,578.5 L167.9,578.4 L168.4,578.4 L168.9,578.3 L169.4,578.3 L169.9,578.2 L170.4,578.2 L170.9,578.1 L171.4,578.1 L171.9,578.0 L172.4,577.9 L172.9,577.9 L173.4,577.8 L173.9,577.8 L174.4,577.7 L174.9,577.7 L175.4,577.6 L175.9,577.6 L176.4,577.5 L176.9,577.5 L177.4,577.4 L177.9,577.4 L178.4,577.3 L178.9,577.3 L179.4,577.2 L179.9,577.1 L180.4,577.1 L180.9,577.0 L181.4,577.0 L181.9,576.9 L182.4,576.9 L182.9,576.8 L183.4,576.8 L183.9,576.7 L184.4,576.7 L184.9,576.6 L185.4,576.5 L185.9,576.5 L186.4,576.4 L186.9,576.4 L187.4,576.3 L187.9,576.3 L188.4,576.2 L188.9,576.2 L189.4,576.1 L189.9,576.1 L190.4,576.0 L190.9,575.9 L191.4,575.9 L191.9,575.8 L192.4,575.8 L192.9,575.7 L193.4,575.7 L193.9,575.6 L194.4,575.6 L194.9,575.5 L195.4,575.4 L195.9,575.4 L196.4,575.3 L196.9,575.3 L197.4,575.2 L197.9,575.2 L198.4,575.1 L198.9,575.1 L199.4,575.0 L199.9,574.9 L200.4,574.9 L200.9,574.8 L201.4,574.8 L201.9,574.7 L202.4,574.7 L202.9,574.6 L203.4,574.5 L203.9,574.5 L204.4,574.4 L204.9,574.4 L205.4,574.3 L205.9,574.3 L206.4,574.2 L206.9,574.1 L207.4,574.1 L207.9,574.0 L208.4,574.0 L208.9,573.9 L209.4,573.9 L209.9,573.8 L210.4,573.7 L210.9,573.7 L211.4,573.6 L211.9,573.6 L212.4,573.5 L212.9,573.5 L213.4,573.4 L213.9,573.3 L214.4,573.3 L214.9,573.2 L215.4,573.2 L215.9,573.1 L216.4,573.0 L216.9,573.0 L217.4,572.9 L217.9,572.9 L218.4,572.8 L218.9,572.7 L219.4,572.7 L219.9,572.6 L220.4,572.5 L220.9,572.5 L221.4,572.4 L221.9,572.4 L222.4,572.3 L222.9,572.2 L223.4,572.2 L223.9,572.1 L224.4,572.0 L224.9,572.0 L225.4,571.9 L225.9,571.8 L226.4,571.8 L226.9,571.7 L227.4,571.6 L227.9,571.6 L228.4,571.5 L228.9,571.4 L229.4,571.4 L229.9,571.3 L230.4,571.2 L230.9,571.2 L231.4,571.1 L231.9,571.0 L232.4,570.9 L232.9,570.9 L233.4,570.8 L233.9,570.7 L234.4,570.6 L234.9,570.6 L235.4,570.5 L235.9,570.4 L236.4,570.3 L236.9,570.2 L237.4,570.1 L237.9,570.0 L238.4,570.0 L238.9,569.9 L239.4,569.8 L239.9,569.7 L240.4,569.6 L240.9,569.5 L241.4,569.4 L241.9,569.3 L242.4,569.2 L242.9,569.0 L243.4,568.9 L243.9,568.8 L244.4,568.7 L244.9,568.6 L245.4,568.5 L245.9,568.3 L246.4,568.2 L246.9,568.0 L247.4,567.9 L247.9,567.8 L248.4,567.6 L248.9,567.5 L249.4,567.3 L249.9,567.1 L250.4,567.0 L250.9,566.8 L251.4,566.6 L251.9,566.4 L252.4,566.2 L252.9,566.0 L253.4,565.8 L253.9,565.6 L254.4,565.4 L254.9,565.1 L255.4,564.9 L255.9,564.6 L256.4,564.4 L256.9,564.1 L257.4,563.8 L257.9,563.5 L258.4,563.2 L258.9,562.9 L259.4,562.6 L259.9,562.3 L260.4,561.9 L260.9,561.6 L261.4,561.2 L261.9,560.8 L262.4,560.4 L262.9,560.0 L263.4,559.6 L263.9,559.2 L264.4,558.7 L264.9,558.2 L265.4,557.7 L265.9,557.2 L266.4,556.7 L266.9,556.2 L267.4,555.6 L267.9,555.1 L268.4,554.5 L268.9,553.8 L269.4,553.2 L269.9,552.6 L270.4,551.9 L270.9,551.2 L271.4,550.5 L271.9,549.7 L272.4,549.0 L272.9,548.2 L273.4,547.4 L273.9,546.6 L274.4,545.7 L274.9,544.9 L275.4,544.0 L275.9,543.0 L276.4,542.1 L276.9,541.1 L277.4,540.1 L277.9,539.1 L278.4,538.0 L278.9,537.0 L279.4,535.8 L279.9,534.7 L280.4,533.6 L280.9,532.4 L281.4,531.2 L281.9,529.9 L282.4,528.7 L282.9,527.4 L283.4,526.1 L283.9,524.7 L284.4,523.4 L284.9,522.0 L285.4,520.5 L285.9,519.1 L286.4,517.6 L286.9,516.1 L287.4,514.6 L287.9,513.1 L288.4,511.5 L288.9,509.9 L289.4,508.3 L289.9,506.7 L290.4,505.0 L290.9,503.3 L291.4,501.6 L291.9,499.9 L292.4,498.2 L292.9,496.5 L293.4,494.7 L293.9,492.9 L294.4,491.1 L294.9,489.3 L295.4,487.5 L295.9,485.7 L296.4,483.8 L296.9,482.0 L297.4,480.1 L297.9,478.2 L298.4,476.4 L298.9,474.5 L299.4,472.6 L299.9,470.8 L300.4,468.9 L300.9,467.0 L301.4,465.1 L301.9,463.3 L302.4,461.4 L302.9,459.6 L303.4,457.7 L303.9,455.9 L304.4,454.1 L304.9,452.3 L305.4,450.6 L305.9,448.8 L306.4,447.1 L306.9,445.3 L307.4,443.7 L307.9,442.0 L308.4,440.4 L308.9,438.8 L309.4,437.2 L309.9,435.6 L310.4,434.1 L310.9,432.7 L311.4,431.2 L311.9,429.9 L312.4,428.5 L312.9,427.2 L313.4,425.9 L313.9,424.7 L314.4,423.6 L314.9,422.5 L315.4,421.4 L315.9,420.4 L316.4,419.4 L316.9,418.5 L317.4,417.7 L317.9,416.9 L318.4,416.2 L318.9,415.5 L319.4,414.9 L319.9,414.4 L320.4,413.9 L320.9,413.5 L321.4,413.1 L321.9,412.8 L322.4,412.6 L322.9,412.5 L323.4,412.4 L323.9,412.3 L324.4,412.4 L324.9,412.5 L325.4,412.6 L325.9,412.9 L326.4,413.1 L326.9,413.5 L327.4,413.9 L327.9,414.4 L328.4,414.9 L328.9,415.5 L329.4,416.2 L329.9,416.9 L330.4,417.7 L330.9,418.5 L331.4,419.4 L331.9,420.4 L332.4,421.3 L332.9,422.4 L333.4,423.5 L333.9,424.6 L334.4,425.8 L334.9,427.0 L335.4,428.3 L335.9,429.6 L336.4,431.0 L336.9,432.4 L337.4,433.8 L337.9,435.2 L338.4,436.7 L338.9,438.3 L339.4,439.8 L339.9,441.4 L340.4,443.0 L340.9,444.6 L341.4,446.3 L341.9,447.9 L342.4,449.6 L342.9,451.3 L343.4,453.0 L343.9,454.8 L344.4,456.5 L344.9,458.3 L345.4,460.0 L345.9,461.8 L346.4,463.5 L346.9,465.3 L347.4,467.1 L347.9,468.9 L348.4,470.6 L348.9,472.4 L349.4,474.2 L349.9,475.9 L350.4,477.7 L350.9,479.4 L351.4,481.2 L351.9,482.9 L352.4,484.6 L352.9,486.3 L353.4,488.0 L353.9,489.7 L354.4,491.3 L354.9,492.9 L355.4,494.6 L355.9,496.2 L356.4,497.8 L356.9,499.3 L357.4,500.9 L357.9,502.4 L358.4,503.9 L358.9,505.4 L359.4,506.8 L359.9,508.2 L360.4,509.6 L360.9,511.0 L361.4,512.4 L361.9,513.7 L362.4,515.0 L362.9,516.3 L363.4,517.5 L363.9,518.8 L364.4,520.0 L364.9,521.1 L365.4,522.3 L365.9,523.4 L366.4,524.5 L366.9,525.6 L367.4,526.6 L367.9,527.6 L368.4,528.6 L368.9,529.6 L369.4,530.5 L369.9,531.4 L370.4,532.3 L370.9,533.2 L371.4,534.0 L371.9,534.8 L372.4,535.6 L372.9,536.3 L373.4,537.1 L373.9,537.8 L374.4,538.5 L374.9,539.1 L375.4,539.8 L375.9,540.4 L376.4,541.0 L376.9,541.6 L377.4,542.2 L377.9,542.7 L378.4,543.2 L378.9,543.7 L379.4,544.2 L379.9,544.7 L380.4,545.1 L380.9,545.5 L381.4,545.9 L381.9,546.3 L382.4,546.7 L382.9,547.1 L383.4,547.4 L383.9,547.7 L384.4,548.1 L384.9,548.4 L385.4,548.6 L385.9,548.9 L386.4,549.2 L386.9,549.4 L387.4,549.7 L387.9,549.9 L388.4,550.1 L388.9,550.3 L389.4,550.5 L389.9,550.7 L390.4,550.9 L390.9,551.0 L391.4,551.2 L391.9,551.3 L392.4,551.5 L392.9,551.6 L393.4,551.7 L393.9,551.8 L394.4,551.9 L394.9,552.0 L395.4,552.1 L395.9,552.2 L396.4,552.3 L396.9,552.3 L397.4,552.4 L397.9,552.5 L398.4,552.5 L398.9,552.6 L399.4,552.6 L399.9,552.7 L400.4,552.7 L400.9,552.8 L401.4,552.8 L401.9,552.8 L402.4,552.8 L402.9,552.9 L403.4,552.9 L403.9,552.9 L404.4,552.9 L404.9,552.9 L405.4,552.9 L405.9,552.9 L406.4,552.9 L406.9,552.9 L407.4,552.9 L407.9,552.9 L408.4,552.9 L408.9,552.9 L409.4,552.9 L409.9,552.9 L410.4,552.9 L410.9,552.8 L411.4,552.8 L411.9,552.8 L412.4,552.8 L412.9,552.8 L413.4,552.7 L413.9,552.7 L414.4,552.7 L414.9,552.7 L415.4,552.6 L415.9,552.6 L416.4,552.6 L416.9,552.6 L417.4,552.5 L417.9,552.5 L418.4,552.5 L418.9,552.4 L419.4,552.4 L419.9,552.4 L420.4,552.3 L420.9,552.3 L421.4,552.3 L421.9,552.2 L422.4,552.2 L422.9,552.2 L423.4,552.1 L423.9,552.1 L424.4,552.1 L424.9,552.0 L425.4,552.0 L425.9,551.9 L426.4,551.9 L426.9,551.9 L427.4,551.8 L427.9,551.8 L428.4,551.7 L428.9,551.7 L429.4,551.7 L429.9,551.6 L430.4,551.6 L430.9,551.5 L431.4,551.5 L431.9,551.5 L432.4,551.4 L432.9,551.4 L433.4,551.3 L433.9,551.3 L434.4,551.3 L434.9,551.2 L435.4,551.2 L435.9,551.1 L436.4,551.1 L436.9,551.1 L437.4,551.0 L437.9,551.0 L438.4,550.9 L438.9,550.9 L439.4,550.8 L439.9,550.8 L440.4,550.8 L440.9,550.7 L441.4,550.7 L441.9,550.6 L442.4,550.6 L442.9,550.5 L443.4,550.5 L443.9,550.5 L444.4,550.4 L444.9,550.4 L445.4,550.3 L445.9,550.3 L446.4,550.2 L446.9,550.2 L447.4,550.1 L447.9,550.1 L448.4,550.1 L448.9,550.0 L449.4,550.0 L449.9,549.9 L450.4,549.9 L450.9,549.8 L451.4,549.8 L451.9,549.7 L452.4,549.7 L452.9,549.7 L453.4,549.6 L453.9,549.6 L454.4,549.5 L454.9,549.5 L455.4,549.4 L455.9,549.4 L456.4,549.3 L456.9,549.3 L457.4,549.3 L457.9,549.2 L458.4,549.2 L458.9,549.1 L459.4,549.1 L459.9,549.0 L460.4,549.0 L460.9,548.9 L461.4,548.9 L461.9,548.8 L462.4,548.8 L462.9,548.8 L463.4,548.7 L463.9,548.7 L464.4,548.6 L464.9,548.6 L465.4,548.5 L465.9,548.5 L466.4,548.4 L466.9,548.4 L467.4,548.3 L467.9,548.3" fill="none" stroke="#9c88cc" stroke-width="1.7" stroke-linejoin="round" stroke-linecap="round"/>
<line x1="220.8" y1="487.8" x2="174" y2="517.8" stroke="#c03a48" stroke-width="1.9"/>
<polygon points="164.6,524.3 172.8,514.3 178.2,521.6" fill="#e41c1c"/>
<text x="189.86" y="483.50" font-size="16.4" fill="#bd4a5e" textLength="99.97" lengthAdjust="spacingAndGlyphs" >B.E.:168.7eV</text>
<rect x="567.4" y="364.3" width="415.6" height="290.5" fill="none" stroke="#1a1a1a" stroke-width="2.3"/>
<line x1="983.0" y1="654.8" x2="983.0" y2="659.8" stroke="#1a1a1a" stroke-width="2"/>
<text x="968.33" y="678.15" font-size="18.4" font-weight="bold" textLength="29.80" lengthAdjust="spacingAndGlyphs" >480</text>
<line x1="936.8" y1="654.8" x2="936.8" y2="657.3" stroke="#1a1a1a" stroke-width="2"/>
<line x1="890.6" y1="654.8" x2="890.6" y2="659.8" stroke="#1a1a1a" stroke-width="2"/>
<text x="875.98" y="678.15" font-size="18.4" font-weight="bold" textLength="29.56" lengthAdjust="spacingAndGlyphs" >485</text>
<line x1="844.5" y1="654.8" x2="844.5" y2="657.3" stroke="#1a1a1a" stroke-width="2"/>
<line x1="798.3" y1="654.8" x2="798.3" y2="659.8" stroke="#1a1a1a" stroke-width="2"/>
<text x="783.62" y="678.15" font-size="18.4" font-weight="bold" textLength="29.80" lengthAdjust="spacingAndGlyphs" >490</text>
<line x1="752.1" y1="654.8" x2="752.1" y2="657.3" stroke="#1a1a1a" stroke-width="2"/>
<line x1="705.9" y1="654.8" x2="705.9" y2="659.8" stroke="#1a1a1a" stroke-width="2"/>
<text x="691.27" y="678.15" font-size="18.4" font-weight="bold" textLength="29.56" lengthAdjust="spacingAndGlyphs" >495</text>
<line x1="659.8" y1="654.8" x2="659.8" y2="657.3" stroke="#1a1a1a" stroke-width="2"/>
<line x1="613.6" y1="654.8" x2="613.6" y2="659.8" stroke="#1a1a1a" stroke-width="2"/>
<text x="598.62" y="678.15" font-size="18.4" font-weight="bold" textLength="30.09" lengthAdjust="spacingAndGlyphs" >500</text>
<line x1="567.4" y1="654.8" x2="567.4" y2="657.3" stroke="#1a1a1a" stroke-width="2"/>
<text x="510.80" y="388.10" font-size="36.6" font-weight="bold" textLength="46.10" lengthAdjust="spacingAndGlyphs" >(d)</text>
<text x="664.40" y="714.10" font-size="24.0" font-weight="bold" textLength="221.59" lengthAdjust="spacingAndGlyphs" >Binding Energy(eV)</text>
<text transform="translate(540.20,592.30) rotate(-90)" x="-1.61" y="0" font-size="23.5" font-weight="bold" textLength="191.01" lengthAdjust="spacingAndGlyphs">Intensitivity(a.u.)</text>
<line x1="580" y1="385.6" x2="621" y2="385.6" stroke="#5ea08a" stroke-width="2"/>
<text x="625.61" y="391.80" font-size="17.0" font-weight="bold" textLength="46.00" lengthAdjust="spacingAndGlyphs" >Sn 3d</text>
<text x="672.75" y="396.60" font-size="11.4" font-weight="bold" textLength="15.08" lengthAdjust="spacingAndGlyphs" >3/2</text>
<line x1="580" y1="411.6" x2="621" y2="411.6" stroke="#a898cc" stroke-width="2"/>
<text x="625.61" y="418.00" font-size="17.0" font-weight="bold" textLength="46.00" lengthAdjust="spacingAndGlyphs" >Sn 3d</text>
<text x="672.30" y="422.80" font-size="11.4" font-weight="bold" textLength="15.55" lengthAdjust="spacingAndGlyphs" >1/2</text>
<path d="M567.4,617.8 L567.9,617.8 L568.4,617.8 L568.9,617.9 L569.4,617.9 L569.9,617.9 L570.4,617.9 L570.9,617.9 L571.4,618.0 L571.9,618.0 L572.4,618.0 L572.9,618.0 L573.4,618.0 L573.9,618.1 L574.4,618.1 L574.9,618.1 L575.4,618.1 L575.9,618.1 L576.4,618.2 L576.9,618.2 L577.4,618.2 L577.9,618.2 L578.4,618.2 L578.9,618.3 L579.4,618.3 L579.9,618.3 L580.4,618.3 L580.9,618.3 L581.4,618.4 L581.9,618.4 L582.4,618.4 L582.9,618.4 L583.4,618.4 L583.9,618.5 L584.4,618.5 L584.9,618.5 L585.4,618.5 L585.9,618.5 L586.4,618.6 L586.9,618.6 L587.4,618.6 L587.9,618.6 L588.4,618.6 L588.9,618.6 L589.4,618.7 L589.9,618.7 L590.4,618.7 L590.9,618.7 L591.4,618.7 L591.9,618.8 L592.4,618.8 L592.9,618.8 L593.4,618.8 L593.9,618.8 L594.4,618.9 L594.9,618.9 L595.4,618.9 L595.9,618.9 L596.4,618.9 L596.9,619.0 L597.4,619.0 L597.9,619.0 L598.4,619.0 L598.9,619.0 L599.4,619.1 L599.9,619.1 L600.4,619.1 L600.9,619.2 L601.4,619.2 L601.9,619.2 L602.4,619.3 L602.9,619.3 L603.4,619.4 L603.9,619.4 L604.4,619.4 L604.9,619.5 L605.4,619.5 L605.9,619.6 L606.4,619.6 L606.9,619.6 L607.4,619.7 L607.9,619.7 L608.4,619.8 L608.9,619.8 L609.4,619.9 L609.9,619.9 L610.4,619.9 L610.9,620.0 L611.4,620.0 L611.9,620.1 L612.4,620.1 L612.9,620.1 L613.4,620.2 L613.9,620.2 L614.4,620.3 L614.9,620.3 L615.4,620.3 L615.9,620.4 L616.4,620.4 L616.9,620.5 L617.4,620.5 L617.9,620.5 L618.4,620.6 L618.9,620.6 L619.4,620.7 L619.9,620.7 L620.4,620.7 L620.9,620.8 L621.4,620.8 L621.9,620.9 L622.4,620.9 L622.9,620.9 L623.4,621.0 L623.9,621.0 L624.4,621.1 L624.9,621.1 L625.4,621.1 L625.9,621.2 L626.4,621.2 L626.9,621.2 L627.4,621.3 L627.9,621.3 L628.4,621.3 L628.9,621.3 L629.4,621.4 L629.9,621.4 L630.4,621.4 L630.9,621.5 L631.4,621.5 L631.9,621.5 L632.4,621.6 L632.9,621.6 L633.4,621.6 L633.9,621.6 L634.4,621.7 L634.9,621.7 L635.4,621.7 L635.9,621.8 L636.4,621.8 L636.9,621.8 L637.4,621.8 L637.9,621.9 L638.4,621.9 L638.9,621.9 L639.4,621.9 L639.9,622.0 L640.4,622.0 L640.9,622.0 L641.4,622.1 L641.9,622.1 L642.4,622.1 L642.9,622.1 L643.4,622.2 L643.9,622.2 L644.4,622.2 L644.9,622.2 L645.4,622.3 L645.9,622.3 L646.4,622.3 L646.9,622.3 L647.4,622.4 L647.9,622.4 L648.4,622.4 L648.9,622.4 L649.4,622.5 L649.9,622.5 L650.4,622.5 L650.9,622.4 L651.4,622.4 L651.9,622.3 L652.4,622.3 L652.9,622.3 L653.4,622.2 L653.9,622.2 L654.4,622.1 L654.9,622.1 L655.4,622.0 L655.9,622.0 L656.4,622.0 L656.9,621.9 L657.4,621.9 L657.9,621.8 L658.4,621.8 L658.9,621.7 L659.4,621.7 L659.9,621.6 L660.4,621.6 L660.9,621.5 L661.4,621.5 L661.9,621.4 L662.4,621.4 L662.9,621.3 L663.4,621.3 L663.9,621.2 L664.4,621.1 L664.9,621.1 L665.4,621.0 L665.9,620.9 L666.4,620.9 L666.9,620.8 L667.4,620.7 L667.9,620.6 L668.4,620.5 L668.9,620.3 L669.4,620.2 L669.9,620.1 L670.4,619.9 L670.9,619.7 L671.4,619.5 L671.9,619.3 L672.4,619.1 L672.9,618.8 L673.4,618.5 L673.9,618.2 L674.4,617.8 L674.9,617.4 L675.4,617.0 L675.9,616.5 L676.4,615.9 L676.9,615.3 L677.4,614.6 L677.9,613.8 L678.4,613.0 L678.9,612.0 L679.4,611.0 L679.9,609.9 L680.4,608.6 L680.9,607.2 L681.4,605.8 L681.9,604.1 L682.4,602.4 L682.9,600.5 L683.4,598.4 L683.9,596.2 L684.4,593.9 L684.9,591.3 L685.4,588.6 L685.9,585.7 L686.4,582.7 L686.9,579.5 L687.4,576.1 L687.9,572.5 L688.4,568.7 L688.9,564.8 L689.4,560.8 L689.9,556.6 L690.4,552.2 L690.9,547.8 L691.4,543.2 L691.9,538.5 L692.4,533.8 L692.9,528.9 L693.4,524.0 L693.9,519.1 L694.4,514.2 L694.9,509.3 L695.4,504.5 L695.9,499.7 L696.4,495.1 L696.9,490.5 L697.4,486.1 L697.9,481.9 L698.4,477.9 L698.9,474.1 L699.4,470.6 L699.9,467.4 L700.4,464.5 L700.9,461.9 L701.4,459.6 L701.9,457.8 L702.4,456.3 L702.9,455.2 L703.4,454.5 L703.9,454.2 L704.4,454.4 L704.9,454.9 L705.4,455.9 L705.9,457.2 L706.4,459.0 L706.9,461.1 L707.4,463.6 L707.9,466.4 L708.4,469.6 L708.9,473.0 L709.4,476.7 L709.9,480.7 L710.4,484.8 L710.9,489.2 L711.4,493.7 L711.9,498.4 L712.4,503.1 L712.9,508.0 L713.4,512.9 L713.9,517.8 L714.4,522.8 L714.9,527.7 L715.4,532.6 L715.9,537.4 L716.4,542.2 L716.9,546.8 L717.4,551.4 L717.9,555.8 L718.4,560.0 L718.9,564.2 L719.4,568.2 L719.9,572.0 L720.4,575.7 L720.9,579.2 L721.4,582.6 L721.9,585.8 L722.4,588.8 L722.9,591.6 L723.4,594.3 L723.9,596.8 L724.4,599.2 L724.9,601.3 L725.4,603.4 L725.9,605.3 L726.4,607.0 L726.9,608.6 L727.4,610.1 L727.9,611.5 L728.4,612.7 L728.9,613.9 L729.4,614.9 L729.9,615.9 L730.4,616.8 L730.9,617.6 L731.4,618.3 L731.9,618.9 L732.4,619.5 L732.9,620.1 L733.4,620.6 L733.9,621.0 L734.4,621.4 L734.9,621.8 L735.4,622.2 L735.9,622.5 L736.4,622.8 L736.9,623.0 L737.4,623.3 L737.9,623.5 L738.4,623.7 L738.9,623.9 L739.4,624.1 L739.9,624.3 L740.4,624.4 L740.9,624.6 L741.4,624.7 L741.9,624.9 L742.4,625.0 L742.9,625.1 L743.4,625.2 L743.9,625.4 L744.4,625.5 L744.9,625.6 L745.4,625.7 L745.9,625.8 L746.4,625.9 L746.9,626.0 L747.4,626.1 L747.9,626.2 L748.4,626.3 L748.9,626.4 L749.4,626.5 L749.9,626.6 L750.4,626.7 L750.9,626.8 L751.4,626.9 L751.9,627.0 L752.4,627.1 L752.9,627.2 L753.4,627.3 L753.9,627.4 L754.4,627.5 L754.9,627.6 L755.4,627.7 L755.9,627.8 L756.4,627.9 L756.9,628.0 L757.4,628.1 L757.9,628.2 L758.4,628.3 L758.9,628.4 L759.4,628.5 L759.9,628.6 L760.4,628.6 L760.9,628.6 L761.4,628.6 L761.9,628.6 L762.4,628.7 L762.9,628.7 L763.4,628.7 L763.9,628.7 L764.4,628.7 L764.9,628.8 L765.4,628.8 L765.9,628.8 L766.4,628.8 L766.9,628.8 L767.4,628.8 L767.9,628.9 L768.4,628.9 L768.9,628.9 L769.4,628.9 L769.9,628.9 L770.4,628.9 L770.9,629.0 L771.4,629.0 L771.9,629.0 L772.4,629.0 L772.9,629.0 L773.4,629.0 L773.9,629.0 L774.4,629.1 L774.9,629.1 L775.4,629.1 L775.9,629.1 L776.4,629.1 L776.9,629.1 L777.4,629.1 L777.9,629.2 L778.4,629.2 L778.9,629.2 L779.4,629.2 L779.9,629.2 L780.4,629.2 L780.9,629.2 L781.4,629.2 L781.9,629.3 L782.4,629.3 L782.9,629.3 L783.4,629.3 L783.9,629.3 L784.4,629.3 L784.9,629.3 L785.4,629.3 L785.9,629.3 L786.4,629.4 L786.9,629.4 L787.4,629.4 L787.9,629.4 L788.4,629.4 L788.9,629.4 L789.4,629.4 L789.9,629.4 L790.4,629.4 L790.9,629.4 L791.4,629.5 L791.9,629.5 L792.4,629.5 L792.9,629.5 L793.4,629.5 L793.9,629.5 L794.4,629.5 L794.9,629.5 L795.4,629.5 L795.9,629.5 L796.4,629.5 L796.9,629.5 L797.4,629.5 L797.9,629.5 L798.4,629.6 L798.9,629.6 L799.4,629.6 L799.9,629.6 L800.4,629.5 L800.9,629.5 L801.4,629.4 L801.9,629.4 L802.4,629.4 L802.9,629.3 L803.4,629.3 L803.9,629.2 L804.4,629.2 L804.9,629.1 L805.4,629.1 L805.9,629.0 L806.4,629.0 L806.9,628.9 L807.4,628.9 L807.9,628.8 L808.4,628.8 L808.9,628.7 L809.4,628.7 L809.9,628.6 L810.4,628.6 L810.9,628.5 L811.4,628.4 L811.9,628.4 L812.4,628.3 L812.9,628.3 L813.4,628.2 L813.9,628.2 L814.4,628.1 L814.9,628.0 L815.4,628.0 L815.9,627.9 L816.4,627.8 L816.9,627.8 L817.4,627.7 L817.9,627.6 L818.4,627.5 L818.9,627.4 L819.4,627.3 L819.9,627.3 L820.4,627.2 L820.9,627.0 L821.4,626.9 L821.9,626.8 L822.4,626.7 L822.9,626.5 L823.4,626.4 L823.9,626.2 L824.4,626.0 L824.9,625.8 L825.4,625.5 L825.9,625.3 L826.4,625.0 L826.9,624.6 L827.4,624.2 L827.9,623.8 L828.4,623.3 L828.9,622.8 L829.4,622.3 L829.9,621.6 L830.4,620.9 L830.9,620.2 L831.4,619.3 L831.9,618.4 L832.4,617.4 L832.9,616.2 L833.4,615.0 L833.9,613.7 L834.4,612.2 L834.9,610.5 L835.4,608.8 L835.9,606.8 L836.4,604.8 L836.9,602.5 L837.4,600.0 L837.9,597.4 L838.4,594.5 L838.9,591.5 L839.4,588.2 L839.9,584.7 L840.4,581.0 L840.9,577.0 L841.4,572.8 L841.9,568.4 L842.4,563.7 L842.9,558.8 L843.4,553.6 L843.9,548.3 L844.4,542.7 L844.9,536.9 L845.4,530.9 L845.9,524.8 L846.4,518.5 L846.9,512.0 L847.4,505.4 L847.9,498.7 L848.4,491.9 L848.9,485.1 L849.4,478.2 L849.9,471.3 L850.4,464.5 L850.9,457.7 L851.4,451.0 L851.9,444.4 L852.4,438.1 L852.9,431.9 L853.4,426.0 L853.9,420.3 L854.4,415.0 L854.9,410.0 L855.4,405.4 L855.9,401.3 L856.4,397.6 L856.9,394.4 L857.4,391.7 L857.9,389.5 L858.4,387.8 L858.9,386.8 L859.4,386.3 L859.9,386.3 L860.4,387.0 L860.9,388.2 L861.4,390.0 L861.9,392.3 L862.4,395.2 L862.9,398.5 L863.4,402.4 L863.9,406.7 L864.4,411.3 L864.9,416.4 L865.4,421.9 L865.9,427.6 L866.4,433.6 L866.9,439.9 L867.4,446.4 L867.9,453.0 L868.4,459.7 L868.9,466.6 L869.4,473.5 L869.9,480.4 L870.4,487.3 L870.9,494.2 L871.4,501.0 L871.9,507.7 L872.4,514.3 L872.9,520.8 L873.4,527.1 L873.9,533.2 L874.4,539.2 L874.9,544.9 L875.4,550.4 L875.9,555.7 L876.4,560.8 L876.9,565.6 L877.4,570.2 L877.9,574.6 L878.4,578.7 L878.9,582.6 L879.4,586.3 L879.9,589.7 L880.4,592.9 L880.9,595.9 L881.4,598.7 L881.9,601.3 L882.4,603.6 L882.9,605.9 L883.4,607.9 L883.9,609.8 L884.4,611.5 L884.9,613.0 L885.4,614.5 L885.9,615.8 L886.4,617.0 L886.9,618.0 L887.4,619.0 L887.9,619.9 L888.4,620.7 L888.9,621.4 L889.4,622.1 L889.9,622.7 L890.4,623.2 L890.9,623.7 L891.4,624.1 L891.9,624.5 L892.4,624.9 L892.9,625.2 L893.4,625.5 L893.9,625.7 L894.4,626.0 L894.9,626.2 L895.4,626.4 L895.9,626.6 L896.4,626.8 L896.9,627.0 L897.4,627.1 L897.9,627.3 L898.4,627.4 L898.9,627.5 L899.4,627.6 L899.9,627.8 L900.4,627.9 L900.9,628.0 L901.4,628.1 L901.9,628.2 L902.4,628.3 L902.9,628.4 L903.4,628.5 L903.9,628.6 L904.4,628.6 L904.9,628.7 L905.4,628.8 L905.9,628.9 L906.4,629.0 L906.9,629.1 L907.4,629.1 L907.9,629.2 L908.4,629.3 L908.9,629.4 L909.4,629.5 L909.9,629.5 L910.4,629.6 L910.9,629.6 L911.4,629.7 L911.9,629.7 L912.4,629.8 L912.9,629.8 L913.4,629.9 L913.9,629.9 L914.4,630.0 L914.9,630.0 L915.4,630.1 L915.9,630.1 L916.4,630.2 L916.9,630.2 L917.4,630.3 L917.9,630.3 L918.4,630.4 L918.9,630.4 L919.4,630.5 L919.9,630.5 L920.4,630.5 L920.9,630.6 L921.4,630.6 L921.9,630.7 L922.4,630.7 L922.9,630.8 L923.4,630.8 L923.9,630.8 L924.4,630.9 L924.9,630.9 L925.4,631.0 L925.9,631.0 L926.4,631.0 L926.9,631.1 L927.4,631.1 L927.9,631.2 L928.4,631.2 L928.9,631.3 L929.4,631.3 L929.9,631.3 L930.4,631.4 L930.9,631.4 L931.4,631.5 L931.9,631.5 L932.4,631.5 L932.9,631.6 L933.4,631.6 L933.9,631.6 L934.4,631.7 L934.9,631.7 L935.4,631.8 L935.9,631.8 L936.4,631.8 L936.9,631.9 L937.4,631.9 L937.9,632.0 L938.4,632.0 L938.9,632.0 L939.4,632.1 L939.9,632.1 L940.4,632.1 L940.9,632.2 L941.4,632.2 L941.9,632.2 L942.4,632.2 L942.9,632.3 L943.4,632.3 L943.9,632.3 L944.4,632.4 L944.9,632.4 L945.4,632.4 L945.9,632.4 L946.4,632.5 L946.9,632.5 L947.4,632.5 L947.9,632.6 L948.4,632.6 L948.9,632.6 L949.4,632.6 L949.9,632.7 L950.4,632.7 L950.9,632.7 L951.4,632.7 L951.9,632.8 L952.4,632.8 L952.9,632.8 L953.4,632.9 L953.9,632.9 L954.4,632.9 L954.9,632.9 L955.4,633.0 L955.9,633.0 L956.4,633.0 L956.9,633.0 L957.4,633.1 L957.9,633.1 L958.4,633.1 L958.9,633.2 L959.4,633.2 L959.9,633.2 L960.4,633.2 L960.9,633.3 L961.4,633.3 L961.9,633.3 L962.4,633.3 L962.9,633.4 L963.4,633.4 L963.9,633.4 L964.4,633.4 L964.9,633.5 L965.4,633.5 L965.9,633.5 L966.4,633.5 L966.9,633.6 L967.4,633.6 L967.9,633.6 L968.4,633.7 L968.9,633.7 L969.4,633.7 L969.9,633.7 L970.4,633.8 L970.9,633.8 L971.4,633.8 L971.9,633.8 L972.4,633.9 L972.9,633.9 L973.4,633.9 L973.9,633.9 L974.4,634.0 L974.9,634.0 L975.4,634.0 L975.9,634.0 L976.4,634.1 L976.9,634.1 L977.4,634.1 L977.9,634.1 L978.4,634.2 L978.9,634.2 L979.4,634.2 L979.9,634.2 L980.4,634.3 L980.9,634.3 L981.4,634.3 L981.9,634.3 L982.4,634.4 L982.9,634.4" fill="none" stroke="#3a3a3a" stroke-width="1.7" stroke-linejoin="round" stroke-linecap="round"/>
<path d="M567.4,617.8 L567.9,617.8 L568.4,617.9 L568.9,617.9 L569.4,617.9 L569.9,617.9 L570.4,617.9 L570.9,617.9 L571.4,617.9 L571.9,617.9 L572.4,618.0 L572.9,618.0 L573.4,618.0 L573.9,618.0 L574.4,618.0 L574.9,618.0 L575.4,618.0 L575.9,618.0 L576.4,618.1 L576.9,618.1 L577.4,618.1 L577.9,618.1 L578.4,618.1 L578.9,618.1 L579.4,618.1 L579.9,618.1 L580.4,618.2 L580.9,618.2 L581.4,618.2 L581.9,618.2 L582.4,618.2 L582.9,618.2 L583.4,618.2 L583.9,618.2 L584.4,618.2 L584.9,618.3 L585.4,618.3 L585.9,618.3 L586.4,618.3 L586.9,618.3 L587.4,618.3 L587.9,618.3 L588.4,618.3 L588.9,618.4 L589.4,618.4 L589.9,618.4 L590.4,618.4 L590.9,618.4 L591.4,618.4 L591.9,618.4 L592.4,618.4 L592.9,618.5 L593.4,618.5 L593.9,618.5 L594.4,618.5 L594.9,618.5 L595.4,618.5 L595.9,618.5 L596.4,618.5 L596.9,618.5 L597.4,618.6 L597.9,618.6 L598.4,618.6 L598.9,618.6 L599.4,618.6 L599.9,618.6 L600.4,618.6 L600.9,618.6 L601.4,618.7 L601.9,618.7 L602.4,618.7 L602.9,618.7 L603.4,618.7 L603.9,618.7 L604.4,618.7 L604.9,618.7 L605.4,618.7 L605.9,618.8 L606.4,618.8 L606.9,618.8 L607.4,618.8 L607.9,618.8 L608.4,618.8 L608.9,618.8 L609.4,618.8 L609.9,618.8 L610.4,618.9 L610.9,618.9 L611.4,618.9 L611.9,618.9 L612.4,618.9 L612.9,618.9 L613.4,618.9 L613.9,618.9 L614.4,618.9 L614.9,619.0 L615.4,619.0 L615.9,619.0 L616.4,619.0 L616.9,619.0 L617.4,619.0 L617.9,619.0 L618.4,619.0 L618.9,619.0 L619.4,619.1 L619.9,619.1 L620.4,619.1 L620.9,619.1 L621.4,619.1 L621.9,619.1 L622.4,619.1 L622.9,619.1 L623.4,619.1 L623.9,619.1 L624.4,619.2 L624.9,619.2 L625.4,619.2 L625.9,619.2 L626.4,619.2 L626.9,619.2 L627.4,619.2 L627.9,619.2 L628.4,619.2 L628.9,619.2 L629.4,619.3 L629.9,619.3 L630.4,619.3 L630.9,619.3 L631.4,619.3 L631.9,619.3 L632.4,619.3 L632.9,619.3 L633.4,619.3 L633.9,619.3 L634.4,619.3 L634.9,619.4 L635.4,619.4 L635.9,619.4 L636.4,619.4 L636.9,619.4 L637.4,619.4 L637.9,619.4 L638.4,619.4 L638.9,619.4 L639.4,619.4 L639.9,619.4 L640.4,619.4 L640.9,619.5 L641.4,619.5 L641.9,619.5 L642.4,619.5 L642.9,619.5 L643.4,619.5 L643.9,619.5 L644.4,619.5 L644.9,619.5 L645.4,619.5 L645.9,619.5 L646.4,619.5 L646.9,619.5 L647.4,619.5 L647.9,619.5 L648.4,619.6 L648.9,619.6 L649.4,619.6 L649.9,619.6 L650.4,619.6 L650.9,619.6 L651.4,619.6 L651.9,619.6 L652.4,619.6 L652.9,619.6 L653.4,619.6 L653.9,619.6 L654.4,619.6 L654.9,619.6 L655.4,619.6 L655.9,619.6 L656.4,619.6 L656.9,619.6 L657.4,619.6 L657.9,619.6 L658.4,619.6 L658.9,619.6 L659.4,619.6 L659.9,619.6 L660.4,619.6 L660.9,619.6 L661.4,619.6 L661.9,619.6 L662.4,619.6 L662.9,619.6 L663.4,619.6 L663.9,619.5 L664.4,619.5 L664.9,619.5 L665.4,619.5 L665.9,619.5 L666.4,619.4 L666.9,619.4 L667.4,619.3 L667.9,619.3 L668.4,619.2 L668.9,619.1 L669.4,619.1 L669.9,619.0 L670.4,618.8 L670.9,618.7 L671.4,618.6 L671.9,618.4 L672.4,618.2 L672.9,618.0 L673.4,617.7 L673.9,617.4 L674.4,617.1 L674.9,616.7 L675.4,616.3 L675.9,615.8 L676.4,615.3 L676.9,614.7 L677.4,614.0 L677.9,613.2 L678.4,612.4 L678.9,611.5 L679.4,610.5 L679.9,609.4 L680.4,608.2 L680.9,606.8 L681.4,605.4 L681.9,603.8 L682.4,602.0 L682.9,600.2 L683.4,598.2 L683.9,596.0 L684.4,593.6 L684.9,591.1 L685.4,588.5 L685.9,585.6 L686.4,582.6 L686.9,579.4 L687.4,576.0 L687.9,572.5 L688.4,568.8 L688.9,564.9 L689.4,560.8 L689.9,556.7 L690.4,552.3 L690.9,547.9 L691.4,543.3 L691.9,538.6 L692.4,533.9 L692.9,529.0 L693.4,524.1 L693.9,519.2 L694.4,514.3 L694.9,509.5 L695.4,504.6 L695.9,499.8 L696.4,495.2 L696.9,490.6 L697.4,486.2 L697.9,482.0 L698.4,478.0 L698.9,474.2 L699.4,470.7 L699.9,467.5 L700.4,464.6 L700.9,462.0 L701.4,459.7 L701.9,457.9 L702.4,456.4 L702.9,455.3 L703.4,454.6 L703.9,454.3 L704.4,454.5 L704.9,455.0 L705.4,456.0 L705.9,457.4 L706.4,459.1 L706.9,461.2 L707.4,463.7 L707.9,466.6 L708.4,469.7 L708.9,473.1 L709.4,476.8 L709.9,480.8 L710.4,485.0 L710.9,489.3 L711.4,493.9 L711.9,498.5 L712.4,503.3 L712.9,508.1 L713.4,513.0 L713.9,518.0 L714.4,522.9 L714.9,527.8 L715.4,532.7 L715.9,537.6 L716.4,542.3 L716.9,547.0 L717.4,551.5 L717.9,555.9 L718.4,560.2 L718.9,564.3 L719.4,568.3 L719.9,572.1 L720.4,575.8 L720.9,579.2 L721.4,582.5 L721.9,585.7 L722.4,588.6 L722.9,591.4 L723.4,594.0 L723.9,596.5 L724.4,598.7 L724.9,600.8 L725.4,602.8 L725.9,604.6 L726.4,606.3 L726.9,607.9 L727.4,609.3 L727.9,610.6 L728.4,611.8 L728.9,612.9 L729.4,613.8 L729.9,614.7 L730.4,615.5 L730.9,616.3 L731.4,616.9 L731.9,617.5 L732.4,618.1 L732.9,618.5 L733.4,619.0 L733.9,619.4 L734.4,619.7 L734.9,620.0 L735.4,620.3 L735.9,620.5 L736.4,620.8 L736.9,621.0 L737.4,621.1 L737.9,621.3 L738.4,621.4 L738.9,621.6 L739.4,621.7 L739.9,621.8 L740.4,621.9 L740.9,621.9 L741.4,622.0 L741.9,622.1 L742.4,622.2 L742.9,622.2 L743.4,622.3 L743.9,622.3 L744.4,622.4 L744.9,622.4 L745.4,622.5 L745.9,622.5 L746.4,622.6 L746.9,622.6 L747.4,622.6 L747.9,622.7 L748.4,622.7 L748.9,622.7 L749.4,622.8 L749.9,622.8 L750.4,622.8 L750.9,622.9 L751.4,622.9 L751.9,622.9 L752.4,622.9 L752.9,623.0 L753.4,623.0 L753.9,623.0 L754.4,623.1 L754.9,623.1 L755.4,623.1 L755.9,623.1 L756.4,623.2 L756.9,623.2 L757.4,623.2 L757.9,623.3 L758.4,623.3 L758.9,623.3 L759.4,623.3 L759.9,623.4 L760.4,623.4 L760.9,623.4 L761.4,623.4 L761.9,623.4 L762.4,623.5 L762.9,623.5 L763.4,623.5 L763.9,623.5 L764.4,623.6 L764.9,623.6 L765.4,623.6 L765.9,623.6 L766.4,623.6 L766.9,623.7 L767.4,623.7 L767.9,623.7 L768.4,623.7 L768.9,623.7 L769.4,623.8 L769.9,623.8 L770.4,623.8 L770.9,623.8 L771.4,623.8 L771.9,623.9 L772.4,623.9 L772.9,623.9 L773.4,623.9 L773.9,623.9 L774.4,623.9 L774.9,624.0 L775.4,624.0 L775.9,624.0 L776.4,624.0 L776.9,624.0 L777.4,624.1 L777.9,624.1 L778.4,624.1 L778.9,624.1 L779.4,624.1 L779.9,624.2 L780.4,624.2 L780.9,624.2 L781.4,624.2 L781.9,624.2 L782.4,624.2 L782.9,624.3 L783.4,624.3 L783.9,624.3 L784.4,624.3 L784.9,624.3 L785.4,624.3 L785.9,624.4 L786.4,624.4 L786.9,624.4 L787.4,624.4 L787.9,624.4 L788.4,624.5 L788.9,624.5 L789.4,624.5 L789.9,624.5 L790.4,624.5 L790.9,624.5 L791.4,624.6 L791.9,624.6 L792.4,624.6 L792.9,624.6 L793.4,624.6 L793.9,624.6 L794.4,624.7 L794.9,624.7 L795.4,624.7 L795.9,624.7 L796.4,624.7 L796.9,624.7 L797.4,624.8 L797.9,624.8 L798.4,624.8 L798.9,624.8 L799.4,624.8 L799.9,624.8 L800.4,624.9 L800.9,624.9 L801.4,624.9 L801.9,624.9 L802.4,624.9 L802.9,624.9 L803.4,625.0 L803.9,625.0 L804.4,625.0 L804.9,625.0 L805.4,625.0 L805.9,625.0 L806.4,625.1 L806.9,625.1 L807.4,625.1 L807.9,625.1 L808.4,625.1 L808.9,625.1 L809.4,625.2 L809.9,625.2 L810.4,625.2 L810.9,625.2 L811.4,625.2 L811.9,625.2 L812.4,625.3 L812.9,625.3 L813.4,625.3 L813.9,625.3 L814.4,625.3 L814.9,625.3 L815.4,625.3 L815.9,625.4 L816.4,625.4 L816.9,625.4 L817.4,625.4 L817.9,625.4 L818.4,625.4 L818.9,625.5 L819.4,625.5 L819.9,625.5 L820.4,625.5 L820.9,625.5 L821.4,625.5 L821.9,625.6 L822.4,625.6 L822.9,625.6 L823.4,625.6 L823.9,625.6 L824.4,625.6 L824.9,625.6 L825.4,625.7 L825.9,625.7 L826.4,625.7 L826.9,625.7 L827.4,625.7 L827.9,625.7 L828.4,625.8 L828.9,625.8 L829.4,625.8 L829.9,625.8 L830.4,625.8 L830.9,625.8 L831.4,625.9 L831.9,625.9 L832.4,625.9 L832.9,625.9 L833.4,625.9 L833.9,625.9 L834.4,625.9 L834.9,626.0 L835.4,626.0 L835.9,626.0 L836.4,626.0 L836.9,626.0 L837.4,626.0 L837.9,626.1 L838.4,626.1 L838.9,626.1 L839.4,626.1 L839.9,626.1 L840.4,626.1 L840.9,626.2 L841.4,626.2 L841.9,626.2 L842.4,626.2 L842.9,626.2 L843.4,626.2 L843.9,626.2 L844.4,626.3 L844.9,626.3 L845.4,626.3 L845.9,626.3 L846.4,626.3 L846.9,626.3 L847.4,626.4 L847.9,626.4 L848.4,626.4 L848.9,626.4 L849.4,626.4 L849.9,626.4 L850.4,626.4 L850.9,626.5 L851.4,626.5 L851.9,626.5 L852.4,626.5 L852.9,626.5 L853.4,626.5 L853.9,626.6 L854.4,626.6 L854.9,626.6 L855.4,626.6 L855.9,626.6 L856.4,626.6 L856.9,626.6 L857.4,626.7 L857.9,626.7 L858.4,626.7 L858.9,626.7 L859.4,626.7 L859.9,626.7 L860.4,626.8 L860.9,626.8 L861.4,626.8 L861.9,626.8 L862.4,626.9 L862.9,626.9 L863.4,626.9 L863.9,626.9 L864.4,627.0 L864.9,627.0 L865.4,627.0 L865.9,627.0 L866.4,627.0 L866.9,627.1 L867.4,627.1 L867.9,627.1 L868.4,627.1 L868.9,627.2 L869.4,627.2 L869.9,627.2 L870.4,627.2 L870.9,627.3 L871.4,627.3 L871.9,627.3 L872.4,627.3 L872.9,627.4 L873.4,627.4 L873.9,627.4 L874.4,627.4 L874.9,627.5 L875.4,627.5 L875.9,627.5 L876.4,627.5 L876.9,627.5 L877.4,627.6 L877.9,627.6 L878.4,627.6 L878.9,627.6 L879.4,627.7 L879.9,627.7 L880.4,627.7 L880.9,627.7 L881.4,627.8 L881.9,627.8 L882.4,627.8 L882.9,627.8 L883.4,627.9 L883.9,627.9 L884.4,627.9 L884.9,627.9 L885.4,628.0 L885.9,628.0 L886.4,628.0 L886.9,628.0 L887.4,628.0 L887.9,628.1 L888.4,628.1 L888.9,628.1 L889.4,628.1 L889.9,628.2 L890.4,628.2 L890.9,628.2 L891.4,628.2 L891.9,628.3 L892.4,628.3 L892.9,628.3 L893.4,628.3 L893.9,628.4 L894.4,628.4 L894.9,628.4 L895.4,628.4 L895.9,628.5 L896.4,628.5 L896.9,628.5 L897.4,628.5 L897.9,628.5 L898.4,628.6 L898.9,628.6 L899.4,628.6 L899.9,628.6 L900.4,628.7 L900.9,628.7 L901.4,628.7 L901.9,628.7 L902.4,628.8 L902.9,628.8 L903.4,628.8 L903.9,628.8 L904.4,628.9 L904.9,628.9 L905.4,628.9 L905.9,628.9 L906.4,629.0 L906.9,629.0 L907.4,629.0 L907.9,629.0 L908.4,629.0 L908.9,629.1 L909.4,629.1 L909.9,629.1 L910.4,629.1 L910.9,629.2 L911.4,629.2 L911.9,629.2 L912.4,629.2 L912.9,629.3 L913.4,629.3 L913.9,629.3 L914.4,629.3 L914.9,629.4 L915.4,629.4 L915.9,629.4 L916.4,629.4 L916.9,629.5 L917.4,629.5 L917.9,629.5 L918.4,629.5 L918.9,629.5 L919.4,629.6 L919.9,629.6 L920.4,629.6 L920.9,629.6 L921.4,629.7 L921.9,629.7 L922.4,629.7 L922.9,629.7 L923.4,629.8 L923.9,629.8 L924.4,629.8 L924.9,629.8 L925.4,629.9 L925.9,629.9 L926.4,629.9 L926.9,629.9 L927.4,629.9 L927.9,630.0 L928.4,630.0 L928.9,630.0 L929.4,630.0 L929.9,630.1 L930.4,630.1 L930.9,630.1 L931.4,630.1 L931.9,630.2 L932.4,630.2 L932.9,630.2 L933.4,630.2 L933.9,630.3 L934.4,630.3 L934.9,630.3 L935.4,630.3 L935.9,630.4 L936.4,630.4 L936.9,630.4 L937.4,630.4 L937.9,630.4 L938.4,630.5 L938.9,630.5 L939.4,630.5 L939.9,630.5 L940.4,630.6 L940.9,630.6 L941.4,630.6 L941.9,630.6 L942.4,630.7 L942.9,630.7 L943.4,630.7 L943.9,630.7 L944.4,630.8 L944.9,630.8 L945.4,630.8 L945.9,630.8 L946.4,630.8 L946.9,630.9 L947.4,630.9 L947.9,630.9 L948.4,630.9 L948.9,631.0 L949.4,631.0 L949.9,631.0 L950.4,631.0 L950.9,631.1 L951.4,631.1 L951.9,631.1 L952.4,631.1 L952.9,631.2 L953.4,631.2 L953.9,631.2 L954.4,631.2 L954.9,631.3 L955.4,631.3 L955.9,631.3 L956.4,631.3 L956.9,631.3 L957.4,631.4 L957.9,631.4 L958.4,631.4 L958.9,631.4 L959.4,631.5 L959.9,631.5 L960.4,631.5 L960.9,631.5 L961.4,631.6 L961.9,631.6 L962.4,631.6 L962.9,631.6 L963.4,631.7 L963.9,631.7 L964.4,631.7 L964.9,631.7 L965.4,631.7 L965.9,631.8 L966.4,631.8 L966.9,631.8 L967.4,631.8 L967.9,631.9 L968.4,631.9 L968.9,631.9 L969.4,631.9 L969.9,632.0 L970.4,632.0 L970.9,632.0 L971.4,632.0 L971.9,632.1 L972.4,632.1 L972.9,632.1 L973.4,632.1 L973.9,632.2 L974.4,632.2 L974.9,632.2 L975.4,632.2 L975.9,632.2 L976.4,632.3 L976.9,632.3 L977.4,632.3 L977.9,632.3 L978.4,632.4 L978.9,632.4 L979.4,632.4 L979.9,632.4 L980.4,632.5 L980.9,632.5 L981.4,632.5 L981.9,632.5 L982.4,632.6 L982.9,632.6" fill="none" stroke="#46a080" stroke-width="1.7" stroke-linejoin="round" stroke-linecap="round"/>
<path d="M567.4,617.9 L567.9,617.9 L568.4,617.9 L568.9,617.9 L569.4,617.9 L569.9,617.9 L570.4,618.0 L570.9,618.0 L571.4,618.0 L571.9,618.0 L572.4,618.0 L572.9,618.0 L573.4,618.0 L573.9,618.0 L574.4,618.1 L574.9,618.1 L575.4,618.1 L575.9,618.1 L576.4,618.1 L576.9,618.1 L577.4,618.1 L577.9,618.1 L578.4,618.2 L578.9,618.2 L579.4,618.2 L579.9,618.2 L580.4,618.2 L580.9,618.2 L581.4,618.2 L581.9,618.2 L582.4,618.3 L582.9,618.3 L583.4,618.3 L583.9,618.3 L584.4,618.3 L584.9,618.3 L585.4,618.3 L585.9,618.3 L586.4,618.4 L586.9,618.4 L587.4,618.4 L587.9,618.4 L588.4,618.4 L588.9,618.4 L589.4,618.4 L589.9,618.5 L590.4,618.5 L590.9,618.5 L591.4,618.5 L591.9,618.5 L592.4,618.5 L592.9,618.5 L593.4,618.5 L593.9,618.6 L594.4,618.6 L594.9,618.6 L595.4,618.6 L595.9,618.6 L596.4,618.6 L596.9,618.6 L597.4,618.6 L597.9,618.7 L598.4,618.7 L598.9,618.7 L599.4,618.7 L599.9,618.7 L600.4,618.7 L600.9,618.7 L601.4,618.7 L601.9,618.8 L602.4,618.8 L602.9,618.8 L603.4,618.8 L603.9,618.8 L604.4,618.8 L604.9,618.8 L605.4,618.8 L605.9,618.9 L606.4,618.9 L606.9,618.9 L607.4,618.9 L607.9,618.9 L608.4,618.9 L608.9,618.9 L609.4,618.9 L609.9,619.0 L610.4,619.0 L610.9,619.0 L611.4,619.0 L611.9,619.0 L612.4,619.0 L612.9,619.0 L613.4,619.0 L613.9,619.1 L614.4,619.1 L614.9,619.1 L615.4,619.1 L615.9,619.1 L616.4,619.1 L616.9,619.1 L617.4,619.2 L617.9,619.2 L618.4,619.2 L618.9,619.2 L619.4,619.2 L619.9,619.2 L620.4,619.2 L620.9,619.2 L621.4,619.3 L621.9,619.3 L622.4,619.3 L622.9,619.3 L623.4,619.3 L623.9,619.3 L624.4,619.3 L624.9,619.3 L625.4,619.4 L625.9,619.4 L626.4,619.4 L626.9,619.4 L627.4,619.4 L627.9,619.4 L628.4,619.4 L628.9,619.4 L629.4,619.5 L629.9,619.5 L630.4,619.5 L630.9,619.5 L631.4,619.5 L631.9,619.5 L632.4,619.5 L632.9,619.5 L633.4,619.6 L633.9,619.6 L634.4,619.6 L634.9,619.6 L635.4,619.6 L635.9,619.6 L636.4,619.6 L636.9,619.6 L637.4,619.7 L637.9,619.7 L638.4,619.7 L638.9,619.7 L639.4,619.7 L639.9,619.7 L640.4,619.7 L640.9,619.7 L641.4,619.8 L641.9,619.8 L642.4,619.8 L642.9,619.8 L643.4,619.8 L643.9,619.8 L644.4,619.8 L644.9,619.8 L645.4,619.9 L645.9,619.9 L646.4,619.9 L646.9,619.9 L647.4,619.9 L647.9,619.9 L648.4,619.9 L648.9,619.9 L649.4,620.0 L649.9,620.0 L650.4,620.0 L650.9,620.0 L651.4,620.0 L651.9,620.0 L652.4,620.0 L652.9,620.0 L653.4,620.1 L653.9,620.1 L654.4,620.1 L654.9,620.1 L655.4,620.1 L655.9,620.1 L656.4,620.1 L656.9,620.1 L657.4,620.2 L657.9,620.2 L658.4,620.2 L658.9,620.2 L659.4,620.2 L659.9,620.2 L660.4,620.2 L660.9,620.3 L661.4,620.3 L661.9,620.3 L662.4,620.3 L662.9,620.3 L663.4,620.3 L663.9,620.4 L664.4,620.4 L664.9,620.4 L665.4,620.4 L665.9,620.4 L666.4,620.4 L666.9,620.5 L667.4,620.5 L667.9,620.5 L668.4,620.5 L668.9,620.5 L669.4,620.5 L669.9,620.6 L670.4,620.6 L670.9,620.6 L671.4,620.6 L671.9,620.6 L672.4,620.7 L672.9,620.7 L673.4,620.7 L673.9,620.7 L674.4,620.7 L674.9,620.7 L675.4,620.8 L675.9,620.8 L676.4,620.8 L676.9,620.8 L677.4,620.8 L677.9,620.8 L678.4,620.9 L678.9,620.9 L679.4,620.9 L679.9,620.9 L680.4,620.9 L680.9,620.9 L681.4,621.0 L681.9,621.0 L682.4,621.0 L682.9,621.0 L683.4,621.0 L683.9,621.0 L684.4,621.1 L684.9,621.1 L685.4,621.1 L685.9,621.1 L686.4,621.1 L686.9,621.1 L687.4,621.2 L687.9,621.2 L688.4,621.2 L688.9,621.2 L689.4,621.2 L689.9,621.2 L690.4,621.3 L690.9,621.3 L691.4,621.3 L691.9,621.3 L692.4,621.3 L692.9,621.3 L693.4,621.4 L693.9,621.4 L694.4,621.4 L694.9,621.4 L695.4,621.4 L695.9,621.4 L696.4,621.5 L696.9,621.5 L697.4,621.5 L697.9,621.5 L698.4,621.5 L698.9,621.6 L699.4,621.6 L699.9,621.6 L700.4,621.6 L700.9,621.6 L701.4,621.6 L701.9,621.7 L702.4,621.7 L702.9,621.7 L703.4,621.7 L703.9,621.7 L704.4,621.7 L704.9,621.8 L705.4,621.8 L705.9,621.8 L706.4,621.8 L706.9,621.8 L707.4,621.8 L707.9,621.9 L708.4,621.9 L708.9,621.9 L709.4,621.9 L709.9,621.9 L710.4,621.9 L710.9,622.0 L711.4,622.0 L711.9,622.0 L712.4,622.0 L712.9,622.0 L713.4,622.0 L713.9,622.1 L714.4,622.1 L714.9,622.1 L715.4,622.1 L715.9,622.1 L716.4,622.1 L716.9,622.2 L717.4,622.2 L717.9,622.2 L718.4,622.2 L718.9,622.2 L719.4,622.2 L719.9,622.2 L720.4,622.3 L720.9,622.3 L721.4,622.3 L721.9,622.3 L722.4,622.3 L722.9,622.3 L723.4,622.4 L723.9,622.4 L724.4,622.4 L724.9,622.4 L725.4,622.4 L725.9,622.4 L726.4,622.5 L726.9,622.5 L727.4,622.5 L727.9,622.5 L728.4,622.5 L728.9,622.5 L729.4,622.6 L729.9,622.6 L730.4,622.6 L730.9,622.6 L731.4,622.6 L731.9,622.6 L732.4,622.7 L732.9,622.7 L733.4,622.7 L733.9,622.7 L734.4,622.7 L734.9,622.7 L735.4,622.8 L735.9,622.8 L736.4,622.8 L736.9,622.8 L737.4,622.8 L737.9,622.8 L738.4,622.8 L738.9,622.9 L739.4,622.9 L739.9,622.9 L740.4,622.9 L740.9,622.9 L741.4,622.9 L741.9,623.0 L742.4,623.0 L742.9,623.0 L743.4,623.0 L743.9,623.0 L744.4,623.0 L744.9,623.1 L745.4,623.1 L745.9,623.1 L746.4,623.1 L746.9,623.1 L747.4,623.1 L747.9,623.1 L748.4,623.2 L748.9,623.2 L749.4,623.2 L749.9,623.2 L750.4,623.2 L750.9,623.2 L751.4,623.3 L751.9,623.3 L752.4,623.3 L752.9,623.3 L753.4,623.3 L753.9,623.3 L754.4,623.3 L754.9,623.4 L755.4,623.4 L755.9,623.4 L756.4,623.4 L756.9,623.4 L757.4,623.4 L757.9,623.5 L758.4,623.5 L758.9,623.5 L759.4,623.5 L759.9,623.5 L760.4,623.5 L760.9,623.5 L761.4,623.5 L761.9,623.6 L762.4,623.6 L762.9,623.6 L763.4,623.6 L763.9,623.6 L764.4,623.6 L764.9,623.6 L765.4,623.6 L765.9,623.7 L766.4,623.7 L766.9,623.7 L767.4,623.7 L767.9,623.7 L768.4,623.7 L768.9,623.7 L769.4,623.7 L769.9,623.7 L770.4,623.8 L770.9,623.8 L771.4,623.8 L771.9,623.8 L772.4,623.8 L772.9,623.8 L773.4,623.8 L773.9,623.8 L774.4,623.8 L774.9,623.9 L775.4,623.9 L775.9,623.9 L776.4,623.9 L776.9,623.9 L777.4,623.9 L777.9,623.9 L778.4,623.9 L778.9,623.9 L779.4,623.9 L779.9,624.0 L780.4,624.0 L780.9,624.0 L781.4,624.0 L781.9,624.0 L782.4,624.0 L782.9,624.0 L783.4,624.0 L783.9,624.0 L784.4,624.0 L784.9,624.0 L785.4,624.1 L785.9,624.1 L786.4,624.1 L786.9,624.1 L787.4,624.1 L787.9,624.1 L788.4,624.1 L788.9,624.1 L789.4,624.1 L789.9,624.1 L790.4,624.1 L790.9,624.1 L791.4,624.1 L791.9,624.1 L792.4,624.2 L792.9,624.2 L793.4,624.2 L793.9,624.2 L794.4,624.2 L794.9,624.2 L795.4,624.2 L795.9,624.2 L796.4,624.2 L796.9,624.2 L797.4,624.2 L797.9,624.2 L798.4,624.2 L798.9,624.2 L799.4,624.2 L799.9,624.2 L800.4,624.2 L800.9,624.2 L801.4,624.2 L801.9,624.2 L802.4,624.2 L802.9,624.2 L803.4,624.2 L803.9,624.2 L804.4,624.2 L804.9,624.2 L805.4,624.2 L805.9,624.2 L806.4,624.2 L806.9,624.2 L807.4,624.2 L807.9,624.2 L808.4,624.2 L808.9,624.2 L809.4,624.2 L809.9,624.2 L810.4,624.2 L810.9,624.2 L811.4,624.2 L811.9,624.2 L812.4,624.2 L812.9,624.1 L813.4,624.1 L813.9,624.1 L814.4,624.1 L814.9,624.1 L815.4,624.1 L815.9,624.0 L816.4,624.0 L816.9,624.0 L817.4,624.0 L817.9,623.9 L818.4,623.9 L818.9,623.9 L819.4,623.8 L819.9,623.8 L820.4,623.7 L820.9,623.7 L821.4,623.6 L821.9,623.5 L822.4,623.4 L822.9,623.3 L823.4,623.2 L823.9,623.1 L824.4,622.9 L824.9,622.8 L825.4,622.6 L825.9,622.4 L826.4,622.1 L826.9,621.9 L827.4,621.5 L827.9,621.2 L828.4,620.8 L828.9,620.4 L829.4,619.9 L829.9,619.3 L830.4,618.7 L830.9,618.0 L831.4,617.3 L831.9,616.4 L832.4,615.5 L832.9,614.4 L833.4,613.3 L833.9,612.0 L834.4,610.6 L834.9,609.0 L835.4,607.3 L835.9,605.5 L836.4,603.5 L836.9,601.3 L837.4,598.9 L837.9,596.4 L838.4,593.6 L838.9,590.6 L839.4,587.4 L839.9,584.0 L840.4,580.3 L840.9,576.5 L841.4,572.3 L841.9,568.0 L842.4,563.4 L842.9,558.5 L843.4,553.5 L843.9,548.2 L844.4,542.6 L844.9,536.9 L845.4,531.0 L845.9,524.8 L846.4,518.5 L846.9,512.1 L847.4,505.5 L847.9,498.8 L848.4,492.0 L848.9,485.2 L849.4,478.3 L849.9,471.4 L850.4,464.5 L850.9,457.8 L851.4,451.1 L851.9,444.5 L852.4,438.1 L852.9,432.0 L853.4,426.0 L853.9,420.4 L854.4,415.0 L854.9,410.1 L855.4,405.5 L855.9,401.3 L856.4,397.6 L856.9,394.4 L857.4,391.7 L857.9,389.5 L858.4,387.9 L858.9,386.8 L859.4,386.3 L859.9,386.4 L860.4,387.1 L860.9,388.3 L861.4,390.1 L861.9,392.4 L862.4,395.2 L862.9,398.6 L863.4,402.4 L863.9,406.7 L864.4,411.4 L864.9,416.5 L865.4,421.9 L865.9,427.7 L866.4,433.7 L866.9,439.9 L867.4,446.4 L867.9,453.0 L868.4,459.8 L868.9,466.6 L869.4,473.5 L869.9,480.4 L870.4,487.4 L870.9,494.2 L871.4,501.1 L871.9,507.8 L872.4,514.4 L872.9,520.8 L873.4,527.1 L873.9,533.3 L874.4,539.2 L874.9,544.9 L875.4,550.5 L875.9,555.8 L876.4,560.8 L876.9,565.6 L877.4,570.2 L877.9,574.6 L878.4,578.7 L878.9,582.6 L879.4,586.2 L879.9,589.6 L880.4,592.8 L880.9,595.8 L881.4,598.6 L881.9,601.1 L882.4,603.5 L882.9,605.7 L883.4,607.7 L883.9,609.6 L884.4,611.3 L884.9,612.8 L885.4,614.2 L885.9,615.5 L886.4,616.7 L886.9,617.8 L887.4,618.7 L887.9,619.6 L888.4,620.4 L888.9,621.1 L889.4,621.7 L889.9,622.3 L890.4,622.8 L890.9,623.3 L891.4,623.7 L891.9,624.1 L892.4,624.4 L892.9,624.7 L893.4,625.0 L893.9,625.3 L894.4,625.5 L894.9,625.7 L895.4,625.9 L895.9,626.0 L896.4,626.2 L896.9,626.3 L897.4,626.4 L897.9,626.5 L898.4,626.7 L898.9,626.8 L899.4,626.8 L899.9,626.9 L900.4,627.0 L900.9,627.1 L901.4,627.2 L901.9,627.2 L902.4,627.3 L902.9,627.4 L903.4,627.4 L903.9,627.5 L904.4,627.5 L904.9,627.6 L905.4,627.6 L905.9,627.7 L906.4,627.7 L906.9,627.8 L907.4,627.8 L907.9,627.9 L908.4,627.9 L908.9,628.0 L909.4,628.0 L909.9,628.1 L910.4,628.1 L910.9,628.2 L911.4,628.2 L911.9,628.2 L912.4,628.3 L912.9,628.3 L913.4,628.4 L913.9,628.4 L914.4,628.4 L914.9,628.5 L915.4,628.5 L915.9,628.6 L916.4,628.6 L916.9,628.6 L917.4,628.7 L917.9,628.7 L918.4,628.8 L918.9,628.8 L919.4,628.8 L919.9,628.9 L920.4,628.9 L920.9,628.9 L921.4,629.0 L921.9,629.0 L922.4,629.0 L922.9,629.1 L923.4,629.1 L923.9,629.1 L924.4,629.2 L924.9,629.2 L925.4,629.2 L925.9,629.3 L926.4,629.3 L926.9,629.3 L927.4,629.4 L927.9,629.4 L928.4,629.4 L928.9,629.5 L929.4,629.5 L929.9,629.5 L930.4,629.6 L930.9,629.6 L931.4,629.6 L931.9,629.7 L932.4,629.7 L932.9,629.7 L933.4,629.7 L933.9,629.8 L934.4,629.8 L934.9,629.8 L935.4,629.9 L935.9,629.9 L936.4,629.9 L936.9,630.0 L937.4,630.0 L937.9,630.0 L938.4,630.0 L938.9,630.1 L939.4,630.1 L939.9,630.1 L940.4,630.2 L940.9,630.2 L941.4,630.2 L941.9,630.2 L942.4,630.3 L942.9,630.3 L943.4,630.3 L943.9,630.4 L944.4,630.4 L944.9,630.4 L945.4,630.4 L945.9,630.5 L946.4,630.5 L946.9,630.5 L947.4,630.6 L947.9,630.6 L948.4,630.6 L948.9,630.6 L949.4,630.7 L949.9,630.7 L950.4,630.7 L950.9,630.7 L951.4,630.8 L951.9,630.8 L952.4,630.8 L952.9,630.9 L953.4,630.9 L953.9,630.9 L954.4,630.9 L954.9,631.0 L955.4,631.0 L955.9,631.0 L956.4,631.0 L956.9,631.1 L957.4,631.1 L957.9,631.1 L958.4,631.1 L958.9,631.2 L959.4,631.2 L959.9,631.2 L960.4,631.3 L960.9,631.3 L961.4,631.3 L961.9,631.3 L962.4,631.4 L962.9,631.4 L963.4,631.4 L963.9,631.4 L964.4,631.5 L964.9,631.5 L965.4,631.5 L965.9,631.5 L966.4,631.6 L966.9,631.6 L967.4,631.6 L967.9,631.6 L968.4,631.7 L968.9,631.7 L969.4,631.7 L969.9,631.7 L970.4,631.8 L970.9,631.8 L971.4,631.8 L971.9,631.9 L972.4,631.9 L972.9,631.9 L973.4,631.9 L973.9,632.0 L974.4,632.0 L974.9,632.0 L975.4,632.0 L975.9,632.1 L976.4,632.1 L976.9,632.1 L977.4,632.1 L977.9,632.2 L978.4,632.2 L978.9,632.2 L979.4,632.2 L979.9,632.3 L980.4,632.3 L980.9,632.3 L981.4,632.3 L981.9,632.4 L982.4,632.4 L982.9,632.4" fill="none" stroke="#9d84c8" stroke-width="1.7" stroke-linejoin="round" stroke-linecap="round"/>
</g></svg>
</body></html>
